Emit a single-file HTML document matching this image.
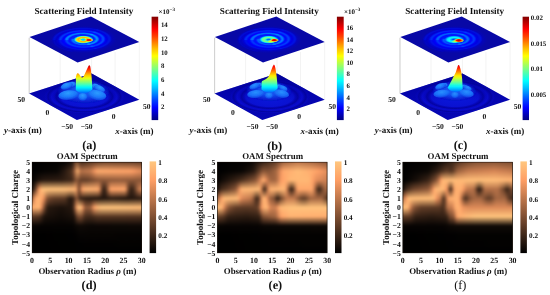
<!DOCTYPE html>
<html lang="en"><head><meta charset="utf-8"><title>Scattering field intensity and OAM spectrum</title>
<style>html,body{margin:0;padding:0;background:#fff}svg{display:block}text{font-family:"Liberation Serif","DejaVu Serif",serif;fill:#111;text-rendering:geometricPrecision}</style></head>
<body><svg width="550" height="295" viewBox="0 0 550 295">
<rect width="550" height="295" fill="#fff"/>
<defs>
<linearGradient id="jetcb" x1="0" y1="1" x2="0" y2="0"><stop offset="0" stop-color="#000080"/><stop offset="0.06" stop-color="#0000bf"/><stop offset="0.12" stop-color="#0000ff"/><stop offset="0.19" stop-color="#0040ff"/><stop offset="0.25" stop-color="#0080ff"/><stop offset="0.31" stop-color="#00bfff"/><stop offset="0.38" stop-color="#00ffff"/><stop offset="0.44" stop-color="#40ffbf"/><stop offset="0.5" stop-color="#80ff80"/><stop offset="0.56" stop-color="#bfff40"/><stop offset="0.62" stop-color="#ffff00"/><stop offset="0.69" stop-color="#ffbf00"/><stop offset="0.75" stop-color="#ff8000"/><stop offset="0.81" stop-color="#ff4000"/><stop offset="0.88" stop-color="#ff0000"/><stop offset="0.94" stop-color="#bf0000"/><stop offset="1" stop-color="#800000"/></linearGradient>
<linearGradient id="copcb" x1="0" y1="1" x2="0" y2="0"><stop offset="0" stop-color="#000000"/><stop offset="0.8" stop-color="#ff9f65"/><stop offset="1" stop-color="#ffc77f"/></linearGradient>
<filter id="b1" x="-20%" y="-20%" width="140%" height="140%"><feGaussianBlur stdDeviation="0.6"/></filter>
<filter id="b2" x="-20%" y="-20%" width="140%" height="140%"><feGaussianBlur stdDeviation="1.1"/></filter>
<filter id="b3" x="-20%" y="-20%" width="140%" height="140%"><feGaussianBlur stdDeviation="1.8"/></filter>
<filter id="hb" x="-5%" y="-5%" width="110%" height="110%" color-interpolation-filters="sRGB"><feGaussianBlur stdDeviation="1.4 1.0"/></filter>
<linearGradient id="pk_a" gradientUnits="userSpaceOnUse" x1="0" y1="63.8" x2="0" y2="92.5"><stop offset="0" stop-color="#9e0000"/><stop offset="0.08" stop-color="#dc0000"/><stop offset="0.17" stop-color="#ff1b00"/><stop offset="0.25" stop-color="#ff5900"/><stop offset="0.33" stop-color="#ff9700"/><stop offset="0.42" stop-color="#ffd500"/><stop offset="0.5" stop-color="#ebff14"/><stop offset="0.58" stop-color="#adff52"/><stop offset="0.67" stop-color="#6eff90"/><stop offset="0.75" stop-color="#30ffcf"/><stop offset="0.83" stop-color="#00f1ff"/><stop offset="0.92" stop-color="#00b3ff"/><stop offset="1" stop-color="#0075ff"/></linearGradient>
<linearGradient id="pk_b" gradientUnits="userSpaceOnUse" x1="0" y1="64" x2="0" y2="92"><stop offset="0" stop-color="#c70000"/><stop offset="0.08" stop-color="#ff0300"/><stop offset="0.17" stop-color="#ff3d00"/><stop offset="0.25" stop-color="#ff7800"/><stop offset="0.33" stop-color="#ffb200"/><stop offset="0.42" stop-color="#ffed00"/><stop offset="0.5" stop-color="#d6ff29"/><stop offset="0.58" stop-color="#9cff63"/><stop offset="0.67" stop-color="#61ff9e"/><stop offset="0.75" stop-color="#26ffd9"/><stop offset="0.83" stop-color="#00ebff"/><stop offset="0.92" stop-color="#00b0ff"/><stop offset="1" stop-color="#0075ff"/></linearGradient>
<linearGradient id="pk_c" gradientUnits="userSpaceOnUse" x1="0" y1="64.5" x2="0" y2="91.5"><stop offset="0" stop-color="#c70000"/><stop offset="0.08" stop-color="#ff0300"/><stop offset="0.17" stop-color="#ff3d00"/><stop offset="0.25" stop-color="#ff7800"/><stop offset="0.33" stop-color="#ffb200"/><stop offset="0.42" stop-color="#ffed00"/><stop offset="0.5" stop-color="#d6ff29"/><stop offset="0.58" stop-color="#9cff63"/><stop offset="0.67" stop-color="#61ff9e"/><stop offset="0.75" stop-color="#26ffd9"/><stop offset="0.83" stop-color="#00ebff"/><stop offset="0.92" stop-color="#00b0ff"/><stop offset="1" stop-color="#0075ff"/></linearGradient>
<radialGradient id="petal" cx="0.5" cy="0.3" r="0.8"><stop offset="0" stop-color="#2c9cff"/><stop offset="0.5" stop-color="#1c78fa"/><stop offset="0.85" stop-color="#0e40e4"/><stop offset="1" stop-color="#0820cc"/></radialGradient>
<radialGradient id="petal2" cx="0.5" cy="0.3" r="0.8"><stop offset="0" stop-color="#2890ff"/><stop offset="0.5" stop-color="#1a6ef8"/><stop offset="0.85" stop-color="#0e3ce2"/><stop offset="1" stop-color="#0820cc"/></radialGradient>
<radialGradient id="halo"><stop offset="0" stop-color="#1a64f6"/><stop offset="0.4" stop-color="#1450ee"/><stop offset="0.7" stop-color="#0a2cda"/><stop offset="0.9" stop-color="#0818c8" stop-opacity="0.7"/><stop offset="1" stop-color="#0606be" stop-opacity="0"/></radialGradient>
<radialGradient id="ring_a" gradientUnits="userSpaceOnUse" cx="0" cy="0" r="48"><stop offset="0" stop-color="#00dbff" stop-opacity="1"/><stop offset="0.05" stop-color="#00dbff" stop-opacity="1"/><stop offset="0.09" stop-color="#d1ff2e" stop-opacity="1"/><stop offset="0.13" stop-color="#ffb300" stop-opacity="1"/><stop offset="0.18" stop-color="#ffdb00" stop-opacity="1"/><stop offset="0.21" stop-color="#57ffa8" stop-opacity="1"/><stop offset="0.24" stop-color="#0094ff" stop-opacity="1"/><stop offset="0.27" stop-color="#0024ff" stop-opacity="1"/><stop offset="0.42" stop-color="#0014ff" stop-opacity="1"/><stop offset="0.54" stop-color="#0000ff" stop-opacity="1"/><stop offset="0.65" stop-color="#0000eb" stop-opacity="0.8"/><stop offset="0.75" stop-color="#0000db" stop-opacity="0.4"/><stop offset="0.88" stop-color="#0000d1" stop-opacity="0"/><stop offset="1" stop-color="#0000d1" stop-opacity="0"/></radialGradient>
<radialGradient id="hot_a"><stop offset="0" stop-color="#e50000"/><stop offset="0.4" stop-color="#ff1a00"/><stop offset="0.62" stop-color="#ffc700" stop-opacity="0.9"/><stop offset="0.82" stop-color="#a8ff57" stop-opacity="0.55"/><stop offset="1" stop-color="#2effd1" stop-opacity="0"/></radialGradient>
<radialGradient id="rip_a" gradientUnits="userSpaceOnUse" cx="0" cy="0" r="52"><stop offset="0" stop-color="#0a18dc" stop-opacity="1"/><stop offset="0.58" stop-color="#0a12d2" stop-opacity="1"/><stop offset="0.64" stop-color="#0606b6" stop-opacity="1"/><stop offset="0.69" stop-color="#0404a2" stop-opacity="1"/><stop offset="0.74" stop-color="#0808c2" stop-opacity="1"/><stop offset="0.8" stop-color="#0a0cce" stop-opacity="1"/><stop offset="0.85" stop-color="#0606b2" stop-opacity="1"/><stop offset="0.89" stop-color="#04049e" stop-opacity="1"/><stop offset="0.94" stop-color="#0808be" stop-opacity="0.7"/><stop offset="1" stop-color="#0606b0" stop-opacity="0"/></radialGradient>
<radialGradient id="ring_b" gradientUnits="userSpaceOnUse" cx="0" cy="0" r="48"><stop offset="0" stop-color="#0061ff" stop-opacity="1"/><stop offset="0.04" stop-color="#0075ff" stop-opacity="1"/><stop offset="0.09" stop-color="#2effd1" stop-opacity="1"/><stop offset="0.13" stop-color="#80ff80" stop-opacity="1"/><stop offset="0.18" stop-color="#57ffa8" stop-opacity="1"/><stop offset="0.21" stop-color="#00dbff" stop-opacity="1"/><stop offset="0.24" stop-color="#0061ff" stop-opacity="1"/><stop offset="0.27" stop-color="#0019ff" stop-opacity="1"/><stop offset="0.42" stop-color="#000fff" stop-opacity="1"/><stop offset="0.54" stop-color="#0000fa" stop-opacity="1"/><stop offset="0.65" stop-color="#0000eb" stop-opacity="0.8"/><stop offset="0.75" stop-color="#0000db" stop-opacity="0.4"/><stop offset="0.88" stop-color="#0000d1" stop-opacity="0"/><stop offset="1" stop-color="#0000d1" stop-opacity="0"/></radialGradient>
<radialGradient id="hot_b"><stop offset="0" stop-color="#c70000"/><stop offset="0.4" stop-color="#fa0000"/><stop offset="0.62" stop-color="#ffa800" stop-opacity="0.9"/><stop offset="0.82" stop-color="#c7ff38" stop-opacity="0.55"/><stop offset="1" stop-color="#4dffb2" stop-opacity="0"/></radialGradient>
<radialGradient id="hot2_b"><stop offset="0" stop-color="#faff05"/><stop offset="0.45" stop-color="#bdff42" stop-opacity="0.9"/><stop offset="0.75" stop-color="#57ffa8" stop-opacity="0.5"/><stop offset="1" stop-color="#05fffa" stop-opacity="0"/></radialGradient>
<radialGradient id="rip_b" gradientUnits="userSpaceOnUse" cx="0" cy="0" r="52"><stop offset="0" stop-color="#0a18dc" stop-opacity="1"/><stop offset="0.58" stop-color="#0a12d2" stop-opacity="1"/><stop offset="0.64" stop-color="#0606b6" stop-opacity="1"/><stop offset="0.69" stop-color="#0404a2" stop-opacity="1"/><stop offset="0.74" stop-color="#0808c2" stop-opacity="1"/><stop offset="0.8" stop-color="#0a0cce" stop-opacity="1"/><stop offset="0.85" stop-color="#0606b2" stop-opacity="1"/><stop offset="0.89" stop-color="#04049e" stop-opacity="1"/><stop offset="0.94" stop-color="#0808be" stop-opacity="0.7"/><stop offset="1" stop-color="#0606b0" stop-opacity="0"/></radialGradient>
<radialGradient id="ring_c" gradientUnits="userSpaceOnUse" cx="0" cy="0" r="48"><stop offset="0" stop-color="#0038ff" stop-opacity="1"/><stop offset="0.04" stop-color="#004dff" stop-opacity="1"/><stop offset="0.09" stop-color="#00c7ff" stop-opacity="1"/><stop offset="0.13" stop-color="#05fffa" stop-opacity="1"/><stop offset="0.18" stop-color="#00e5ff" stop-opacity="1"/><stop offset="0.21" stop-color="#009eff" stop-opacity="1"/><stop offset="0.24" stop-color="#004dff" stop-opacity="1"/><stop offset="0.27" stop-color="#0019ff" stop-opacity="1"/><stop offset="0.42" stop-color="#000aff" stop-opacity="1"/><stop offset="0.54" stop-color="#0000f8" stop-opacity="1"/><stop offset="0.65" stop-color="#0000e8" stop-opacity="0.8"/><stop offset="0.75" stop-color="#0000db" stop-opacity="0.4"/><stop offset="0.88" stop-color="#0000d1" stop-opacity="0"/><stop offset="1" stop-color="#0000d1" stop-opacity="0"/></radialGradient>
<radialGradient id="hot_c"><stop offset="0" stop-color="#c70000"/><stop offset="0.4" stop-color="#fa0000"/><stop offset="0.62" stop-color="#ffa800" stop-opacity="0.9"/><stop offset="0.82" stop-color="#c7ff38" stop-opacity="0.55"/><stop offset="1" stop-color="#4dffb2" stop-opacity="0"/></radialGradient>
<radialGradient id="hot2_c"><stop offset="0" stop-color="#bdff42"/><stop offset="0.45" stop-color="#80ff80" stop-opacity="0.9"/><stop offset="0.75" stop-color="#1affe5" stop-opacity="0.5"/><stop offset="1" stop-color="#00c7ff" stop-opacity="0"/></radialGradient>
<radialGradient id="rip_c" gradientUnits="userSpaceOnUse" cx="0" cy="0" r="52"><stop offset="0" stop-color="#0a18dc" stop-opacity="1"/><stop offset="0.58" stop-color="#0a12d2" stop-opacity="1"/><stop offset="0.64" stop-color="#0606b6" stop-opacity="1"/><stop offset="0.69" stop-color="#0404a2" stop-opacity="1"/><stop offset="0.74" stop-color="#0808c2" stop-opacity="1"/><stop offset="0.8" stop-color="#0a0cce" stop-opacity="1"/><stop offset="0.85" stop-color="#0606b2" stop-opacity="1"/><stop offset="0.89" stop-color="#04049e" stop-opacity="1"/><stop offset="0.94" stop-color="#0808be" stop-opacity="0.7"/><stop offset="1" stop-color="#0606b0" stop-opacity="0"/></radialGradient>
<filter id="b0" x="-20%" y="-20%" width="140%" height="140%"><feGaussianBlur stdDeviation="0.35"/></filter>
<linearGradient id="botshade" gradientUnits="userSpaceOnUse" x1="0" y1="73" x2="0" y2="120"><stop offset="0" stop-color="#000088" stop-opacity="0.75"/><stop offset="0.3" stop-color="#000098" stop-opacity="0.45"/><stop offset="0.6" stop-color="#0000b0" stop-opacity="0"/><stop offset="1" stop-color="#1010d8" stop-opacity="0.12"/></linearGradient>
<clipPath id="cliptop"><polygon points="29.5,37 90.9,16.6 139.3,42 77.6,62.4"/></clipPath>
<clipPath id="clipbot"><polygon points="29.2,93.6 91.6,73.5 139.3,99.8 76.9,119.9"/></clipPath>
<clipPath id="cliph"><rect x="32" y="162" width="109.8" height="91"/></clipPath>
<linearGradient id="hd0" gradientUnits="userSpaceOnUse" x1="0" y1="162" x2="0" y2="253"><stop offset="0" stop-color="#000000"/><stop offset="0.1" stop-color="#000000"/><stop offset="0.2" stop-color="#000000"/><stop offset="0.3" stop-color="#100a06"/><stop offset="0.4" stop-color="#72472d"/><stop offset="0.5" stop-color="#ffad6e"/><stop offset="0.6" stop-color="#5b3924"/><stop offset="0.7" stop-color="#080503"/><stop offset="0.8" stop-color="#000000"/><stop offset="0.9" stop-color="#000000"/><stop offset="1" stop-color="#000000"/></linearGradient>
<linearGradient id="hd1" gradientUnits="userSpaceOnUse" x1="0" y1="162" x2="0" y2="253"><stop offset="0" stop-color="#000000"/><stop offset="0.1" stop-color="#000000"/><stop offset="0.2" stop-color="#000000"/><stop offset="0.3" stop-color="#100a06"/><stop offset="0.4" stop-color="#72472d"/><stop offset="0.5" stop-color="#ffad6e"/><stop offset="0.6" stop-color="#5b3924"/><stop offset="0.7" stop-color="#080503"/><stop offset="0.8" stop-color="#000000"/><stop offset="0.9" stop-color="#000000"/><stop offset="1" stop-color="#000000"/></linearGradient>
<linearGradient id="hd2" gradientUnits="userSpaceOnUse" x1="0" y1="162" x2="0" y2="253"><stop offset="0" stop-color="#000000"/><stop offset="0.1" stop-color="#000000"/><stop offset="0.2" stop-color="#000000"/><stop offset="0.3" stop-color="#100a06"/><stop offset="0.4" stop-color="#72472d"/><stop offset="0.5" stop-color="#ffad6e"/><stop offset="0.6" stop-color="#5b3924"/><stop offset="0.7" stop-color="#080503"/><stop offset="0.8" stop-color="#000000"/><stop offset="0.9" stop-color="#000000"/><stop offset="1" stop-color="#000000"/></linearGradient>
<linearGradient id="hd3" gradientUnits="userSpaceOnUse" x1="0" y1="162" x2="0" y2="253"><stop offset="0" stop-color="#000000"/><stop offset="0.1" stop-color="#010000"/><stop offset="0.2" stop-color="#080503"/><stop offset="0.3" stop-color="#392417"/><stop offset="0.4" stop-color="#cd8052"/><stop offset="0.5" stop-color="#ffaf6f"/><stop offset="0.6" stop-color="#593723"/><stop offset="0.7" stop-color="#080503"/><stop offset="0.8" stop-color="#000000"/><stop offset="0.9" stop-color="#000000"/><stop offset="1" stop-color="#000000"/></linearGradient>
<linearGradient id="hd4" gradientUnits="userSpaceOnUse" x1="0" y1="162" x2="0" y2="253"><stop offset="0" stop-color="#010000"/><stop offset="0.1" stop-color="#010101"/><stop offset="0.2" stop-color="#100a06"/><stop offset="0.3" stop-color="#623d27"/><stop offset="0.4" stop-color="#ffa66a"/><stop offset="0.5" stop-color="#ffb171"/><stop offset="0.6" stop-color="#563622"/><stop offset="0.7" stop-color="#070403"/><stop offset="0.8" stop-color="#000000"/><stop offset="0.9" stop-color="#000000"/><stop offset="1" stop-color="#000000"/></linearGradient>
<linearGradient id="hd5" gradientUnits="userSpaceOnUse" x1="0" y1="162" x2="0" y2="253"><stop offset="0" stop-color="#010100"/><stop offset="0.1" stop-color="#020101"/><stop offset="0.2" stop-color="#160e09"/><stop offset="0.3" stop-color="#ac6c44"/><stop offset="0.4" stop-color="#ffae6f"/><stop offset="0.5" stop-color="#ffb472"/><stop offset="0.6" stop-color="#543421"/><stop offset="0.7" stop-color="#070403"/><stop offset="0.8" stop-color="#000000"/><stop offset="0.9" stop-color="#000000"/><stop offset="1" stop-color="#000000"/></linearGradient>
<linearGradient id="hd6" gradientUnits="userSpaceOnUse" x1="0" y1="162" x2="0" y2="253"><stop offset="0" stop-color="#010101"/><stop offset="0.1" stop-color="#030201"/><stop offset="0.2" stop-color="#1c110b"/><stop offset="0.3" stop-color="#f79a62"/><stop offset="0.4" stop-color="#ffb774"/><stop offset="0.5" stop-color="#ffb674"/><stop offset="0.6" stop-color="#513320"/><stop offset="0.7" stop-color="#060402"/><stop offset="0.8" stop-color="#000000"/><stop offset="0.9" stop-color="#000000"/><stop offset="1" stop-color="#000000"/></linearGradient>
<linearGradient id="hd7" gradientUnits="userSpaceOnUse" x1="0" y1="162" x2="0" y2="253"><stop offset="0" stop-color="#020101"/><stop offset="0.1" stop-color="#030201"/><stop offset="0.2" stop-color="#21150d"/><stop offset="0.3" stop-color="#ffb473"/><stop offset="0.4" stop-color="#ffaa6c"/><stop offset="0.5" stop-color="#f99b63"/><stop offset="0.6" stop-color="#3f2719"/><stop offset="0.7" stop-color="#050302"/><stop offset="0.8" stop-color="#000000"/><stop offset="0.9" stop-color="#000000"/><stop offset="1" stop-color="#000000"/></linearGradient>
<linearGradient id="hd8" gradientUnits="userSpaceOnUse" x1="0" y1="162" x2="0" y2="253"><stop offset="0" stop-color="#020101"/><stop offset="0.1" stop-color="#040302"/><stop offset="0.2" stop-color="#271810"/><stop offset="0.3" stop-color="#ffc17b"/><stop offset="0.4" stop-color="#fc9d64"/><stop offset="0.5" stop-color="#b06e46"/><stop offset="0.6" stop-color="#2c1c12"/><stop offset="0.7" stop-color="#050302"/><stop offset="0.8" stop-color="#000000"/><stop offset="0.9" stop-color="#000000"/><stop offset="1" stop-color="#000000"/></linearGradient>
<linearGradient id="hd9" gradientUnits="userSpaceOnUse" x1="0" y1="162" x2="0" y2="253"><stop offset="0" stop-color="#030201"/><stop offset="0.1" stop-color="#050302"/><stop offset="0.2" stop-color="#281910"/><stop offset="0.3" stop-color="#ffc17b"/><stop offset="0.4" stop-color="#d08253"/><stop offset="0.5" stop-color="#72472d"/><stop offset="0.6" stop-color="#1a100a"/><stop offset="0.7" stop-color="#050302"/><stop offset="0.8" stop-color="#000000"/><stop offset="0.9" stop-color="#000000"/><stop offset="1" stop-color="#000000"/></linearGradient>
<linearGradient id="hd10" gradientUnits="userSpaceOnUse" x1="0" y1="162" x2="0" y2="253"><stop offset="0" stop-color="#030201"/><stop offset="0.1" stop-color="#060302"/><stop offset="0.2" stop-color="#281910"/><stop offset="0.3" stop-color="#ffc17b"/><stop offset="0.4" stop-color="#945c3b"/><stop offset="0.5" stop-color="#3c2618"/><stop offset="0.6" stop-color="#19100a"/><stop offset="0.7" stop-color="#050302"/><stop offset="0.8" stop-color="#010000"/><stop offset="0.9" stop-color="#000000"/><stop offset="1" stop-color="#000000"/></linearGradient>
<linearGradient id="hd11" gradientUnits="userSpaceOnUse" x1="0" y1="162" x2="0" y2="253"><stop offset="0" stop-color="#030201"/><stop offset="0.1" stop-color="#060402"/><stop offset="0.2" stop-color="#291a10"/><stop offset="0.3" stop-color="#ffc17b"/><stop offset="0.4" stop-color="#774b2f"/><stop offset="0.5" stop-color="#26180f"/><stop offset="0.6" stop-color="#180f09"/><stop offset="0.7" stop-color="#050302"/><stop offset="0.8" stop-color="#010000"/><stop offset="0.9" stop-color="#000000"/><stop offset="1" stop-color="#000000"/></linearGradient>
<linearGradient id="hd12" gradientUnits="userSpaceOnUse" x1="0" y1="162" x2="0" y2="253"><stop offset="0" stop-color="#040201"/><stop offset="0.1" stop-color="#070403"/><stop offset="0.2" stop-color="#2a1a11"/><stop offset="0.3" stop-color="#ffc17b"/><stop offset="0.4" stop-color="#70462d"/><stop offset="0.5" stop-color="#24170e"/><stop offset="0.6" stop-color="#170e09"/><stop offset="0.7" stop-color="#050302"/><stop offset="0.8" stop-color="#010000"/><stop offset="0.9" stop-color="#010000"/><stop offset="1" stop-color="#000000"/></linearGradient>
<linearGradient id="hd13" gradientUnits="userSpaceOnUse" x1="0" y1="162" x2="0" y2="253"><stop offset="0" stop-color="#040202"/><stop offset="0.1" stop-color="#080503"/><stop offset="0.2" stop-color="#2a1a11"/><stop offset="0.3" stop-color="#ffc17b"/><stop offset="0.4" stop-color="#69412a"/><stop offset="0.5" stop-color="#23160e"/><stop offset="0.6" stop-color="#160e09"/><stop offset="0.7" stop-color="#050302"/><stop offset="0.8" stop-color="#010000"/><stop offset="0.9" stop-color="#010000"/><stop offset="1" stop-color="#000000"/></linearGradient>
<linearGradient id="hd14" gradientUnits="userSpaceOnUse" x1="0" y1="162" x2="0" y2="253"><stop offset="0" stop-color="#040302"/><stop offset="0.1" stop-color="#080503"/><stop offset="0.2" stop-color="#2b1b11"/><stop offset="0.3" stop-color="#ffc17b"/><stop offset="0.4" stop-color="#623d27"/><stop offset="0.5" stop-color="#21150d"/><stop offset="0.6" stop-color="#150d08"/><stop offset="0.7" stop-color="#050302"/><stop offset="0.8" stop-color="#010100"/><stop offset="0.9" stop-color="#010000"/><stop offset="1" stop-color="#000000"/></linearGradient>
<linearGradient id="hd15" gradientUnits="userSpaceOnUse" x1="0" y1="162" x2="0" y2="253"><stop offset="0" stop-color="#050302"/><stop offset="0.1" stop-color="#090604"/><stop offset="0.2" stop-color="#2c1b11"/><stop offset="0.3" stop-color="#ffc17b"/><stop offset="0.4" stop-color="#603c26"/><stop offset="0.5" stop-color="#1f130c"/><stop offset="0.6" stop-color="#140c08"/><stop offset="0.7" stop-color="#050302"/><stop offset="0.8" stop-color="#010100"/><stop offset="0.9" stop-color="#010000"/><stop offset="1" stop-color="#000000"/></linearGradient>
<linearGradient id="hd16" gradientUnits="userSpaceOnUse" x1="0" y1="162" x2="0" y2="253"><stop offset="0" stop-color="#050302"/><stop offset="0.1" stop-color="#0a0604"/><stop offset="0.2" stop-color="#2c1c12"/><stop offset="0.3" stop-color="#ffc17b"/><stop offset="0.4" stop-color="#5f3c26"/><stop offset="0.5" stop-color="#1d120c"/><stop offset="0.6" stop-color="#120c07"/><stop offset="0.7" stop-color="#050302"/><stop offset="0.8" stop-color="#010100"/><stop offset="0.9" stop-color="#010000"/><stop offset="1" stop-color="#000000"/></linearGradient>
<linearGradient id="hd17" gradientUnits="userSpaceOnUse" x1="0" y1="162" x2="0" y2="253"><stop offset="0" stop-color="#050302"/><stop offset="0.1" stop-color="#110b07"/><stop offset="0.2" stop-color="#2d1c12"/><stop offset="0.3" stop-color="#ffc17b"/><stop offset="0.4" stop-color="#5e3b26"/><stop offset="0.5" stop-color="#1c110b"/><stop offset="0.6" stop-color="#110b07"/><stop offset="0.7" stop-color="#050302"/><stop offset="0.8" stop-color="#010100"/><stop offset="0.9" stop-color="#010100"/><stop offset="1" stop-color="#000000"/></linearGradient>
<linearGradient id="hd18" gradientUnits="userSpaceOnUse" x1="0" y1="162" x2="0" y2="253"><stop offset="0" stop-color="#060402"/><stop offset="0.1" stop-color="#180f0a"/><stop offset="0.2" stop-color="#2e1c12"/><stop offset="0.3" stop-color="#ffc17b"/><stop offset="0.4" stop-color="#5d3a25"/><stop offset="0.5" stop-color="#1a100a"/><stop offset="0.6" stop-color="#100a06"/><stop offset="0.7" stop-color="#050302"/><stop offset="0.8" stop-color="#010100"/><stop offset="0.9" stop-color="#010100"/><stop offset="1" stop-color="#000000"/></linearGradient>
<linearGradient id="hd19" gradientUnits="userSpaceOnUse" x1="0" y1="162" x2="0" y2="253"><stop offset="0" stop-color="#060402"/><stop offset="0.1" stop-color="#20140d"/><stop offset="0.2" stop-color="#311e13"/><stop offset="0.3" stop-color="#ffc07a"/><stop offset="0.4" stop-color="#5c3a25"/><stop offset="0.5" stop-color="#1c110b"/><stop offset="0.6" stop-color="#120b07"/><stop offset="0.7" stop-color="#050302"/><stop offset="0.8" stop-color="#010100"/><stop offset="0.9" stop-color="#010100"/><stop offset="1" stop-color="#000000"/></linearGradient>
<linearGradient id="hd20" gradientUnits="userSpaceOnUse" x1="0" y1="162" x2="0" y2="253"><stop offset="0" stop-color="#070403"/><stop offset="0.1" stop-color="#271810"/><stop offset="0.2" stop-color="#342115"/><stop offset="0.3" stop-color="#ffbe79"/><stop offset="0.4" stop-color="#5b3924"/><stop offset="0.5" stop-color="#1e130c"/><stop offset="0.6" stop-color="#130c08"/><stop offset="0.7" stop-color="#050302"/><stop offset="0.8" stop-color="#010100"/><stop offset="0.9" stop-color="#010100"/><stop offset="1" stop-color="#000000"/></linearGradient>
<linearGradient id="hd21" gradientUnits="userSpaceOnUse" x1="0" y1="162" x2="0" y2="253"><stop offset="0" stop-color="#0b0705"/><stop offset="0.1" stop-color="#321f14"/><stop offset="0.2" stop-color="#372316"/><stop offset="0.3" stop-color="#ffbd78"/><stop offset="0.4" stop-color="#482d1c"/><stop offset="0.5" stop-color="#20140d"/><stop offset="0.6" stop-color="#140d08"/><stop offset="0.7" stop-color="#050302"/><stop offset="0.8" stop-color="#010101"/><stop offset="0.9" stop-color="#010100"/><stop offset="1" stop-color="#000000"/></linearGradient>
<linearGradient id="hd22" gradientUnits="userSpaceOnUse" x1="0" y1="162" x2="0" y2="253"><stop offset="0" stop-color="#100a06"/><stop offset="0.1" stop-color="#3c2618"/><stop offset="0.2" stop-color="#3b2517"/><stop offset="0.3" stop-color="#ffbb77"/><stop offset="0.4" stop-color="#342115"/><stop offset="0.5" stop-color="#22150d"/><stop offset="0.6" stop-color="#160e09"/><stop offset="0.7" stop-color="#050302"/><stop offset="0.8" stop-color="#010101"/><stop offset="0.9" stop-color="#010100"/><stop offset="1" stop-color="#000000"/></linearGradient>
<linearGradient id="hd23" gradientUnits="userSpaceOnUse" x1="0" y1="162" x2="0" y2="253"><stop offset="0" stop-color="#150d08"/><stop offset="0.1" stop-color="#472c1c"/><stop offset="0.2" stop-color="#3e2719"/><stop offset="0.3" stop-color="#ffba76"/><stop offset="0.4" stop-color="#21140d"/><stop offset="0.5" stop-color="#24160e"/><stop offset="0.6" stop-color="#170f09"/><stop offset="0.7" stop-color="#050302"/><stop offset="0.8" stop-color="#010101"/><stop offset="0.9" stop-color="#010100"/><stop offset="1" stop-color="#000000"/></linearGradient>
<linearGradient id="hd24" gradientUnits="userSpaceOnUse" x1="0" y1="162" x2="0" y2="253"><stop offset="0" stop-color="#1a100a"/><stop offset="0.1" stop-color="#513320"/><stop offset="0.2" stop-color="#41291a"/><stop offset="0.3" stop-color="#ffb875"/><stop offset="0.4" stop-color="#2e1c12"/><stop offset="0.5" stop-color="#26180f"/><stop offset="0.6" stop-color="#190f0a"/><stop offset="0.7" stop-color="#050302"/><stop offset="0.8" stop-color="#010101"/><stop offset="0.9" stop-color="#010100"/><stop offset="1" stop-color="#000000"/></linearGradient>
<linearGradient id="hd25" gradientUnits="userSpaceOnUse" x1="0" y1="162" x2="0" y2="253"><stop offset="0" stop-color="#452b1b"/><stop offset="0.1" stop-color="#8a5637"/><stop offset="0.2" stop-color="#603c26"/><stop offset="0.3" stop-color="#ffb774"/><stop offset="0.4" stop-color="#3b2517"/><stop offset="0.5" stop-color="#553522"/><stop offset="0.6" stop-color="#1a100a"/><stop offset="0.7" stop-color="#080503"/><stop offset="0.8" stop-color="#020101"/><stop offset="0.9" stop-color="#010100"/><stop offset="1" stop-color="#000000"/></linearGradient>
<linearGradient id="hd26" gradientUnits="userSpaceOnUse" x1="0" y1="162" x2="0" y2="253"><stop offset="0" stop-color="#6f452c"/><stop offset="0.1" stop-color="#c37a4e"/><stop offset="0.2" stop-color="#805033"/><stop offset="0.3" stop-color="#ffb070"/><stop offset="0.4" stop-color="#7c4d31"/><stop offset="0.5" stop-color="#c67c4f"/><stop offset="0.6" stop-color="#462c1c"/><stop offset="0.7" stop-color="#0b0704"/><stop offset="0.8" stop-color="#020101"/><stop offset="0.9" stop-color="#010101"/><stop offset="1" stop-color="#000000"/></linearGradient>
<linearGradient id="hd27" gradientUnits="userSpaceOnUse" x1="0" y1="162" x2="0" y2="253"><stop offset="0" stop-color="#794b30"/><stop offset="0.1" stop-color="#ffbd78"/><stop offset="0.2" stop-color="#875536"/><stop offset="0.3" stop-color="#ba744a"/><stop offset="0.4" stop-color="#875436"/><stop offset="0.5" stop-color="#ffae6f"/><stop offset="0.6" stop-color="#72472d"/><stop offset="0.7" stop-color="#0d0805"/><stop offset="0.8" stop-color="#040302"/><stop offset="0.9" stop-color="#010101"/><stop offset="1" stop-color="#000000"/></linearGradient>
<linearGradient id="hd28" gradientUnits="userSpaceOnUse" x1="0" y1="162" x2="0" y2="253"><stop offset="0" stop-color="#513320"/><stop offset="0.1" stop-color="#ce8152"/><stop offset="0.2" stop-color="#6c442b"/><stop offset="0.3" stop-color="#5d3a25"/><stop offset="0.4" stop-color="#41291a"/><stop offset="0.5" stop-color="#ffc77f"/><stop offset="0.6" stop-color="#774a2f"/><stop offset="0.7" stop-color="#100a06"/><stop offset="0.8" stop-color="#070403"/><stop offset="0.9" stop-color="#010101"/><stop offset="1" stop-color="#000000"/></linearGradient>
<linearGradient id="hd29" gradientUnits="userSpaceOnUse" x1="0" y1="162" x2="0" y2="253"><stop offset="0" stop-color="#442a1b"/><stop offset="0.1" stop-color="#b37047"/><stop offset="0.2" stop-color="#623d27"/><stop offset="0.3" stop-color="#e8915c"/><stop offset="0.4" stop-color="#392417"/><stop offset="0.5" stop-color="#ffb473"/><stop offset="0.6" stop-color="#7c4d31"/><stop offset="0.7" stop-color="#0f0a06"/><stop offset="0.8" stop-color="#060403"/><stop offset="0.9" stop-color="#010101"/><stop offset="1" stop-color="#000000"/></linearGradient>
<linearGradient id="hd30" gradientUnits="userSpaceOnUse" x1="0" y1="162" x2="0" y2="253"><stop offset="0" stop-color="#482d1d"/><stop offset="0.1" stop-color="#b67248"/><stop offset="0.2" stop-color="#623d27"/><stop offset="0.3" stop-color="#ffa76a"/><stop offset="0.4" stop-color="#311e13"/><stop offset="0.5" stop-color="#e48e5b"/><stop offset="0.6" stop-color="#623d27"/><stop offset="0.7" stop-color="#0f0906"/><stop offset="0.8" stop-color="#060403"/><stop offset="0.9" stop-color="#020101"/><stop offset="1" stop-color="#000000"/></linearGradient>
<linearGradient id="hd31" gradientUnits="userSpaceOnUse" x1="0" y1="162" x2="0" y2="253"><stop offset="0" stop-color="#4d301f"/><stop offset="0.1" stop-color="#b9744a"/><stop offset="0.2" stop-color="#623d27"/><stop offset="0.3" stop-color="#ffad6e"/><stop offset="0.4" stop-color="#2e1d12"/><stop offset="0.5" stop-color="#925b3a"/><stop offset="0.6" stop-color="#482d1c"/><stop offset="0.7" stop-color="#0e0905"/><stop offset="0.8" stop-color="#060403"/><stop offset="0.9" stop-color="#020101"/><stop offset="1" stop-color="#000000"/></linearGradient>
<linearGradient id="hd32" gradientUnits="userSpaceOnUse" x1="0" y1="162" x2="0" y2="253"><stop offset="0" stop-color="#523321"/><stop offset="0.1" stop-color="#bd764b"/><stop offset="0.2" stop-color="#623d27"/><stop offset="0.3" stop-color="#ffb372"/><stop offset="0.4" stop-color="#2c1b11"/><stop offset="0.5" stop-color="#925b3a"/><stop offset="0.6" stop-color="#452b1c"/><stop offset="0.7" stop-color="#0d0805"/><stop offset="0.8" stop-color="#060403"/><stop offset="0.9" stop-color="#020101"/><stop offset="1" stop-color="#000000"/></linearGradient>
<linearGradient id="hd33" gradientUnits="userSpaceOnUse" x1="0" y1="162" x2="0" y2="253"><stop offset="0" stop-color="#563622"/><stop offset="0.1" stop-color="#c0784c"/><stop offset="0.2" stop-color="#684129"/><stop offset="0.3" stop-color="#ffb271"/><stop offset="0.4" stop-color="#291a10"/><stop offset="0.5" stop-color="#925b3a"/><stop offset="0.6" stop-color="#432a1b"/><stop offset="0.7" stop-color="#0c0805"/><stop offset="0.8" stop-color="#060402"/><stop offset="0.9" stop-color="#020101"/><stop offset="1" stop-color="#000000"/></linearGradient>
<linearGradient id="hd34" gradientUnits="userSpaceOnUse" x1="0" y1="162" x2="0" y2="253"><stop offset="0" stop-color="#5b3924"/><stop offset="0.1" stop-color="#c37a4e"/><stop offset="0.2" stop-color="#6f452c"/><stop offset="0.3" stop-color="#ffb171"/><stop offset="0.4" stop-color="#271810"/><stop offset="0.5" stop-color="#925b3a"/><stop offset="0.6" stop-color="#41291a"/><stop offset="0.7" stop-color="#0b0705"/><stop offset="0.8" stop-color="#060402"/><stop offset="0.9" stop-color="#020101"/><stop offset="1" stop-color="#000000"/></linearGradient>
<linearGradient id="hd35" gradientUnits="userSpaceOnUse" x1="0" y1="162" x2="0" y2="253"><stop offset="0" stop-color="#5d3a25"/><stop offset="0.1" stop-color="#d78655"/><stop offset="0.2" stop-color="#75492f"/><stop offset="0.3" stop-color="#ffb070"/><stop offset="0.4" stop-color="#26180f"/><stop offset="0.5" stop-color="#c47b4e"/><stop offset="0.6" stop-color="#462c1c"/><stop offset="0.7" stop-color="#0b0705"/><stop offset="0.8" stop-color="#060402"/><stop offset="0.9" stop-color="#020101"/><stop offset="1" stop-color="#000000"/></linearGradient>
<linearGradient id="hd36" gradientUnits="userSpaceOnUse" x1="0" y1="162" x2="0" y2="253"><stop offset="0" stop-color="#603c26"/><stop offset="0.1" stop-color="#ea925d"/><stop offset="0.2" stop-color="#7c4d31"/><stop offset="0.3" stop-color="#ffaf70"/><stop offset="0.4" stop-color="#25170f"/><stop offset="0.5" stop-color="#f69a62"/><stop offset="0.6" stop-color="#4b2f1e"/><stop offset="0.7" stop-color="#0b0705"/><stop offset="0.8" stop-color="#060402"/><stop offset="0.9" stop-color="#020101"/><stop offset="1" stop-color="#000000"/></linearGradient>
<linearGradient id="hd37" gradientUnits="userSpaceOnUse" x1="0" y1="162" x2="0" y2="253"><stop offset="0" stop-color="#623d27"/><stop offset="0.1" stop-color="#fe9e65"/><stop offset="0.2" stop-color="#825134"/><stop offset="0.3" stop-color="#ffae6f"/><stop offset="0.4" stop-color="#24160e"/><stop offset="0.5" stop-color="#ffaf70"/><stop offset="0.6" stop-color="#503220"/><stop offset="0.7" stop-color="#0c0705"/><stop offset="0.8" stop-color="#060402"/><stop offset="0.9" stop-color="#020101"/><stop offset="1" stop-color="#000000"/></linearGradient>
<linearGradient id="hd38" gradientUnits="userSpaceOnUse" x1="0" y1="162" x2="0" y2="253"><stop offset="0" stop-color="#653f28"/><stop offset="0.1" stop-color="#ffab6d"/><stop offset="0.2" stop-color="#895536"/><stop offset="0.3" stop-color="#ffad6e"/><stop offset="0.4" stop-color="#23160e"/><stop offset="0.5" stop-color="#ffb674"/><stop offset="0.6" stop-color="#553522"/><stop offset="0.7" stop-color="#0c0705"/><stop offset="0.8" stop-color="#060402"/><stop offset="0.9" stop-color="#020101"/><stop offset="1" stop-color="#000000"/></linearGradient>
<linearGradient id="hd39" gradientUnits="userSpaceOnUse" x1="0" y1="162" x2="0" y2="253"><stop offset="0" stop-color="#674129"/><stop offset="0.1" stop-color="#ffaa6c"/><stop offset="0.2" stop-color="#895637"/><stop offset="0.3" stop-color="#e8915c"/><stop offset="0.4" stop-color="#22150d"/><stop offset="0.5" stop-color="#ffbc78"/><stop offset="0.6" stop-color="#543522"/><stop offset="0.7" stop-color="#0c0705"/><stop offset="0.8" stop-color="#060402"/><stop offset="0.9" stop-color="#020101"/><stop offset="1" stop-color="#000000"/></linearGradient>
<linearGradient id="hd40" gradientUnits="userSpaceOnUse" x1="0" y1="162" x2="0" y2="253"><stop offset="0" stop-color="#6a422a"/><stop offset="0.1" stop-color="#ffaa6c"/><stop offset="0.2" stop-color="#8a5637"/><stop offset="0.3" stop-color="#784b30"/><stop offset="0.4" stop-color="#21140d"/><stop offset="0.5" stop-color="#ffc37c"/><stop offset="0.6" stop-color="#543522"/><stop offset="0.7" stop-color="#0c0705"/><stop offset="0.8" stop-color="#060402"/><stop offset="0.9" stop-color="#020101"/><stop offset="1" stop-color="#000000"/></linearGradient>
<linearGradient id="hd41" gradientUnits="userSpaceOnUse" x1="0" y1="162" x2="0" y2="253"><stop offset="0" stop-color="#6c442b"/><stop offset="0.1" stop-color="#ffa96c"/><stop offset="0.2" stop-color="#8b5737"/><stop offset="0.3" stop-color="#392317"/><stop offset="0.4" stop-color="#23160e"/><stop offset="0.5" stop-color="#ffc37c"/><stop offset="0.6" stop-color="#543521"/><stop offset="0.7" stop-color="#0c0705"/><stop offset="0.8" stop-color="#060402"/><stop offset="0.9" stop-color="#020101"/><stop offset="1" stop-color="#000000"/></linearGradient>
<linearGradient id="hd42" gradientUnits="userSpaceOnUse" x1="0" y1="162" x2="0" y2="253"><stop offset="0" stop-color="#6f452c"/><stop offset="0.1" stop-color="#ffa96b"/><stop offset="0.2" stop-color="#8c5738"/><stop offset="0.3" stop-color="#332014"/><stop offset="0.4" stop-color="#25170f"/><stop offset="0.5" stop-color="#ffc37c"/><stop offset="0.6" stop-color="#543421"/><stop offset="0.7" stop-color="#0c0705"/><stop offset="0.8" stop-color="#060402"/><stop offset="0.9" stop-color="#020101"/><stop offset="1" stop-color="#000000"/></linearGradient>
<linearGradient id="hd43" gradientUnits="userSpaceOnUse" x1="0" y1="162" x2="0" y2="253"><stop offset="0" stop-color="#6e452c"/><stop offset="0.1" stop-color="#ffa86b"/><stop offset="0.2" stop-color="#8d5838"/><stop offset="0.3" stop-color="#72472d"/><stop offset="0.4" stop-color="#271810"/><stop offset="0.5" stop-color="#ffc37c"/><stop offset="0.6" stop-color="#543421"/><stop offset="0.7" stop-color="#0c0705"/><stop offset="0.8" stop-color="#060402"/><stop offset="0.9" stop-color="#020101"/><stop offset="1" stop-color="#000000"/></linearGradient>
<linearGradient id="hd44" gradientUnits="userSpaceOnUse" x1="0" y1="162" x2="0" y2="253"><stop offset="0" stop-color="#6d442b"/><stop offset="0.1" stop-color="#ffa86b"/><stop offset="0.2" stop-color="#8d5838"/><stop offset="0.3" stop-color="#bb754a"/><stop offset="0.4" stop-color="#291a10"/><stop offset="0.5" stop-color="#ffc27c"/><stop offset="0.6" stop-color="#543421"/><stop offset="0.7" stop-color="#0c0705"/><stop offset="0.8" stop-color="#060402"/><stop offset="0.9" stop-color="#020101"/><stop offset="1" stop-color="#000000"/></linearGradient>
<linearGradient id="hd45" gradientUnits="userSpaceOnUse" x1="0" y1="162" x2="0" y2="253"><stop offset="0" stop-color="#6d442b"/><stop offset="0.1" stop-color="#ffa76a"/><stop offset="0.2" stop-color="#8e5939"/><stop offset="0.3" stop-color="#ffa368"/><stop offset="0.4" stop-color="#2b1b11"/><stop offset="0.5" stop-color="#ffc27c"/><stop offset="0.6" stop-color="#543421"/><stop offset="0.7" stop-color="#0c0805"/><stop offset="0.8" stop-color="#060402"/><stop offset="0.9" stop-color="#020101"/><stop offset="1" stop-color="#000000"/></linearGradient>
<linearGradient id="hd46" gradientUnits="userSpaceOnUse" x1="0" y1="162" x2="0" y2="253"><stop offset="0" stop-color="#6c432b"/><stop offset="0.1" stop-color="#ffa76a"/><stop offset="0.2" stop-color="#8f5939"/><stop offset="0.3" stop-color="#ffa368"/><stop offset="0.4" stop-color="#2e1c12"/><stop offset="0.5" stop-color="#ffc27c"/><stop offset="0.6" stop-color="#533421"/><stop offset="0.7" stop-color="#0c0805"/><stop offset="0.8" stop-color="#060402"/><stop offset="0.9" stop-color="#020101"/><stop offset="1" stop-color="#000000"/></linearGradient>
<linearGradient id="hd47" gradientUnits="userSpaceOnUse" x1="0" y1="162" x2="0" y2="253"><stop offset="0" stop-color="#6b432b"/><stop offset="0.1" stop-color="#ffa66a"/><stop offset="0.2" stop-color="#905a39"/><stop offset="0.3" stop-color="#ffa468"/><stop offset="0.4" stop-color="#2c1b11"/><stop offset="0.5" stop-color="#ffc27b"/><stop offset="0.6" stop-color="#533421"/><stop offset="0.7" stop-color="#0c0805"/><stop offset="0.8" stop-color="#060302"/><stop offset="0.9" stop-color="#020201"/><stop offset="1" stop-color="#000000"/></linearGradient>
<linearGradient id="hd48" gradientUnits="userSpaceOnUse" x1="0" y1="162" x2="0" y2="253"><stop offset="0" stop-color="#6b432a"/><stop offset="0.1" stop-color="#ffa66a"/><stop offset="0.2" stop-color="#915a3a"/><stop offset="0.3" stop-color="#ffa468"/><stop offset="0.4" stop-color="#2a1a11"/><stop offset="0.5" stop-color="#ffc27b"/><stop offset="0.6" stop-color="#533421"/><stop offset="0.7" stop-color="#0c0805"/><stop offset="0.8" stop-color="#060302"/><stop offset="0.9" stop-color="#020201"/><stop offset="1" stop-color="#000000"/></linearGradient>
<linearGradient id="hd49" gradientUnits="userSpaceOnUse" x1="0" y1="162" x2="0" y2="253"><stop offset="0" stop-color="#6a422a"/><stop offset="0.1" stop-color="#ffa569"/><stop offset="0.2" stop-color="#915b3a"/><stop offset="0.3" stop-color="#ffa569"/><stop offset="0.4" stop-color="#291910"/><stop offset="0.5" stop-color="#ffc27b"/><stop offset="0.6" stop-color="#533421"/><stop offset="0.7" stop-color="#0c0805"/><stop offset="0.8" stop-color="#050302"/><stop offset="0.9" stop-color="#030201"/><stop offset="1" stop-color="#000000"/></linearGradient>
<linearGradient id="hd50" gradientUnits="userSpaceOnUse" x1="0" y1="162" x2="0" y2="253"><stop offset="0" stop-color="#69422a"/><stop offset="0.1" stop-color="#ffa569"/><stop offset="0.2" stop-color="#925b3a"/><stop offset="0.3" stop-color="#ffa569"/><stop offset="0.4" stop-color="#271810"/><stop offset="0.5" stop-color="#ffc17b"/><stop offset="0.6" stop-color="#533421"/><stop offset="0.7" stop-color="#0c0805"/><stop offset="0.8" stop-color="#050302"/><stop offset="0.9" stop-color="#030201"/><stop offset="1" stop-color="#000000"/></linearGradient>
<linearGradient id="hd51" gradientUnits="userSpaceOnUse" x1="0" y1="162" x2="0" y2="253"><stop offset="0" stop-color="#69412a"/><stop offset="0.1" stop-color="#ffa569"/><stop offset="0.2" stop-color="#915b3a"/><stop offset="0.3" stop-color="#ffa669"/><stop offset="0.4" stop-color="#25170f"/><stop offset="0.5" stop-color="#ffc17b"/><stop offset="0.6" stop-color="#533421"/><stop offset="0.7" stop-color="#0c0805"/><stop offset="0.8" stop-color="#050302"/><stop offset="0.9" stop-color="#030201"/><stop offset="1" stop-color="#000000"/></linearGradient>
<linearGradient id="hd52" gradientUnits="userSpaceOnUse" x1="0" y1="162" x2="0" y2="253"><stop offset="0" stop-color="#684129"/><stop offset="0.1" stop-color="#ffa469"/><stop offset="0.2" stop-color="#915a3a"/><stop offset="0.3" stop-color="#ffa66a"/><stop offset="0.4" stop-color="#24160e"/><stop offset="0.5" stop-color="#ffc17b"/><stop offset="0.6" stop-color="#533421"/><stop offset="0.7" stop-color="#0c0805"/><stop offset="0.8" stop-color="#050302"/><stop offset="0.9" stop-color="#030201"/><stop offset="1" stop-color="#000000"/></linearGradient>
<linearGradient id="hd53" gradientUnits="userSpaceOnUse" x1="0" y1="162" x2="0" y2="253"><stop offset="0" stop-color="#674129"/><stop offset="0.1" stop-color="#ffa468"/><stop offset="0.2" stop-color="#905a39"/><stop offset="0.3" stop-color="#ffa76a"/><stop offset="0.4" stop-color="#22150e"/><stop offset="0.5" stop-color="#ffc07b"/><stop offset="0.6" stop-color="#533421"/><stop offset="0.7" stop-color="#0c0805"/><stop offset="0.8" stop-color="#050302"/><stop offset="0.9" stop-color="#030201"/><stop offset="1" stop-color="#000000"/></linearGradient>
<linearGradient id="hd54" gradientUnits="userSpaceOnUse" x1="0" y1="162" x2="0" y2="253"><stop offset="0" stop-color="#674029"/><stop offset="0.1" stop-color="#ffa368"/><stop offset="0.2" stop-color="#8f5939"/><stop offset="0.3" stop-color="#ad6c45"/><stop offset="0.4" stop-color="#21140d"/><stop offset="0.5" stop-color="#ffc07a"/><stop offset="0.6" stop-color="#523321"/><stop offset="0.7" stop-color="#0d0805"/><stop offset="0.8" stop-color="#050302"/><stop offset="0.9" stop-color="#030201"/><stop offset="1" stop-color="#000000"/></linearGradient>
<linearGradient id="hd55" gradientUnits="userSpaceOnUse" x1="0" y1="162" x2="0" y2="253"><stop offset="0" stop-color="#664029"/><stop offset="0.1" stop-color="#ffa368"/><stop offset="0.2" stop-color="#8e5939"/><stop offset="0.3" stop-color="#5b3924"/><stop offset="0.4" stop-color="#22150e"/><stop offset="0.5" stop-color="#ffbf7a"/><stop offset="0.6" stop-color="#523321"/><stop offset="0.7" stop-color="#0d0805"/><stop offset="0.8" stop-color="#050302"/><stop offset="0.9" stop-color="#030201"/><stop offset="1" stop-color="#000000"/></linearGradient>
<linearGradient id="hd56" gradientUnits="userSpaceOnUse" x1="0" y1="162" x2="0" y2="253"><stop offset="0" stop-color="#653f28"/><stop offset="0.1" stop-color="#ffa368"/><stop offset="0.2" stop-color="#8d5838"/><stop offset="0.3" stop-color="#3b2517"/><stop offset="0.4" stop-color="#24160e"/><stop offset="0.5" stop-color="#ffbf79"/><stop offset="0.6" stop-color="#523321"/><stop offset="0.7" stop-color="#0d0805"/><stop offset="0.8" stop-color="#050302"/><stop offset="0.9" stop-color="#030201"/><stop offset="1" stop-color="#000000"/></linearGradient>
<linearGradient id="hd57" gradientUnits="userSpaceOnUse" x1="0" y1="162" x2="0" y2="253"><stop offset="0" stop-color="#653f28"/><stop offset="0.1" stop-color="#fe9e65"/><stop offset="0.2" stop-color="#8d5838"/><stop offset="0.3" stop-color="#342115"/><stop offset="0.4" stop-color="#25170f"/><stop offset="0.5" stop-color="#ffbe79"/><stop offset="0.6" stop-color="#523321"/><stop offset="0.7" stop-color="#0d0805"/><stop offset="0.8" stop-color="#050302"/><stop offset="0.9" stop-color="#030201"/><stop offset="1" stop-color="#000000"/></linearGradient>
<linearGradient id="hd58" gradientUnits="userSpaceOnUse" x1="0" y1="162" x2="0" y2="253"><stop offset="0" stop-color="#643f28"/><stop offset="0.1" stop-color="#f79a62"/><stop offset="0.2" stop-color="#8c5738"/><stop offset="0.3" stop-color="#553522"/><stop offset="0.4" stop-color="#271810"/><stop offset="0.5" stop-color="#ffbd79"/><stop offset="0.6" stop-color="#523321"/><stop offset="0.7" stop-color="#0d0805"/><stop offset="0.8" stop-color="#050302"/><stop offset="0.9" stop-color="#030201"/><stop offset="1" stop-color="#000000"/></linearGradient>
<linearGradient id="hd59" gradientUnits="userSpaceOnUse" x1="0" y1="162" x2="0" y2="253"><stop offset="0" stop-color="#633e28"/><stop offset="0.1" stop-color="#f19660"/><stop offset="0.2" stop-color="#8b5737"/><stop offset="0.3" stop-color="#7f4f32"/><stop offset="0.4" stop-color="#291910"/><stop offset="0.5" stop-color="#ffbd78"/><stop offset="0.6" stop-color="#523321"/><stop offset="0.7" stop-color="#0d0805"/><stop offset="0.8" stop-color="#050302"/><stop offset="0.9" stop-color="#030201"/><stop offset="1" stop-color="#000000"/></linearGradient>
<linearGradient id="hd60" gradientUnits="userSpaceOnUse" x1="0" y1="162" x2="0" y2="253"><stop offset="0" stop-color="#633e27"/><stop offset="0.1" stop-color="#ea925d"/><stop offset="0.2" stop-color="#8a5637"/><stop offset="0.3" stop-color="#b06e46"/><stop offset="0.4" stop-color="#2a1a11"/><stop offset="0.5" stop-color="#ffbc78"/><stop offset="0.6" stop-color="#523320"/><stop offset="0.7" stop-color="#0d0805"/><stop offset="0.8" stop-color="#050302"/><stop offset="0.9" stop-color="#030201"/><stop offset="1" stop-color="#000000"/></linearGradient>
<linearGradient id="hd61" gradientUnits="userSpaceOnUse" x1="0" y1="162" x2="0" y2="253"><stop offset="0" stop-color="#623d27"/><stop offset="0.1" stop-color="#e48e5b"/><stop offset="0.2" stop-color="#895637"/><stop offset="0.3" stop-color="#c97e50"/><stop offset="0.4" stop-color="#2c1b11"/><stop offset="0.5" stop-color="#ffbc77"/><stop offset="0.6" stop-color="#513320"/><stop offset="0.7" stop-color="#0d0805"/><stop offset="0.8" stop-color="#050302"/><stop offset="0.9" stop-color="#030201"/><stop offset="1" stop-color="#000000"/></linearGradient>
<linearGradient id="hd62" gradientUnits="userSpaceOnUse" x1="0" y1="162" x2="0" y2="253"><stop offset="0" stop-color="#623d27"/><stop offset="0.1" stop-color="#dd8a58"/><stop offset="0.2" stop-color="#895536"/><stop offset="0.3" stop-color="#d38454"/><stop offset="0.4" stop-color="#2e1c12"/><stop offset="0.5" stop-color="#ffbb77"/><stop offset="0.6" stop-color="#513320"/><stop offset="0.7" stop-color="#0d0805"/><stop offset="0.8" stop-color="#050302"/><stop offset="0.9" stop-color="#030201"/><stop offset="1" stop-color="#000000"/></linearGradient>
<linearGradient id="hd63" gradientUnits="userSpaceOnUse" x1="0" y1="162" x2="0" y2="253"><stop offset="0" stop-color="#623d27"/><stop offset="0.1" stop-color="#dd8a58"/><stop offset="0.2" stop-color="#895536"/><stop offset="0.3" stop-color="#d38454"/><stop offset="0.4" stop-color="#2e1c12"/><stop offset="0.5" stop-color="#ffbb77"/><stop offset="0.6" stop-color="#513320"/><stop offset="0.7" stop-color="#0d0805"/><stop offset="0.8" stop-color="#050302"/><stop offset="0.9" stop-color="#030201"/><stop offset="1" stop-color="#000000"/></linearGradient>
<linearGradient id="hd64" gradientUnits="userSpaceOnUse" x1="0" y1="162" x2="0" y2="253"><stop offset="0" stop-color="#623d27"/><stop offset="0.1" stop-color="#dd8a58"/><stop offset="0.2" stop-color="#895536"/><stop offset="0.3" stop-color="#d38454"/><stop offset="0.4" stop-color="#2e1c12"/><stop offset="0.5" stop-color="#ffbb77"/><stop offset="0.6" stop-color="#513320"/><stop offset="0.7" stop-color="#0d0805"/><stop offset="0.8" stop-color="#050302"/><stop offset="0.9" stop-color="#030201"/><stop offset="1" stop-color="#000000"/></linearGradient>
<linearGradient id="he0" gradientUnits="userSpaceOnUse" x1="0" y1="162" x2="0" y2="253"><stop offset="0" stop-color="#000000"/><stop offset="0.1" stop-color="#000000"/><stop offset="0.2" stop-color="#000000"/><stop offset="0.3" stop-color="#100a06"/><stop offset="0.4" stop-color="#925b3a"/><stop offset="0.5" stop-color="#ffbb77"/><stop offset="0.6" stop-color="#684129"/><stop offset="0.7" stop-color="#080503"/><stop offset="0.8" stop-color="#000000"/><stop offset="0.9" stop-color="#000000"/><stop offset="1" stop-color="#000000"/></linearGradient>
<linearGradient id="he1" gradientUnits="userSpaceOnUse" x1="0" y1="162" x2="0" y2="253"><stop offset="0" stop-color="#000000"/><stop offset="0.1" stop-color="#000000"/><stop offset="0.2" stop-color="#000000"/><stop offset="0.3" stop-color="#100a06"/><stop offset="0.4" stop-color="#925b3a"/><stop offset="0.5" stop-color="#ffbb77"/><stop offset="0.6" stop-color="#684129"/><stop offset="0.7" stop-color="#080503"/><stop offset="0.8" stop-color="#000000"/><stop offset="0.9" stop-color="#000000"/><stop offset="1" stop-color="#000000"/></linearGradient>
<linearGradient id="he2" gradientUnits="userSpaceOnUse" x1="0" y1="162" x2="0" y2="253"><stop offset="0" stop-color="#000000"/><stop offset="0.1" stop-color="#000000"/><stop offset="0.2" stop-color="#000000"/><stop offset="0.3" stop-color="#100a06"/><stop offset="0.4" stop-color="#925b3a"/><stop offset="0.5" stop-color="#ffbb77"/><stop offset="0.6" stop-color="#684129"/><stop offset="0.7" stop-color="#080503"/><stop offset="0.8" stop-color="#000000"/><stop offset="0.9" stop-color="#000000"/><stop offset="1" stop-color="#000000"/></linearGradient>
<linearGradient id="he3" gradientUnits="userSpaceOnUse" x1="0" y1="162" x2="0" y2="253"><stop offset="0" stop-color="#000000"/><stop offset="0.1" stop-color="#010000"/><stop offset="0.2" stop-color="#070403"/><stop offset="0.3" stop-color="#291910"/><stop offset="0.4" stop-color="#bf784c"/><stop offset="0.5" stop-color="#ffbb77"/><stop offset="0.6" stop-color="#643e28"/><stop offset="0.7" stop-color="#080503"/><stop offset="0.8" stop-color="#000000"/><stop offset="0.9" stop-color="#000000"/><stop offset="1" stop-color="#000000"/></linearGradient>
<linearGradient id="he4" gradientUnits="userSpaceOnUse" x1="0" y1="162" x2="0" y2="253"><stop offset="0" stop-color="#010000"/><stop offset="0.1" stop-color="#010101"/><stop offset="0.2" stop-color="#0d0805"/><stop offset="0.3" stop-color="#41291a"/><stop offset="0.4" stop-color="#ed945e"/><stop offset="0.5" stop-color="#ffbb77"/><stop offset="0.6" stop-color="#5f3c26"/><stop offset="0.7" stop-color="#080503"/><stop offset="0.8" stop-color="#000000"/><stop offset="0.9" stop-color="#000000"/><stop offset="1" stop-color="#000000"/></linearGradient>
<linearGradient id="he5" gradientUnits="userSpaceOnUse" x1="0" y1="162" x2="0" y2="253"><stop offset="0" stop-color="#010100"/><stop offset="0.1" stop-color="#020101"/><stop offset="0.2" stop-color="#120b07"/><stop offset="0.3" stop-color="#492e1d"/><stop offset="0.4" stop-color="#ffb070"/><stop offset="0.5" stop-color="#ffab6d"/><stop offset="0.6" stop-color="#5b3924"/><stop offset="0.7" stop-color="#070503"/><stop offset="0.8" stop-color="#000000"/><stop offset="0.9" stop-color="#000000"/><stop offset="1" stop-color="#000000"/></linearGradient>
<linearGradient id="he6" gradientUnits="userSpaceOnUse" x1="0" y1="162" x2="0" y2="253"><stop offset="0" stop-color="#010101"/><stop offset="0.1" stop-color="#030201"/><stop offset="0.2" stop-color="#170e09"/><stop offset="0.3" stop-color="#513320"/><stop offset="0.4" stop-color="#ffbb77"/><stop offset="0.5" stop-color="#d08253"/><stop offset="0.6" stop-color="#4e311f"/><stop offset="0.7" stop-color="#070403"/><stop offset="0.8" stop-color="#000000"/><stop offset="0.9" stop-color="#000000"/><stop offset="1" stop-color="#000000"/></linearGradient>
<linearGradient id="he7" gradientUnits="userSpaceOnUse" x1="0" y1="162" x2="0" y2="253"><stop offset="0" stop-color="#020101"/><stop offset="0.1" stop-color="#030201"/><stop offset="0.2" stop-color="#1c110b"/><stop offset="0.3" stop-color="#593824"/><stop offset="0.4" stop-color="#ffbb77"/><stop offset="0.5" stop-color="#ab6b44"/><stop offset="0.6" stop-color="#41291a"/><stop offset="0.7" stop-color="#070403"/><stop offset="0.8" stop-color="#000000"/><stop offset="0.9" stop-color="#000000"/><stop offset="1" stop-color="#000000"/></linearGradient>
<linearGradient id="he8" gradientUnits="userSpaceOnUse" x1="0" y1="162" x2="0" y2="253"><stop offset="0" stop-color="#020101"/><stop offset="0.1" stop-color="#040302"/><stop offset="0.2" stop-color="#21140d"/><stop offset="0.3" stop-color="#623d27"/><stop offset="0.4" stop-color="#ffbb77"/><stop offset="0.5" stop-color="#8e5938"/><stop offset="0.6" stop-color="#342115"/><stop offset="0.7" stop-color="#070403"/><stop offset="0.8" stop-color="#000000"/><stop offset="0.9" stop-color="#000000"/><stop offset="1" stop-color="#000000"/></linearGradient>
<linearGradient id="he9" gradientUnits="userSpaceOnUse" x1="0" y1="162" x2="0" y2="253"><stop offset="0" stop-color="#030201"/><stop offset="0.1" stop-color="#050302"/><stop offset="0.2" stop-color="#26180f"/><stop offset="0.3" stop-color="#6b432b"/><stop offset="0.4" stop-color="#ffbb77"/><stop offset="0.5" stop-color="#7d4e32"/><stop offset="0.6" stop-color="#332014"/><stop offset="0.7" stop-color="#070403"/><stop offset="0.8" stop-color="#000000"/><stop offset="0.9" stop-color="#000000"/><stop offset="1" stop-color="#000000"/></linearGradient>
<linearGradient id="he10" gradientUnits="userSpaceOnUse" x1="0" y1="162" x2="0" y2="253"><stop offset="0" stop-color="#030201"/><stop offset="0.1" stop-color="#060302"/><stop offset="0.2" stop-color="#2b1b11"/><stop offset="0.3" stop-color="#75492f"/><stop offset="0.4" stop-color="#ffbb77"/><stop offset="0.5" stop-color="#74482e"/><stop offset="0.6" stop-color="#321f14"/><stop offset="0.7" stop-color="#070403"/><stop offset="0.8" stop-color="#010000"/><stop offset="0.9" stop-color="#000000"/><stop offset="1" stop-color="#000000"/></linearGradient>
<linearGradient id="he11" gradientUnits="userSpaceOnUse" x1="0" y1="162" x2="0" y2="253"><stop offset="0" stop-color="#030201"/><stop offset="0.1" stop-color="#060402"/><stop offset="0.2" stop-color="#311e13"/><stop offset="0.3" stop-color="#7f4f32"/><stop offset="0.4" stop-color="#ffbb77"/><stop offset="0.5" stop-color="#6b432a"/><stop offset="0.6" stop-color="#311f14"/><stop offset="0.7" stop-color="#070403"/><stop offset="0.8" stop-color="#010000"/><stop offset="0.9" stop-color="#000000"/><stop offset="1" stop-color="#000000"/></linearGradient>
<linearGradient id="he12" gradientUnits="userSpaceOnUse" x1="0" y1="162" x2="0" y2="253"><stop offset="0" stop-color="#040201"/><stop offset="0.1" stop-color="#070403"/><stop offset="0.2" stop-color="#362216"/><stop offset="0.3" stop-color="#895536"/><stop offset="0.4" stop-color="#ffbb77"/><stop offset="0.5" stop-color="#623d27"/><stop offset="0.6" stop-color="#301e13"/><stop offset="0.7" stop-color="#070403"/><stop offset="0.8" stop-color="#010000"/><stop offset="0.9" stop-color="#010000"/><stop offset="1" stop-color="#000000"/></linearGradient>
<linearGradient id="he13" gradientUnits="userSpaceOnUse" x1="0" y1="162" x2="0" y2="253"><stop offset="0" stop-color="#040202"/><stop offset="0.1" stop-color="#080503"/><stop offset="0.2" stop-color="#3c2518"/><stop offset="0.3" stop-color="#b16f47"/><stop offset="0.4" stop-color="#ffbb77"/><stop offset="0.5" stop-color="#603c26"/><stop offset="0.6" stop-color="#2f1d13"/><stop offset="0.7" stop-color="#070403"/><stop offset="0.8" stop-color="#010000"/><stop offset="0.9" stop-color="#010000"/><stop offset="1" stop-color="#000000"/></linearGradient>
<linearGradient id="he14" gradientUnits="userSpaceOnUse" x1="0" y1="162" x2="0" y2="253"><stop offset="0" stop-color="#040302"/><stop offset="0.1" stop-color="#080503"/><stop offset="0.2" stop-color="#41291a"/><stop offset="0.3" stop-color="#e08c59"/><stop offset="0.4" stop-color="#ffa76b"/><stop offset="0.5" stop-color="#5f3c26"/><stop offset="0.6" stop-color="#2e1d12"/><stop offset="0.7" stop-color="#070403"/><stop offset="0.8" stop-color="#010100"/><stop offset="0.9" stop-color="#010000"/><stop offset="1" stop-color="#000000"/></linearGradient>
<linearGradient id="he15" gradientUnits="userSpaceOnUse" x1="0" y1="162" x2="0" y2="253"><stop offset="0" stop-color="#050302"/><stop offset="0.1" stop-color="#090604"/><stop offset="0.2" stop-color="#492e1d"/><stop offset="0.3" stop-color="#ffb070"/><stop offset="0.4" stop-color="#e58f5b"/><stop offset="0.5" stop-color="#5e3b26"/><stop offset="0.6" stop-color="#2d1c12"/><stop offset="0.7" stop-color="#070403"/><stop offset="0.8" stop-color="#010100"/><stop offset="0.9" stop-color="#010000"/><stop offset="1" stop-color="#000000"/></linearGradient>
<linearGradient id="he16" gradientUnits="userSpaceOnUse" x1="0" y1="162" x2="0" y2="253"><stop offset="0" stop-color="#050302"/><stop offset="0.1" stop-color="#0a0604"/><stop offset="0.2" stop-color="#513320"/><stop offset="0.3" stop-color="#ffb775"/><stop offset="0.4" stop-color="#d88756"/><stop offset="0.5" stop-color="#5d3a25"/><stop offset="0.6" stop-color="#2c1c12"/><stop offset="0.7" stop-color="#070403"/><stop offset="0.8" stop-color="#010100"/><stop offset="0.9" stop-color="#010000"/><stop offset="1" stop-color="#000000"/></linearGradient>
<linearGradient id="he17" gradientUnits="userSpaceOnUse" x1="0" y1="162" x2="0" y2="253"><stop offset="0" stop-color="#050302"/><stop offset="0.1" stop-color="#0f0906"/><stop offset="0.2" stop-color="#593824"/><stop offset="0.3" stop-color="#ffb875"/><stop offset="0.4" stop-color="#d28354"/><stop offset="0.5" stop-color="#5c3a25"/><stop offset="0.6" stop-color="#2b1b11"/><stop offset="0.7" stop-color="#070403"/><stop offset="0.8" stop-color="#010100"/><stop offset="0.9" stop-color="#010100"/><stop offset="1" stop-color="#000000"/></linearGradient>
<linearGradient id="he18" gradientUnits="userSpaceOnUse" x1="0" y1="162" x2="0" y2="253"><stop offset="0" stop-color="#060402"/><stop offset="0.1" stop-color="#140c08"/><stop offset="0.2" stop-color="#623d27"/><stop offset="0.3" stop-color="#ffb875"/><stop offset="0.4" stop-color="#cc8051"/><stop offset="0.5" stop-color="#5b3924"/><stop offset="0.6" stop-color="#2a1a11"/><stop offset="0.7" stop-color="#070403"/><stop offset="0.8" stop-color="#010100"/><stop offset="0.9" stop-color="#010100"/><stop offset="1" stop-color="#000000"/></linearGradient>
<linearGradient id="he19" gradientUnits="userSpaceOnUse" x1="0" y1="162" x2="0" y2="253"><stop offset="0" stop-color="#060402"/><stop offset="0.1" stop-color="#180f0a"/><stop offset="0.2" stop-color="#69422a"/><stop offset="0.3" stop-color="#ffb875"/><stop offset="0.4" stop-color="#c67c4f"/><stop offset="0.5" stop-color="#5c3a25"/><stop offset="0.6" stop-color="#2c1b11"/><stop offset="0.7" stop-color="#070403"/><stop offset="0.8" stop-color="#010100"/><stop offset="0.9" stop-color="#010100"/><stop offset="1" stop-color="#000000"/></linearGradient>
<linearGradient id="he20" gradientUnits="userSpaceOnUse" x1="0" y1="162" x2="0" y2="253"><stop offset="0" stop-color="#070403"/><stop offset="0.1" stop-color="#1d120c"/><stop offset="0.2" stop-color="#71472d"/><stop offset="0.3" stop-color="#ffb976"/><stop offset="0.4" stop-color="#c0784c"/><stop offset="0.5" stop-color="#5d3a25"/><stop offset="0.6" stop-color="#2d1c12"/><stop offset="0.7" stop-color="#070403"/><stop offset="0.8" stop-color="#010100"/><stop offset="0.9" stop-color="#010100"/><stop offset="1" stop-color="#000000"/></linearGradient>
<linearGradient id="he21" gradientUnits="userSpaceOnUse" x1="0" y1="162" x2="0" y2="253"><stop offset="0" stop-color="#0d0805"/><stop offset="0.1" stop-color="#22150e"/><stop offset="0.2" stop-color="#794c30"/><stop offset="0.3" stop-color="#ffb976"/><stop offset="0.4" stop-color="#ae6d45"/><stop offset="0.5" stop-color="#5e3b25"/><stop offset="0.6" stop-color="#2e1d12"/><stop offset="0.7" stop-color="#070403"/><stop offset="0.8" stop-color="#010101"/><stop offset="0.9" stop-color="#010100"/><stop offset="1" stop-color="#000000"/></linearGradient>
<linearGradient id="he22" gradientUnits="userSpaceOnUse" x1="0" y1="162" x2="0" y2="253"><stop offset="0" stop-color="#140c08"/><stop offset="0.1" stop-color="#271810"/><stop offset="0.2" stop-color="#815033"/><stop offset="0.3" stop-color="#ffba76"/><stop offset="0.4" stop-color="#895536"/><stop offset="0.5" stop-color="#5f3b26"/><stop offset="0.6" stop-color="#301e13"/><stop offset="0.7" stop-color="#070403"/><stop offset="0.8" stop-color="#010101"/><stop offset="0.9" stop-color="#010100"/><stop offset="1" stop-color="#000000"/></linearGradient>
<linearGradient id="he23" gradientUnits="userSpaceOnUse" x1="0" y1="162" x2="0" y2="253"><stop offset="0" stop-color="#1a100a"/><stop offset="0.1" stop-color="#3b2517"/><stop offset="0.2" stop-color="#895536"/><stop offset="0.3" stop-color="#ffba77"/><stop offset="0.4" stop-color="#4c2f1e"/><stop offset="0.5" stop-color="#603c26"/><stop offset="0.6" stop-color="#311f14"/><stop offset="0.7" stop-color="#070403"/><stop offset="0.8" stop-color="#010101"/><stop offset="0.9" stop-color="#010100"/><stop offset="1" stop-color="#000000"/></linearGradient>
<linearGradient id="he24" gradientUnits="userSpaceOnUse" x1="0" y1="162" x2="0" y2="253"><stop offset="0" stop-color="#21140d"/><stop offset="0.1" stop-color="#4e311f"/><stop offset="0.2" stop-color="#a76842"/><stop offset="0.3" stop-color="#ffbb77"/><stop offset="0.4" stop-color="#3a2417"/><stop offset="0.5" stop-color="#613d27"/><stop offset="0.6" stop-color="#332014"/><stop offset="0.7" stop-color="#070403"/><stop offset="0.8" stop-color="#010101"/><stop offset="0.9" stop-color="#010100"/><stop offset="1" stop-color="#000000"/></linearGradient>
<linearGradient id="he25" gradientUnits="userSpaceOnUse" x1="0" y1="162" x2="0" y2="253"><stop offset="0" stop-color="#271810"/><stop offset="0.1" stop-color="#623d27"/><stop offset="0.2" stop-color="#c57b4f"/><stop offset="0.3" stop-color="#ffbb77"/><stop offset="0.4" stop-color="#68412a"/><stop offset="0.5" stop-color="#925b3a"/><stop offset="0.6" stop-color="#342115"/><stop offset="0.7" stop-color="#080503"/><stop offset="0.8" stop-color="#020101"/><stop offset="0.9" stop-color="#010100"/><stop offset="1" stop-color="#000000"/></linearGradient>
<linearGradient id="he26" gradientUnits="userSpaceOnUse" x1="0" y1="162" x2="0" y2="253"><stop offset="0" stop-color="#2e1c12"/><stop offset="0.1" stop-color="#75492f"/><stop offset="0.2" stop-color="#e48e5b"/><stop offset="0.3" stop-color="#d68655"/><stop offset="0.4" stop-color="#c87d50"/><stop offset="0.5" stop-color="#e48e5b"/><stop offset="0.6" stop-color="#5b3924"/><stop offset="0.7" stop-color="#090604"/><stop offset="0.8" stop-color="#020101"/><stop offset="0.9" stop-color="#010101"/><stop offset="1" stop-color="#000000"/></linearGradient>
<linearGradient id="he27" gradientUnits="userSpaceOnUse" x1="0" y1="162" x2="0" y2="253"><stop offset="0" stop-color="#342115"/><stop offset="0.1" stop-color="#895536"/><stop offset="0.2" stop-color="#ffb372"/><stop offset="0.3" stop-color="#73482e"/><stop offset="0.4" stop-color="#ffb372"/><stop offset="0.5" stop-color="#ffa86b"/><stop offset="0.6" stop-color="#825134"/><stop offset="0.7" stop-color="#0a0604"/><stop offset="0.8" stop-color="#020101"/><stop offset="0.9" stop-color="#010101"/><stop offset="1" stop-color="#000000"/></linearGradient>
<linearGradient id="he28" gradientUnits="userSpaceOnUse" x1="0" y1="162" x2="0" y2="253"><stop offset="0" stop-color="#3b2517"/><stop offset="0.1" stop-color="#865435"/><stop offset="0.2" stop-color="#ffa167"/><stop offset="0.3" stop-color="#281910"/><stop offset="0.4" stop-color="#ffb372"/><stop offset="0.5" stop-color="#ffb271"/><stop offset="0.6" stop-color="#875536"/><stop offset="0.7" stop-color="#0b0705"/><stop offset="0.8" stop-color="#020101"/><stop offset="0.9" stop-color="#010101"/><stop offset="1" stop-color="#000000"/></linearGradient>
<linearGradient id="he29" gradientUnits="userSpaceOnUse" x1="0" y1="162" x2="0" y2="253"><stop offset="0" stop-color="#41291a"/><stop offset="0.1" stop-color="#845335"/><stop offset="0.2" stop-color="#d98756"/><stop offset="0.3" stop-color="#8e5939"/><stop offset="0.4" stop-color="#ffa267"/><stop offset="0.5" stop-color="#ffbb77"/><stop offset="0.6" stop-color="#8d5838"/><stop offset="0.7" stop-color="#0b0705"/><stop offset="0.8" stop-color="#020101"/><stop offset="0.9" stop-color="#010101"/><stop offset="1" stop-color="#000000"/></linearGradient>
<linearGradient id="he30" gradientUnits="userSpaceOnUse" x1="0" y1="162" x2="0" y2="253"><stop offset="0" stop-color="#482d1c"/><stop offset="0.1" stop-color="#825134"/><stop offset="0.2" stop-color="#be774b"/><stop offset="0.3" stop-color="#d98857"/><stop offset="0.4" stop-color="#be774c"/><stop offset="0.5" stop-color="#ffa066"/><stop offset="0.6" stop-color="#925b3a"/><stop offset="0.7" stop-color="#0b0705"/><stop offset="0.8" stop-color="#020101"/><stop offset="0.9" stop-color="#020101"/><stop offset="1" stop-color="#000000"/></linearGradient>
<linearGradient id="he31" gradientUnits="userSpaceOnUse" x1="0" y1="162" x2="0" y2="253"><stop offset="0" stop-color="#4e311f"/><stop offset="0.1" stop-color="#8a5637"/><stop offset="0.2" stop-color="#a36641"/><stop offset="0.3" stop-color="#ffb372"/><stop offset="0.4" stop-color="#9b613e"/><stop offset="0.5" stop-color="#d38454"/><stop offset="0.6" stop-color="#965e3c"/><stop offset="0.7" stop-color="#0b0705"/><stop offset="0.8" stop-color="#020201"/><stop offset="0.9" stop-color="#020101"/><stop offset="1" stop-color="#000000"/></linearGradient>
<linearGradient id="he32" gradientUnits="userSpaceOnUse" x1="0" y1="162" x2="0" y2="253"><stop offset="0" stop-color="#553522"/><stop offset="0.1" stop-color="#925b3a"/><stop offset="0.2" stop-color="#a36641"/><stop offset="0.3" stop-color="#ffb372"/><stop offset="0.4" stop-color="#8f5939"/><stop offset="0.5" stop-color="#d08253"/><stop offset="0.6" stop-color="#9a613d"/><stop offset="0.7" stop-color="#0b0705"/><stop offset="0.8" stop-color="#030201"/><stop offset="0.9" stop-color="#020101"/><stop offset="1" stop-color="#000000"/></linearGradient>
<linearGradient id="he33" gradientUnits="userSpaceOnUse" x1="0" y1="162" x2="0" y2="253"><stop offset="0" stop-color="#5b3924"/><stop offset="0.1" stop-color="#9a613d"/><stop offset="0.2" stop-color="#a36641"/><stop offset="0.3" stop-color="#ffb473"/><stop offset="0.4" stop-color="#825134"/><stop offset="0.5" stop-color="#cd8052"/><stop offset="0.6" stop-color="#9e633f"/><stop offset="0.7" stop-color="#0b0705"/><stop offset="0.8" stop-color="#030201"/><stop offset="0.9" stop-color="#020101"/><stop offset="1" stop-color="#000000"/></linearGradient>
<linearGradient id="he34" gradientUnits="userSpaceOnUse" x1="0" y1="162" x2="0" y2="253"><stop offset="0" stop-color="#623d27"/><stop offset="0.1" stop-color="#a36641"/><stop offset="0.2" stop-color="#a36641"/><stop offset="0.3" stop-color="#ffb473"/><stop offset="0.4" stop-color="#553522"/><stop offset="0.5" stop-color="#ca7e50"/><stop offset="0.6" stop-color="#a36641"/><stop offset="0.7" stop-color="#0b0705"/><stop offset="0.8" stop-color="#030201"/><stop offset="0.9" stop-color="#020101"/><stop offset="1" stop-color="#000000"/></linearGradient>
<linearGradient id="he35" gradientUnits="userSpaceOnUse" x1="0" y1="162" x2="0" y2="253"><stop offset="0" stop-color="#70462d"/><stop offset="0.1" stop-color="#bd764b"/><stop offset="0.2" stop-color="#c1794d"/><stop offset="0.3" stop-color="#ffb573"/><stop offset="0.4" stop-color="#271810"/><stop offset="0.5" stop-color="#f0965f"/><stop offset="0.6" stop-color="#c37a4e"/><stop offset="0.7" stop-color="#0b0705"/><stop offset="0.8" stop-color="#030201"/><stop offset="0.9" stop-color="#020101"/><stop offset="1" stop-color="#000000"/></linearGradient>
<linearGradient id="he36" gradientUnits="userSpaceOnUse" x1="0" y1="162" x2="0" y2="253"><stop offset="0" stop-color="#7f4f32"/><stop offset="0.1" stop-color="#d78655"/><stop offset="0.2" stop-color="#df8c59"/><stop offset="0.3" stop-color="#ffb573"/><stop offset="0.4" stop-color="#4c301e"/><stop offset="0.5" stop-color="#ffad6e"/><stop offset="0.6" stop-color="#e48e5b"/><stop offset="0.7" stop-color="#0b0705"/><stop offset="0.8" stop-color="#030201"/><stop offset="0.9" stop-color="#020101"/><stop offset="1" stop-color="#000000"/></linearGradient>
<linearGradient id="he37" gradientUnits="userSpaceOnUse" x1="0" y1="162" x2="0" y2="253"><stop offset="0" stop-color="#8d5838"/><stop offset="0.1" stop-color="#f19660"/><stop offset="0.2" stop-color="#fe9e65"/><stop offset="0.3" stop-color="#ffb674"/><stop offset="0.4" stop-color="#72472d"/><stop offset="0.5" stop-color="#ffb875"/><stop offset="0.6" stop-color="#ffa368"/><stop offset="0.7" stop-color="#0b0705"/><stop offset="0.8" stop-color="#030201"/><stop offset="0.9" stop-color="#020101"/><stop offset="1" stop-color="#000000"/></linearGradient>
<linearGradient id="he38" gradientUnits="userSpaceOnUse" x1="0" y1="162" x2="0" y2="253"><stop offset="0" stop-color="#9c623e"/><stop offset="0.1" stop-color="#ffa76a"/><stop offset="0.2" stop-color="#ffa368"/><stop offset="0.3" stop-color="#ffb674"/><stop offset="0.4" stop-color="#8d5838"/><stop offset="0.5" stop-color="#ffba76"/><stop offset="0.6" stop-color="#ffa66a"/><stop offset="0.7" stop-color="#0c0705"/><stop offset="0.8" stop-color="#030201"/><stop offset="0.9" stop-color="#020101"/><stop offset="1" stop-color="#000000"/></linearGradient>
<linearGradient id="he39" gradientUnits="userSpaceOnUse" x1="0" y1="162" x2="0" y2="253"><stop offset="0" stop-color="#a06440"/><stop offset="0.1" stop-color="#ffa96c"/><stop offset="0.2" stop-color="#ffa86b"/><stop offset="0.3" stop-color="#ffb774"/><stop offset="0.4" stop-color="#a86943"/><stop offset="0.5" stop-color="#ffbc77"/><stop offset="0.6" stop-color="#ffa96c"/><stop offset="0.7" stop-color="#0c0705"/><stop offset="0.8" stop-color="#030201"/><stop offset="0.9" stop-color="#020101"/><stop offset="1" stop-color="#000000"/></linearGradient>
<linearGradient id="he40" gradientUnits="userSpaceOnUse" x1="0" y1="162" x2="0" y2="253"><stop offset="0" stop-color="#a46741"/><stop offset="0.1" stop-color="#ffac6d"/><stop offset="0.2" stop-color="#ffad6e"/><stop offset="0.3" stop-color="#d38454"/><stop offset="0.4" stop-color="#c37a4e"/><stop offset="0.5" stop-color="#ffbd79"/><stop offset="0.6" stop-color="#ffac6e"/><stop offset="0.7" stop-color="#0c0705"/><stop offset="0.8" stop-color="#030201"/><stop offset="0.9" stop-color="#020101"/><stop offset="1" stop-color="#000000"/></linearGradient>
<linearGradient id="he41" gradientUnits="userSpaceOnUse" x1="0" y1="162" x2="0" y2="253"><stop offset="0" stop-color="#a86943"/><stop offset="0.1" stop-color="#ffae6f"/><stop offset="0.2" stop-color="#ffb271"/><stop offset="0.3" stop-color="#825134"/><stop offset="0.4" stop-color="#c37a4e"/><stop offset="0.5" stop-color="#ffbf7a"/><stop offset="0.6" stop-color="#ffb070"/><stop offset="0.7" stop-color="#0c0705"/><stop offset="0.8" stop-color="#030201"/><stop offset="0.9" stop-color="#020101"/><stop offset="1" stop-color="#000000"/></linearGradient>
<linearGradient id="he42" gradientUnits="userSpaceOnUse" x1="0" y1="162" x2="0" y2="253"><stop offset="0" stop-color="#ac6c45"/><stop offset="0.1" stop-color="#ffb171"/><stop offset="0.2" stop-color="#ffb774"/><stop offset="0.3" stop-color="#3d2618"/><stop offset="0.4" stop-color="#c37a4e"/><stop offset="0.5" stop-color="#ffc17b"/><stop offset="0.6" stop-color="#ffb372"/><stop offset="0.7" stop-color="#0c0705"/><stop offset="0.8" stop-color="#030201"/><stop offset="0.9" stop-color="#020101"/><stop offset="1" stop-color="#000000"/></linearGradient>
<linearGradient id="he43" gradientUnits="userSpaceOnUse" x1="0" y1="162" x2="0" y2="253"><stop offset="0" stop-color="#b06e46"/><stop offset="0.1" stop-color="#ffb372"/><stop offset="0.2" stop-color="#ffb774"/><stop offset="0.3" stop-color="#2f1d13"/><stop offset="0.4" stop-color="#c37a4e"/><stop offset="0.5" stop-color="#ffc17b"/><stop offset="0.6" stop-color="#ffb372"/><stop offset="0.7" stop-color="#0c0705"/><stop offset="0.8" stop-color="#030201"/><stop offset="0.9" stop-color="#020101"/><stop offset="1" stop-color="#000000"/></linearGradient>
<linearGradient id="he44" gradientUnits="userSpaceOnUse" x1="0" y1="162" x2="0" y2="253"><stop offset="0" stop-color="#b47148"/><stop offset="0.1" stop-color="#ffb674"/><stop offset="0.2" stop-color="#ffb774"/><stop offset="0.3" stop-color="#74492e"/><stop offset="0.4" stop-color="#c37a4e"/><stop offset="0.5" stop-color="#ffc17b"/><stop offset="0.6" stop-color="#ffb271"/><stop offset="0.7" stop-color="#0c0705"/><stop offset="0.8" stop-color="#030201"/><stop offset="0.9" stop-color="#020101"/><stop offset="1" stop-color="#000000"/></linearGradient>
<linearGradient id="he45" gradientUnits="userSpaceOnUse" x1="0" y1="162" x2="0" y2="253"><stop offset="0" stop-color="#b97349"/><stop offset="0.1" stop-color="#ffb875"/><stop offset="0.2" stop-color="#ffb774"/><stop offset="0.3" stop-color="#bf774c"/><stop offset="0.4" stop-color="#ac6c45"/><stop offset="0.5" stop-color="#ffc17b"/><stop offset="0.6" stop-color="#ffb271"/><stop offset="0.7" stop-color="#0c0705"/><stop offset="0.8" stop-color="#030201"/><stop offset="0.9" stop-color="#020101"/><stop offset="1" stop-color="#000000"/></linearGradient>
<linearGradient id="he46" gradientUnits="userSpaceOnUse" x1="0" y1="162" x2="0" y2="253"><stop offset="0" stop-color="#bd764b"/><stop offset="0.1" stop-color="#ffbb77"/><stop offset="0.2" stop-color="#ffb774"/><stop offset="0.3" stop-color="#ffa76a"/><stop offset="0.4" stop-color="#965d3c"/><stop offset="0.5" stop-color="#ffc17b"/><stop offset="0.6" stop-color="#ffb271"/><stop offset="0.7" stop-color="#0c0805"/><stop offset="0.8" stop-color="#030201"/><stop offset="0.9" stop-color="#020101"/><stop offset="1" stop-color="#000000"/></linearGradient>
<linearGradient id="he47" gradientUnits="userSpaceOnUse" x1="0" y1="162" x2="0" y2="253"><stop offset="0" stop-color="#ba744a"/><stop offset="0.1" stop-color="#ffb976"/><stop offset="0.2" stop-color="#ffb774"/><stop offset="0.3" stop-color="#ffa76a"/><stop offset="0.4" stop-color="#7f4f32"/><stop offset="0.5" stop-color="#ffc17b"/><stop offset="0.6" stop-color="#ffb171"/><stop offset="0.7" stop-color="#0c0805"/><stop offset="0.8" stop-color="#030201"/><stop offset="0.9" stop-color="#020201"/><stop offset="1" stop-color="#000000"/></linearGradient>
<linearGradient id="he48" gradientUnits="userSpaceOnUse" x1="0" y1="162" x2="0" y2="253"><stop offset="0" stop-color="#b87349"/><stop offset="0.1" stop-color="#ffb774"/><stop offset="0.2" stop-color="#ffb774"/><stop offset="0.3" stop-color="#ffa76a"/><stop offset="0.4" stop-color="#684129"/><stop offset="0.5" stop-color="#ffc17b"/><stop offset="0.6" stop-color="#ffb171"/><stop offset="0.7" stop-color="#0c0805"/><stop offset="0.8" stop-color="#030201"/><stop offset="0.9" stop-color="#020201"/><stop offset="1" stop-color="#000000"/></linearGradient>
<linearGradient id="he49" gradientUnits="userSpaceOnUse" x1="0" y1="162" x2="0" y2="253"><stop offset="0" stop-color="#b57148"/><stop offset="0.1" stop-color="#ffb573"/><stop offset="0.2" stop-color="#ffb774"/><stop offset="0.3" stop-color="#ffa76a"/><stop offset="0.4" stop-color="#653f28"/><stop offset="0.5" stop-color="#ffc17b"/><stop offset="0.6" stop-color="#ffb171"/><stop offset="0.7" stop-color="#0c0805"/><stop offset="0.8" stop-color="#030201"/><stop offset="0.9" stop-color="#030201"/><stop offset="1" stop-color="#000000"/></linearGradient>
<linearGradient id="he50" gradientUnits="userSpaceOnUse" x1="0" y1="162" x2="0" y2="253"><stop offset="0" stop-color="#b37047"/><stop offset="0.1" stop-color="#ffb372"/><stop offset="0.2" stop-color="#ffb774"/><stop offset="0.3" stop-color="#ffa76a"/><stop offset="0.4" stop-color="#623d27"/><stop offset="0.5" stop-color="#ffc17b"/><stop offset="0.6" stop-color="#ffb070"/><stop offset="0.7" stop-color="#0c0805"/><stop offset="0.8" stop-color="#030201"/><stop offset="0.9" stop-color="#030201"/><stop offset="1" stop-color="#000000"/></linearGradient>
<linearGradient id="he51" gradientUnits="userSpaceOnUse" x1="0" y1="162" x2="0" y2="253"><stop offset="0" stop-color="#b06e46"/><stop offset="0.1" stop-color="#ffb171"/><stop offset="0.2" stop-color="#ffb774"/><stop offset="0.3" stop-color="#ffa76a"/><stop offset="0.4" stop-color="#774b2f"/><stop offset="0.5" stop-color="#ffc17b"/><stop offset="0.6" stop-color="#ffb070"/><stop offset="0.7" stop-color="#0c0805"/><stop offset="0.8" stop-color="#030201"/><stop offset="0.9" stop-color="#030201"/><stop offset="1" stop-color="#000000"/></linearGradient>
<linearGradient id="he52" gradientUnits="userSpaceOnUse" x1="0" y1="162" x2="0" y2="253"><stop offset="0" stop-color="#ae6d45"/><stop offset="0.1" stop-color="#ffaf6f"/><stop offset="0.2" stop-color="#ffb774"/><stop offset="0.3" stop-color="#ffa76a"/><stop offset="0.4" stop-color="#8d5838"/><stop offset="0.5" stop-color="#ffc17b"/><stop offset="0.6" stop-color="#ffb070"/><stop offset="0.7" stop-color="#0c0805"/><stop offset="0.8" stop-color="#030201"/><stop offset="0.9" stop-color="#030201"/><stop offset="1" stop-color="#000000"/></linearGradient>
<linearGradient id="he53" gradientUnits="userSpaceOnUse" x1="0" y1="162" x2="0" y2="253"><stop offset="0" stop-color="#ac6b44"/><stop offset="0.1" stop-color="#ffad6e"/><stop offset="0.2" stop-color="#ffad6e"/><stop offset="0.3" stop-color="#ffa76a"/><stop offset="0.4" stop-color="#a36641"/><stop offset="0.5" stop-color="#ffc17b"/><stop offset="0.6" stop-color="#ffaf70"/><stop offset="0.7" stop-color="#0c0805"/><stop offset="0.8" stop-color="#030201"/><stop offset="0.9" stop-color="#030201"/><stop offset="1" stop-color="#000000"/></linearGradient>
<linearGradient id="he54" gradientUnits="userSpaceOnUse" x1="0" y1="162" x2="0" y2="253"><stop offset="0" stop-color="#a96a43"/><stop offset="0.1" stop-color="#ffab6d"/><stop offset="0.2" stop-color="#ffa368"/><stop offset="0.3" stop-color="#ffa76a"/><stop offset="0.4" stop-color="#a36641"/><stop offset="0.5" stop-color="#ffc17b"/><stop offset="0.6" stop-color="#ffaf70"/><stop offset="0.7" stop-color="#0d0805"/><stop offset="0.8" stop-color="#030201"/><stop offset="0.9" stop-color="#030201"/><stop offset="1" stop-color="#000000"/></linearGradient>
<linearGradient id="he55" gradientUnits="userSpaceOnUse" x1="0" y1="162" x2="0" y2="253"><stop offset="0" stop-color="#a56742"/><stop offset="0.1" stop-color="#ffa76a"/><stop offset="0.2" stop-color="#f49861"/><stop offset="0.3" stop-color="#c67c4f"/><stop offset="0.4" stop-color="#a36641"/><stop offset="0.5" stop-color="#ffc17b"/><stop offset="0.6" stop-color="#ffaf6f"/><stop offset="0.7" stop-color="#0d0805"/><stop offset="0.8" stop-color="#030201"/><stop offset="0.9" stop-color="#030201"/><stop offset="1" stop-color="#000000"/></linearGradient>
<linearGradient id="he56" gradientUnits="userSpaceOnUse" x1="0" y1="162" x2="0" y2="253"><stop offset="0" stop-color="#a16540"/><stop offset="0.1" stop-color="#ffa468"/><stop offset="0.2" stop-color="#e48e5b"/><stop offset="0.3" stop-color="#825134"/><stop offset="0.4" stop-color="#a36641"/><stop offset="0.5" stop-color="#ffc17b"/><stop offset="0.6" stop-color="#ffaf6f"/><stop offset="0.7" stop-color="#0d0805"/><stop offset="0.8" stop-color="#030201"/><stop offset="0.9" stop-color="#030201"/><stop offset="1" stop-color="#000000"/></linearGradient>
<linearGradient id="he57" gradientUnits="userSpaceOnUse" x1="0" y1="162" x2="0" y2="253"><stop offset="0" stop-color="#9d623e"/><stop offset="0.1" stop-color="#ffa066"/><stop offset="0.2" stop-color="#df8c59"/><stop offset="0.3" stop-color="#452b1b"/><stop offset="0.4" stop-color="#a36641"/><stop offset="0.5" stop-color="#ffc17b"/><stop offset="0.6" stop-color="#ffae6f"/><stop offset="0.7" stop-color="#0d0805"/><stop offset="0.8" stop-color="#030201"/><stop offset="0.9" stop-color="#030201"/><stop offset="1" stop-color="#000000"/></linearGradient>
<linearGradient id="he58" gradientUnits="userSpaceOnUse" x1="0" y1="162" x2="0" y2="253"><stop offset="0" stop-color="#995f3d"/><stop offset="0.1" stop-color="#fa9c64"/><stop offset="0.2" stop-color="#db8957"/><stop offset="0.3" stop-color="#332014"/><stop offset="0.4" stop-color="#a36641"/><stop offset="0.5" stop-color="#ffc17b"/><stop offset="0.6" stop-color="#ffae6f"/><stop offset="0.7" stop-color="#0d0805"/><stop offset="0.8" stop-color="#030201"/><stop offset="0.9" stop-color="#030201"/><stop offset="1" stop-color="#000000"/></linearGradient>
<linearGradient id="he59" gradientUnits="userSpaceOnUse" x1="0" y1="162" x2="0" y2="253"><stop offset="0" stop-color="#955d3b"/><stop offset="0.1" stop-color="#f59961"/><stop offset="0.2" stop-color="#d78655"/><stop offset="0.3" stop-color="#603c26"/><stop offset="0.4" stop-color="#a36641"/><stop offset="0.5" stop-color="#ffc17b"/><stop offset="0.6" stop-color="#ffae6f"/><stop offset="0.7" stop-color="#0d0805"/><stop offset="0.8" stop-color="#030201"/><stop offset="0.9" stop-color="#030201"/><stop offset="1" stop-color="#000000"/></linearGradient>
<linearGradient id="he60" gradientUnits="userSpaceOnUse" x1="0" y1="162" x2="0" y2="253"><stop offset="0" stop-color="#915a3a"/><stop offset="0.1" stop-color="#ef955f"/><stop offset="0.2" stop-color="#d28354"/><stop offset="0.3" stop-color="#845335"/><stop offset="0.4" stop-color="#875536"/><stop offset="0.5" stop-color="#ffc17b"/><stop offset="0.6" stop-color="#ffad6e"/><stop offset="0.7" stop-color="#0d0805"/><stop offset="0.8" stop-color="#030201"/><stop offset="0.9" stop-color="#030201"/><stop offset="1" stop-color="#000000"/></linearGradient>
<linearGradient id="he61" gradientUnits="userSpaceOnUse" x1="0" y1="162" x2="0" y2="253"><stop offset="0" stop-color="#8d5838"/><stop offset="0.1" stop-color="#e9925d"/><stop offset="0.2" stop-color="#ce8152"/><stop offset="0.3" stop-color="#a36641"/><stop offset="0.4" stop-color="#6c442b"/><stop offset="0.5" stop-color="#ffc17b"/><stop offset="0.6" stop-color="#ffad6e"/><stop offset="0.7" stop-color="#0d0805"/><stop offset="0.8" stop-color="#030201"/><stop offset="0.9" stop-color="#030201"/><stop offset="1" stop-color="#000000"/></linearGradient>
<linearGradient id="he62" gradientUnits="userSpaceOnUse" x1="0" y1="162" x2="0" y2="253"><stop offset="0" stop-color="#895536"/><stop offset="0.1" stop-color="#e48e5b"/><stop offset="0.2" stop-color="#ca7e50"/><stop offset="0.3" stop-color="#a36641"/><stop offset="0.4" stop-color="#513320"/><stop offset="0.5" stop-color="#ffc17b"/><stop offset="0.6" stop-color="#ffad6e"/><stop offset="0.7" stop-color="#0d0805"/><stop offset="0.8" stop-color="#030201"/><stop offset="0.9" stop-color="#030201"/><stop offset="1" stop-color="#000000"/></linearGradient>
<linearGradient id="he63" gradientUnits="userSpaceOnUse" x1="0" y1="162" x2="0" y2="253"><stop offset="0" stop-color="#895536"/><stop offset="0.1" stop-color="#e48e5b"/><stop offset="0.2" stop-color="#ca7e50"/><stop offset="0.3" stop-color="#a36641"/><stop offset="0.4" stop-color="#513320"/><stop offset="0.5" stop-color="#ffc17b"/><stop offset="0.6" stop-color="#ffad6e"/><stop offset="0.7" stop-color="#0d0805"/><stop offset="0.8" stop-color="#030201"/><stop offset="0.9" stop-color="#030201"/><stop offset="1" stop-color="#000000"/></linearGradient>
<linearGradient id="he64" gradientUnits="userSpaceOnUse" x1="0" y1="162" x2="0" y2="253"><stop offset="0" stop-color="#895536"/><stop offset="0.1" stop-color="#e48e5b"/><stop offset="0.2" stop-color="#ca7e50"/><stop offset="0.3" stop-color="#a36641"/><stop offset="0.4" stop-color="#513320"/><stop offset="0.5" stop-color="#ffc17b"/><stop offset="0.6" stop-color="#ffad6e"/><stop offset="0.7" stop-color="#0d0805"/><stop offset="0.8" stop-color="#030201"/><stop offset="0.9" stop-color="#030201"/><stop offset="1" stop-color="#000000"/></linearGradient>
<linearGradient id="hf0" gradientUnits="userSpaceOnUse" x1="0" y1="162" x2="0" y2="253"><stop offset="0" stop-color="#000000"/><stop offset="0.1" stop-color="#000000"/><stop offset="0.2" stop-color="#000000"/><stop offset="0.3" stop-color="#100a06"/><stop offset="0.4" stop-color="#a36641"/><stop offset="0.5" stop-color="#ffbd78"/><stop offset="0.6" stop-color="#623d27"/><stop offset="0.7" stop-color="#080503"/><stop offset="0.8" stop-color="#000000"/><stop offset="0.9" stop-color="#000000"/><stop offset="1" stop-color="#000000"/></linearGradient>
<linearGradient id="hf1" gradientUnits="userSpaceOnUse" x1="0" y1="162" x2="0" y2="253"><stop offset="0" stop-color="#000000"/><stop offset="0.1" stop-color="#000000"/><stop offset="0.2" stop-color="#000000"/><stop offset="0.3" stop-color="#100a06"/><stop offset="0.4" stop-color="#a36641"/><stop offset="0.5" stop-color="#ffbd78"/><stop offset="0.6" stop-color="#623d27"/><stop offset="0.7" stop-color="#080503"/><stop offset="0.8" stop-color="#000000"/><stop offset="0.9" stop-color="#000000"/><stop offset="1" stop-color="#000000"/></linearGradient>
<linearGradient id="hf2" gradientUnits="userSpaceOnUse" x1="0" y1="162" x2="0" y2="253"><stop offset="0" stop-color="#000000"/><stop offset="0.1" stop-color="#000000"/><stop offset="0.2" stop-color="#000000"/><stop offset="0.3" stop-color="#100a06"/><stop offset="0.4" stop-color="#a36641"/><stop offset="0.5" stop-color="#ffbd78"/><stop offset="0.6" stop-color="#623d27"/><stop offset="0.7" stop-color="#080503"/><stop offset="0.8" stop-color="#000000"/><stop offset="0.9" stop-color="#000000"/><stop offset="1" stop-color="#000000"/></linearGradient>
<linearGradient id="hf3" gradientUnits="userSpaceOnUse" x1="0" y1="162" x2="0" y2="253"><stop offset="0" stop-color="#000000"/><stop offset="0.1" stop-color="#010100"/><stop offset="0.2" stop-color="#020201"/><stop offset="0.3" stop-color="#291910"/><stop offset="0.4" stop-color="#cb7f51"/><stop offset="0.5" stop-color="#ffbd78"/><stop offset="0.6" stop-color="#603c26"/><stop offset="0.7" stop-color="#080503"/><stop offset="0.8" stop-color="#000000"/><stop offset="0.9" stop-color="#000000"/><stop offset="1" stop-color="#000000"/></linearGradient>
<linearGradient id="hf4" gradientUnits="userSpaceOnUse" x1="0" y1="162" x2="0" y2="253"><stop offset="0" stop-color="#010000"/><stop offset="0.1" stop-color="#020101"/><stop offset="0.2" stop-color="#050302"/><stop offset="0.3" stop-color="#41291a"/><stop offset="0.4" stop-color="#f69a62"/><stop offset="0.5" stop-color="#ffbd78"/><stop offset="0.6" stop-color="#5e3b26"/><stop offset="0.7" stop-color="#080503"/><stop offset="0.8" stop-color="#000000"/><stop offset="0.9" stop-color="#000000"/><stop offset="1" stop-color="#000000"/></linearGradient>
<linearGradient id="hf5" gradientUnits="userSpaceOnUse" x1="0" y1="162" x2="0" y2="253"><stop offset="0" stop-color="#010100"/><stop offset="0.1" stop-color="#030201"/><stop offset="0.2" stop-color="#070503"/><stop offset="0.3" stop-color="#4c301e"/><stop offset="0.4" stop-color="#ffb775"/><stop offset="0.5" stop-color="#ffb573"/><stop offset="0.6" stop-color="#5d3a25"/><stop offset="0.7" stop-color="#070503"/><stop offset="0.8" stop-color="#000000"/><stop offset="0.9" stop-color="#000000"/><stop offset="1" stop-color="#000000"/></linearGradient>
<linearGradient id="hf6" gradientUnits="userSpaceOnUse" x1="0" y1="162" x2="0" y2="253"><stop offset="0" stop-color="#010101"/><stop offset="0.1" stop-color="#040201"/><stop offset="0.2" stop-color="#0a0604"/><stop offset="0.3" stop-color="#583723"/><stop offset="0.4" stop-color="#ffbd78"/><stop offset="0.5" stop-color="#de8b58"/><stop offset="0.6" stop-color="#5b3924"/><stop offset="0.7" stop-color="#070403"/><stop offset="0.8" stop-color="#000000"/><stop offset="0.9" stop-color="#000000"/><stop offset="1" stop-color="#000000"/></linearGradient>
<linearGradient id="hf7" gradientUnits="userSpaceOnUse" x1="0" y1="162" x2="0" y2="253"><stop offset="0" stop-color="#020101"/><stop offset="0.1" stop-color="#050302"/><stop offset="0.2" stop-color="#0e0905"/><stop offset="0.3" stop-color="#633e27"/><stop offset="0.4" stop-color="#ffbd78"/><stop offset="0.5" stop-color="#b06e46"/><stop offset="0.6" stop-color="#4e311f"/><stop offset="0.7" stop-color="#070403"/><stop offset="0.8" stop-color="#000000"/><stop offset="0.9" stop-color="#000000"/><stop offset="1" stop-color="#000000"/></linearGradient>
<linearGradient id="hf8" gradientUnits="userSpaceOnUse" x1="0" y1="162" x2="0" y2="253"><stop offset="0" stop-color="#020101"/><stop offset="0.1" stop-color="#060302"/><stop offset="0.2" stop-color="#120b07"/><stop offset="0.3" stop-color="#6f452c"/><stop offset="0.4" stop-color="#ffbd78"/><stop offset="0.5" stop-color="#8f5939"/><stop offset="0.6" stop-color="#41291a"/><stop offset="0.7" stop-color="#070403"/><stop offset="0.8" stop-color="#000000"/><stop offset="0.9" stop-color="#000000"/><stop offset="1" stop-color="#000000"/></linearGradient>
<linearGradient id="hf9" gradientUnits="userSpaceOnUse" x1="0" y1="162" x2="0" y2="253"><stop offset="0" stop-color="#030201"/><stop offset="0.1" stop-color="#070403"/><stop offset="0.2" stop-color="#160e09"/><stop offset="0.3" stop-color="#73482e"/><stop offset="0.4" stop-color="#ffbd78"/><stop offset="0.5" stop-color="#7d4e32"/><stop offset="0.6" stop-color="#342115"/><stop offset="0.7" stop-color="#070403"/><stop offset="0.8" stop-color="#000000"/><stop offset="0.9" stop-color="#000000"/><stop offset="1" stop-color="#000000"/></linearGradient>
<linearGradient id="hf10" gradientUnits="userSpaceOnUse" x1="0" y1="162" x2="0" y2="253"><stop offset="0" stop-color="#030201"/><stop offset="0.1" stop-color="#070503"/><stop offset="0.2" stop-color="#1a100a"/><stop offset="0.3" stop-color="#774a2f"/><stop offset="0.4" stop-color="#ffbd78"/><stop offset="0.5" stop-color="#74482e"/><stop offset="0.6" stop-color="#332014"/><stop offset="0.7" stop-color="#070403"/><stop offset="0.8" stop-color="#010000"/><stop offset="0.9" stop-color="#000000"/><stop offset="1" stop-color="#000000"/></linearGradient>
<linearGradient id="hf11" gradientUnits="userSpaceOnUse" x1="0" y1="162" x2="0" y2="253"><stop offset="0" stop-color="#030201"/><stop offset="0.1" stop-color="#080503"/><stop offset="0.2" stop-color="#1f140d"/><stop offset="0.3" stop-color="#7b4d31"/><stop offset="0.4" stop-color="#ffbd78"/><stop offset="0.5" stop-color="#6b432a"/><stop offset="0.6" stop-color="#321f14"/><stop offset="0.7" stop-color="#070403"/><stop offset="0.8" stop-color="#010000"/><stop offset="0.9" stop-color="#000000"/><stop offset="1" stop-color="#000000"/></linearGradient>
<linearGradient id="hf12" gradientUnits="userSpaceOnUse" x1="0" y1="162" x2="0" y2="253"><stop offset="0" stop-color="#040201"/><stop offset="0.1" stop-color="#090604"/><stop offset="0.2" stop-color="#25170f"/><stop offset="0.3" stop-color="#7f4f32"/><stop offset="0.4" stop-color="#ffbd78"/><stop offset="0.5" stop-color="#623d27"/><stop offset="0.6" stop-color="#311e13"/><stop offset="0.7" stop-color="#070403"/><stop offset="0.8" stop-color="#010000"/><stop offset="0.9" stop-color="#010000"/><stop offset="1" stop-color="#000000"/></linearGradient>
<linearGradient id="hf13" gradientUnits="userSpaceOnUse" x1="0" y1="162" x2="0" y2="253"><stop offset="0" stop-color="#040202"/><stop offset="0.1" stop-color="#0a0604"/><stop offset="0.2" stop-color="#2a1a11"/><stop offset="0.3" stop-color="#835234"/><stop offset="0.4" stop-color="#ffbd78"/><stop offset="0.5" stop-color="#613d27"/><stop offset="0.6" stop-color="#301e13"/><stop offset="0.7" stop-color="#070403"/><stop offset="0.8" stop-color="#010000"/><stop offset="0.9" stop-color="#010000"/><stop offset="1" stop-color="#000000"/></linearGradient>
<linearGradient id="hf14" gradientUnits="userSpaceOnUse" x1="0" y1="162" x2="0" y2="253"><stop offset="0" stop-color="#040302"/><stop offset="0.1" stop-color="#0b0704"/><stop offset="0.2" stop-color="#301e13"/><stop offset="0.3" stop-color="#875436"/><stop offset="0.4" stop-color="#ffbd78"/><stop offset="0.5" stop-color="#603c26"/><stop offset="0.6" stop-color="#2f1d13"/><stop offset="0.7" stop-color="#070403"/><stop offset="0.8" stop-color="#010100"/><stop offset="0.9" stop-color="#010000"/><stop offset="1" stop-color="#000000"/></linearGradient>
<linearGradient id="hf15" gradientUnits="userSpaceOnUse" x1="0" y1="162" x2="0" y2="253"><stop offset="0" stop-color="#050302"/><stop offset="0.1" stop-color="#0c0805"/><stop offset="0.2" stop-color="#352115"/><stop offset="0.3" stop-color="#8b5737"/><stop offset="0.4" stop-color="#ffbd78"/><stop offset="0.5" stop-color="#603c26"/><stop offset="0.6" stop-color="#2e1c12"/><stop offset="0.7" stop-color="#070403"/><stop offset="0.8" stop-color="#010100"/><stop offset="0.9" stop-color="#010000"/><stop offset="1" stop-color="#000000"/></linearGradient>
<linearGradient id="hf16" gradientUnits="userSpaceOnUse" x1="0" y1="162" x2="0" y2="253"><stop offset="0" stop-color="#050302"/><stop offset="0.1" stop-color="#0d0805"/><stop offset="0.2" stop-color="#3b2517"/><stop offset="0.3" stop-color="#8f5939"/><stop offset="0.4" stop-color="#ffbd78"/><stop offset="0.5" stop-color="#5f3b26"/><stop offset="0.6" stop-color="#2c1c12"/><stop offset="0.7" stop-color="#070403"/><stop offset="0.8" stop-color="#010100"/><stop offset="0.9" stop-color="#010000"/><stop offset="1" stop-color="#000000"/></linearGradient>
<linearGradient id="hf17" gradientUnits="userSpaceOnUse" x1="0" y1="162" x2="0" y2="253"><stop offset="0" stop-color="#050302"/><stop offset="0.1" stop-color="#140d08"/><stop offset="0.2" stop-color="#4b2f1e"/><stop offset="0.3" stop-color="#a96a43"/><stop offset="0.4" stop-color="#ffbd78"/><stop offset="0.5" stop-color="#5e3b26"/><stop offset="0.6" stop-color="#2b1b11"/><stop offset="0.7" stop-color="#070403"/><stop offset="0.8" stop-color="#010100"/><stop offset="0.9" stop-color="#010100"/><stop offset="1" stop-color="#000000"/></linearGradient>
<linearGradient id="hf18" gradientUnits="userSpaceOnUse" x1="0" y1="162" x2="0" y2="253"><stop offset="0" stop-color="#060402"/><stop offset="0.1" stop-color="#1b110b"/><stop offset="0.2" stop-color="#5b3924"/><stop offset="0.3" stop-color="#c37a4e"/><stop offset="0.4" stop-color="#ffbd78"/><stop offset="0.5" stop-color="#5e3b25"/><stop offset="0.6" stop-color="#2a1a11"/><stop offset="0.7" stop-color="#070403"/><stop offset="0.8" stop-color="#010100"/><stop offset="0.9" stop-color="#010100"/><stop offset="1" stop-color="#000000"/></linearGradient>
<linearGradient id="hf19" gradientUnits="userSpaceOnUse" x1="0" y1="162" x2="0" y2="253"><stop offset="0" stop-color="#060402"/><stop offset="0.1" stop-color="#22160e"/><stop offset="0.2" stop-color="#6b432b"/><stop offset="0.3" stop-color="#ffa066"/><stop offset="0.4" stop-color="#ffbd78"/><stop offset="0.5" stop-color="#5d3a25"/><stop offset="0.6" stop-color="#2b1b11"/><stop offset="0.7" stop-color="#070403"/><stop offset="0.8" stop-color="#010100"/><stop offset="0.9" stop-color="#010100"/><stop offset="1" stop-color="#000000"/></linearGradient>
<linearGradient id="hf20" gradientUnits="userSpaceOnUse" x1="0" y1="162" x2="0" y2="253"><stop offset="0" stop-color="#070403"/><stop offset="0.1" stop-color="#2a1a11"/><stop offset="0.2" stop-color="#7c4d31"/><stop offset="0.3" stop-color="#ffb775"/><stop offset="0.4" stop-color="#ffa669"/><stop offset="0.5" stop-color="#5c3a25"/><stop offset="0.6" stop-color="#2d1c12"/><stop offset="0.7" stop-color="#070403"/><stop offset="0.8" stop-color="#010100"/><stop offset="0.9" stop-color="#010100"/><stop offset="1" stop-color="#000000"/></linearGradient>
<linearGradient id="hf21" gradientUnits="userSpaceOnUse" x1="0" y1="162" x2="0" y2="253"><stop offset="0" stop-color="#0c0705"/><stop offset="0.1" stop-color="#311e13"/><stop offset="0.2" stop-color="#9f643f"/><stop offset="0.3" stop-color="#ffb875"/><stop offset="0.4" stop-color="#e48e5b"/><stop offset="0.5" stop-color="#5c3924"/><stop offset="0.6" stop-color="#2e1d12"/><stop offset="0.7" stop-color="#070403"/><stop offset="0.8" stop-color="#010101"/><stop offset="0.9" stop-color="#010100"/><stop offset="1" stop-color="#000000"/></linearGradient>
<linearGradient id="hf22" gradientUnits="userSpaceOnUse" x1="0" y1="162" x2="0" y2="253"><stop offset="0" stop-color="#110b07"/><stop offset="0.1" stop-color="#3b2517"/><stop offset="0.2" stop-color="#c37a4e"/><stop offset="0.3" stop-color="#ffb976"/><stop offset="0.4" stop-color="#cb7f51"/><stop offset="0.5" stop-color="#5b3924"/><stop offset="0.6" stop-color="#2f1d13"/><stop offset="0.7" stop-color="#070403"/><stop offset="0.8" stop-color="#010101"/><stop offset="0.9" stop-color="#010100"/><stop offset="1" stop-color="#000000"/></linearGradient>
<linearGradient id="hf23" gradientUnits="userSpaceOnUse" x1="0" y1="162" x2="0" y2="253"><stop offset="0" stop-color="#170e09"/><stop offset="0.1" stop-color="#442b1b"/><stop offset="0.2" stop-color="#ffa066"/><stop offset="0.3" stop-color="#ffba76"/><stop offset="0.4" stop-color="#b37047"/><stop offset="0.5" stop-color="#513320"/><stop offset="0.6" stop-color="#301e13"/><stop offset="0.7" stop-color="#070403"/><stop offset="0.8" stop-color="#010101"/><stop offset="0.9" stop-color="#010100"/><stop offset="1" stop-color="#000000"/></linearGradient>
<linearGradient id="hf24" gradientUnits="userSpaceOnUse" x1="0" y1="162" x2="0" y2="253"><stop offset="0" stop-color="#1c120b"/><stop offset="0.1" stop-color="#4e311f"/><stop offset="0.2" stop-color="#ffb775"/><stop offset="0.3" stop-color="#ffbb77"/><stop offset="0.4" stop-color="#513320"/><stop offset="0.5" stop-color="#472c1c"/><stop offset="0.6" stop-color="#321f14"/><stop offset="0.7" stop-color="#070403"/><stop offset="0.8" stop-color="#010101"/><stop offset="0.9" stop-color="#010100"/><stop offset="1" stop-color="#000000"/></linearGradient>
<linearGradient id="hf25" gradientUnits="userSpaceOnUse" x1="0" y1="162" x2="0" y2="253"><stop offset="0" stop-color="#22150d"/><stop offset="0.1" stop-color="#583723"/><stop offset="0.2" stop-color="#ffb875"/><stop offset="0.3" stop-color="#ffaa6c"/><stop offset="0.4" stop-color="#5e3b25"/><stop offset="0.5" stop-color="#5b3924"/><stop offset="0.6" stop-color="#332014"/><stop offset="0.7" stop-color="#080503"/><stop offset="0.8" stop-color="#020101"/><stop offset="0.9" stop-color="#010100"/><stop offset="1" stop-color="#000000"/></linearGradient>
<linearGradient id="hf26" gradientUnits="userSpaceOnUse" x1="0" y1="162" x2="0" y2="253"><stop offset="0" stop-color="#271810"/><stop offset="0.1" stop-color="#623d27"/><stop offset="0.2" stop-color="#ffb976"/><stop offset="0.3" stop-color="#f49961"/><stop offset="0.4" stop-color="#b37047"/><stop offset="0.5" stop-color="#9c623e"/><stop offset="0.6" stop-color="#342115"/><stop offset="0.7" stop-color="#0a0604"/><stop offset="0.8" stop-color="#020101"/><stop offset="0.9" stop-color="#010101"/><stop offset="1" stop-color="#000000"/></linearGradient>
<linearGradient id="hf27" gradientUnits="userSpaceOnUse" x1="0" y1="162" x2="0" y2="253"><stop offset="0" stop-color="#2e1d12"/><stop offset="0.1" stop-color="#5c3a25"/><stop offset="0.2" stop-color="#ffba77"/><stop offset="0.3" stop-color="#b37047"/><stop offset="0.4" stop-color="#ffa469"/><stop offset="0.5" stop-color="#c37a4e"/><stop offset="0.6" stop-color="#583723"/><stop offset="0.7" stop-color="#0b0705"/><stop offset="0.8" stop-color="#020101"/><stop offset="0.9" stop-color="#010101"/><stop offset="1" stop-color="#000000"/></linearGradient>
<linearGradient id="hf28" gradientUnits="userSpaceOnUse" x1="0" y1="162" x2="0" y2="253"><stop offset="0" stop-color="#362215"/><stop offset="0.1" stop-color="#573623"/><stop offset="0.2" stop-color="#ffbb77"/><stop offset="0.3" stop-color="#2f1d13"/><stop offset="0.4" stop-color="#ffaf70"/><stop offset="0.5" stop-color="#c37a4e"/><stop offset="0.6" stop-color="#7c4d31"/><stop offset="0.7" stop-color="#0d0805"/><stop offset="0.8" stop-color="#020101"/><stop offset="0.9" stop-color="#010101"/><stop offset="1" stop-color="#000000"/></linearGradient>
<linearGradient id="hf29" gradientUnits="userSpaceOnUse" x1="0" y1="162" x2="0" y2="253"><stop offset="0" stop-color="#3d2618"/><stop offset="0.1" stop-color="#513320"/><stop offset="0.2" stop-color="#ffbc78"/><stop offset="0.3" stop-color="#6c432b"/><stop offset="0.4" stop-color="#ffb070"/><stop offset="0.5" stop-color="#c37a4e"/><stop offset="0.6" stop-color="#825134"/><stop offset="0.7" stop-color="#0e0805"/><stop offset="0.8" stop-color="#020101"/><stop offset="0.9" stop-color="#010101"/><stop offset="1" stop-color="#000000"/></linearGradient>
<linearGradient id="hf30" gradientUnits="userSpaceOnUse" x1="0" y1="162" x2="0" y2="253"><stop offset="0" stop-color="#442b1b"/><stop offset="0.1" stop-color="#6a422a"/><stop offset="0.2" stop-color="#ffbd78"/><stop offset="0.3" stop-color="#e6905b"/><stop offset="0.4" stop-color="#ffb171"/><stop offset="0.5" stop-color="#e9915d"/><stop offset="0.6" stop-color="#895536"/><stop offset="0.7" stop-color="#0e0906"/><stop offset="0.8" stop-color="#020101"/><stop offset="0.9" stop-color="#020101"/><stop offset="1" stop-color="#000000"/></linearGradient>
<linearGradient id="hf31" gradientUnits="userSpaceOnUse" x1="0" y1="162" x2="0" y2="253"><stop offset="0" stop-color="#4c2f1e"/><stop offset="0.1" stop-color="#835234"/><stop offset="0.2" stop-color="#ffba76"/><stop offset="0.3" stop-color="#ffaf6f"/><stop offset="0.4" stop-color="#ffb271"/><stop offset="0.5" stop-color="#ffaf6f"/><stop offset="0.6" stop-color="#d68655"/><stop offset="0.7" stop-color="#0f0906"/><stop offset="0.8" stop-color="#020201"/><stop offset="0.9" stop-color="#020101"/><stop offset="1" stop-color="#000000"/></linearGradient>
<linearGradient id="hf32" gradientUnits="userSpaceOnUse" x1="0" y1="162" x2="0" y2="253"><stop offset="0" stop-color="#533421"/><stop offset="0.1" stop-color="#9c623e"/><stop offset="0.2" stop-color="#ffb774"/><stop offset="0.3" stop-color="#ffaf6f"/><stop offset="0.4" stop-color="#ffb272"/><stop offset="0.5" stop-color="#ffaf6f"/><stop offset="0.6" stop-color="#ffa66a"/><stop offset="0.7" stop-color="#0f0906"/><stop offset="0.8" stop-color="#030201"/><stop offset="0.9" stop-color="#020101"/><stop offset="1" stop-color="#000000"/></linearGradient>
<linearGradient id="hf33" gradientUnits="userSpaceOnUse" x1="0" y1="162" x2="0" y2="253"><stop offset="0" stop-color="#5a3824"/><stop offset="0.1" stop-color="#a36641"/><stop offset="0.2" stop-color="#ffb875"/><stop offset="0.3" stop-color="#ffaf6f"/><stop offset="0.4" stop-color="#ffa267"/><stop offset="0.5" stop-color="#ffaf6f"/><stop offset="0.6" stop-color="#ffaf6f"/><stop offset="0.7" stop-color="#100a06"/><stop offset="0.8" stop-color="#030201"/><stop offset="0.9" stop-color="#020101"/><stop offset="1" stop-color="#000000"/></linearGradient>
<linearGradient id="hf34" gradientUnits="userSpaceOnUse" x1="0" y1="162" x2="0" y2="253"><stop offset="0" stop-color="#623d27"/><stop offset="0.1" stop-color="#a96a43"/><stop offset="0.2" stop-color="#ffb976"/><stop offset="0.3" stop-color="#ffaf6f"/><stop offset="0.4" stop-color="#be774c"/><stop offset="0.5" stop-color="#ffa166"/><stop offset="0.6" stop-color="#ffb171"/><stop offset="0.7" stop-color="#100a06"/><stop offset="0.8" stop-color="#030201"/><stop offset="0.9" stop-color="#020101"/><stop offset="1" stop-color="#000000"/></linearGradient>
<linearGradient id="hf35" gradientUnits="userSpaceOnUse" x1="0" y1="162" x2="0" y2="253"><stop offset="0" stop-color="#663f28"/><stop offset="0.1" stop-color="#b06e46"/><stop offset="0.2" stop-color="#ffba76"/><stop offset="0.3" stop-color="#fb9d64"/><stop offset="0.4" stop-color="#835234"/><stop offset="0.5" stop-color="#ea925d"/><stop offset="0.6" stop-color="#ffb473"/><stop offset="0.7" stop-color="#100a06"/><stop offset="0.8" stop-color="#030201"/><stop offset="0.9" stop-color="#020101"/><stop offset="1" stop-color="#000000"/></linearGradient>
<linearGradient id="hf36" gradientUnits="userSpaceOnUse" x1="0" y1="162" x2="0" y2="253"><stop offset="0" stop-color="#6a422a"/><stop offset="0.1" stop-color="#b67248"/><stop offset="0.2" stop-color="#ffbb77"/><stop offset="0.3" stop-color="#df8c59"/><stop offset="0.4" stop-color="#4f3220"/><stop offset="0.5" stop-color="#e6905b"/><stop offset="0.6" stop-color="#ffb774"/><stop offset="0.7" stop-color="#100a06"/><stop offset="0.8" stop-color="#030201"/><stop offset="0.9" stop-color="#020101"/><stop offset="1" stop-color="#000000"/></linearGradient>
<linearGradient id="hf37" gradientUnits="userSpaceOnUse" x1="0" y1="162" x2="0" y2="253"><stop offset="0" stop-color="#6e452c"/><stop offset="0.1" stop-color="#bd764b"/><stop offset="0.2" stop-color="#ffbc78"/><stop offset="0.3" stop-color="#c37a4e"/><stop offset="0.4" stop-color="#503220"/><stop offset="0.5" stop-color="#e18d5a"/><stop offset="0.6" stop-color="#ffb976"/><stop offset="0.7" stop-color="#100a06"/><stop offset="0.8" stop-color="#030201"/><stop offset="0.9" stop-color="#020101"/><stop offset="1" stop-color="#000000"/></linearGradient>
<linearGradient id="hf38" gradientUnits="userSpaceOnUse" x1="0" y1="162" x2="0" y2="253"><stop offset="0" stop-color="#72472d"/><stop offset="0.1" stop-color="#c37a4e"/><stop offset="0.2" stop-color="#ffbd78"/><stop offset="0.3" stop-color="#bf774c"/><stop offset="0.4" stop-color="#74482e"/><stop offset="0.5" stop-color="#dd8a58"/><stop offset="0.6" stop-color="#ffbb77"/><stop offset="0.7" stop-color="#100a06"/><stop offset="0.8" stop-color="#030201"/><stop offset="0.9" stop-color="#020101"/><stop offset="1" stop-color="#000000"/></linearGradient>
<linearGradient id="hf39" gradientUnits="userSpaceOnUse" x1="0" y1="162" x2="0" y2="253"><stop offset="0" stop-color="#764a2f"/><stop offset="0.1" stop-color="#c47b4e"/><stop offset="0.2" stop-color="#ffbd78"/><stop offset="0.3" stop-color="#bb754a"/><stop offset="0.4" stop-color="#8a5637"/><stop offset="0.5" stop-color="#dd8a58"/><stop offset="0.6" stop-color="#ffbd78"/><stop offset="0.7" stop-color="#100a06"/><stop offset="0.8" stop-color="#030201"/><stop offset="0.9" stop-color="#020101"/><stop offset="1" stop-color="#000000"/></linearGradient>
<linearGradient id="hf40" gradientUnits="userSpaceOnUse" x1="0" y1="162" x2="0" y2="253"><stop offset="0" stop-color="#7a4c31"/><stop offset="0.1" stop-color="#c67c4f"/><stop offset="0.2" stop-color="#ffbd78"/><stop offset="0.3" stop-color="#b77249"/><stop offset="0.4" stop-color="#965e3c"/><stop offset="0.5" stop-color="#dd8a58"/><stop offset="0.6" stop-color="#ffbf7a"/><stop offset="0.7" stop-color="#100a06"/><stop offset="0.8" stop-color="#030201"/><stop offset="0.9" stop-color="#020101"/><stop offset="1" stop-color="#000000"/></linearGradient>
<linearGradient id="hf41" gradientUnits="userSpaceOnUse" x1="0" y1="162" x2="0" y2="253"><stop offset="0" stop-color="#7e4f32"/><stop offset="0.1" stop-color="#c77d4f"/><stop offset="0.2" stop-color="#ffbd78"/><stop offset="0.3" stop-color="#b37047"/><stop offset="0.4" stop-color="#a36641"/><stop offset="0.5" stop-color="#dd8a58"/><stop offset="0.6" stop-color="#ffc17b"/><stop offset="0.7" stop-color="#100a06"/><stop offset="0.8" stop-color="#030201"/><stop offset="0.9" stop-color="#020101"/><stop offset="1" stop-color="#000000"/></linearGradient>
<linearGradient id="hf42" gradientUnits="userSpaceOnUse" x1="0" y1="162" x2="0" y2="253"><stop offset="0" stop-color="#825134"/><stop offset="0.1" stop-color="#c97d50"/><stop offset="0.2" stop-color="#ffbd78"/><stop offset="0.3" stop-color="#794b30"/><stop offset="0.4" stop-color="#a36641"/><stop offset="0.5" stop-color="#dd8a58"/><stop offset="0.6" stop-color="#ffc37c"/><stop offset="0.7" stop-color="#100a06"/><stop offset="0.8" stop-color="#030201"/><stop offset="0.9" stop-color="#020101"/><stop offset="1" stop-color="#000000"/></linearGradient>
<linearGradient id="hf43" gradientUnits="userSpaceOnUse" x1="0" y1="162" x2="0" y2="253"><stop offset="0" stop-color="#835234"/><stop offset="0.1" stop-color="#ca7e50"/><stop offset="0.2" stop-color="#ffbd78"/><stop offset="0.3" stop-color="#40281a"/><stop offset="0.4" stop-color="#a36641"/><stop offset="0.5" stop-color="#dd8a58"/><stop offset="0.6" stop-color="#ffc37c"/><stop offset="0.7" stop-color="#100a06"/><stop offset="0.8" stop-color="#030201"/><stop offset="0.9" stop-color="#020101"/><stop offset="1" stop-color="#000000"/></linearGradient>
<linearGradient id="hf44" gradientUnits="userSpaceOnUse" x1="0" y1="162" x2="0" y2="253"><stop offset="0" stop-color="#835234"/><stop offset="0.1" stop-color="#cb7f51"/><stop offset="0.2" stop-color="#ffbd78"/><stop offset="0.3" stop-color="#1d120c"/><stop offset="0.4" stop-color="#a36641"/><stop offset="0.5" stop-color="#dd8a58"/><stop offset="0.6" stop-color="#ffc37c"/><stop offset="0.7" stop-color="#100a06"/><stop offset="0.8" stop-color="#030201"/><stop offset="0.9" stop-color="#020101"/><stop offset="1" stop-color="#000000"/></linearGradient>
<linearGradient id="hf45" gradientUnits="userSpaceOnUse" x1="0" y1="162" x2="0" y2="253"><stop offset="0" stop-color="#845235"/><stop offset="0.1" stop-color="#cd8052"/><stop offset="0.2" stop-color="#ffbd78"/><stop offset="0.3" stop-color="#4e311f"/><stop offset="0.4" stop-color="#a36641"/><stop offset="0.5" stop-color="#dd8a58"/><stop offset="0.6" stop-color="#ffc37c"/><stop offset="0.7" stop-color="#100a06"/><stop offset="0.8" stop-color="#030201"/><stop offset="0.9" stop-color="#020101"/><stop offset="1" stop-color="#000000"/></linearGradient>
<linearGradient id="hf46" gradientUnits="userSpaceOnUse" x1="0" y1="162" x2="0" y2="253"><stop offset="0" stop-color="#855335"/><stop offset="0.1" stop-color="#ce8152"/><stop offset="0.2" stop-color="#ffbd78"/><stop offset="0.3" stop-color="#805033"/><stop offset="0.4" stop-color="#8f5939"/><stop offset="0.5" stop-color="#dd8a58"/><stop offset="0.6" stop-color="#ffc37c"/><stop offset="0.7" stop-color="#100a06"/><stop offset="0.8" stop-color="#030201"/><stop offset="0.9" stop-color="#020101"/><stop offset="1" stop-color="#000000"/></linearGradient>
<linearGradient id="hf47" gradientUnits="userSpaceOnUse" x1="0" y1="162" x2="0" y2="253"><stop offset="0" stop-color="#855335"/><stop offset="0.1" stop-color="#d08253"/><stop offset="0.2" stop-color="#ffbd78"/><stop offset="0.3" stop-color="#b37047"/><stop offset="0.4" stop-color="#7c4d31"/><stop offset="0.5" stop-color="#dd8a58"/><stop offset="0.6" stop-color="#ffc37c"/><stop offset="0.7" stop-color="#100a06"/><stop offset="0.8" stop-color="#030201"/><stop offset="0.9" stop-color="#020201"/><stop offset="1" stop-color="#000000"/></linearGradient>
<linearGradient id="hf48" gradientUnits="userSpaceOnUse" x1="0" y1="162" x2="0" y2="253"><stop offset="0" stop-color="#865435"/><stop offset="0.1" stop-color="#d18353"/><stop offset="0.2" stop-color="#ffbd78"/><stop offset="0.3" stop-color="#b37047"/><stop offset="0.4" stop-color="#684129"/><stop offset="0.5" stop-color="#dd8a58"/><stop offset="0.6" stop-color="#ffc37c"/><stop offset="0.7" stop-color="#100a06"/><stop offset="0.8" stop-color="#030201"/><stop offset="0.9" stop-color="#020201"/><stop offset="1" stop-color="#000000"/></linearGradient>
<linearGradient id="hf49" gradientUnits="userSpaceOnUse" x1="0" y1="162" x2="0" y2="253"><stop offset="0" stop-color="#875436"/><stop offset="0.1" stop-color="#d28354"/><stop offset="0.2" stop-color="#ffbd78"/><stop offset="0.3" stop-color="#b37047"/><stop offset="0.4" stop-color="#653f28"/><stop offset="0.5" stop-color="#dd8a58"/><stop offset="0.6" stop-color="#ffc37c"/><stop offset="0.7" stop-color="#100a06"/><stop offset="0.8" stop-color="#030201"/><stop offset="0.9" stop-color="#030201"/><stop offset="1" stop-color="#000000"/></linearGradient>
<linearGradient id="hf50" gradientUnits="userSpaceOnUse" x1="0" y1="162" x2="0" y2="253"><stop offset="0" stop-color="#875536"/><stop offset="0.1" stop-color="#d48454"/><stop offset="0.2" stop-color="#ffbd78"/><stop offset="0.3" stop-color="#b37047"/><stop offset="0.4" stop-color="#623d27"/><stop offset="0.5" stop-color="#dd8a58"/><stop offset="0.6" stop-color="#ffc37c"/><stop offset="0.7" stop-color="#100a06"/><stop offset="0.8" stop-color="#030201"/><stop offset="0.9" stop-color="#030201"/><stop offset="1" stop-color="#000000"/></linearGradient>
<linearGradient id="hf51" gradientUnits="userSpaceOnUse" x1="0" y1="162" x2="0" y2="253"><stop offset="0" stop-color="#885536"/><stop offset="0.1" stop-color="#d58555"/><stop offset="0.2" stop-color="#ffbd78"/><stop offset="0.3" stop-color="#b37047"/><stop offset="0.4" stop-color="#774b2f"/><stop offset="0.5" stop-color="#dd8a58"/><stop offset="0.6" stop-color="#ffc37c"/><stop offset="0.7" stop-color="#100a06"/><stop offset="0.8" stop-color="#030201"/><stop offset="0.9" stop-color="#030201"/><stop offset="1" stop-color="#000000"/></linearGradient>
<linearGradient id="hf52" gradientUnits="userSpaceOnUse" x1="0" y1="162" x2="0" y2="253"><stop offset="0" stop-color="#895536"/><stop offset="0.1" stop-color="#d78655"/><stop offset="0.2" stop-color="#ffbd78"/><stop offset="0.3" stop-color="#b37047"/><stop offset="0.4" stop-color="#8d5838"/><stop offset="0.5" stop-color="#dd8a58"/><stop offset="0.6" stop-color="#ffc37c"/><stop offset="0.7" stop-color="#100a06"/><stop offset="0.8" stop-color="#030201"/><stop offset="0.9" stop-color="#030201"/><stop offset="1" stop-color="#000000"/></linearGradient>
<linearGradient id="hf53" gradientUnits="userSpaceOnUse" x1="0" y1="162" x2="0" y2="253"><stop offset="0" stop-color="#875536"/><stop offset="0.1" stop-color="#d58555"/><stop offset="0.2" stop-color="#ffbc78"/><stop offset="0.3" stop-color="#b37047"/><stop offset="0.4" stop-color="#a36641"/><stop offset="0.5" stop-color="#dd8a58"/><stop offset="0.6" stop-color="#ffc37c"/><stop offset="0.7" stop-color="#100a06"/><stop offset="0.8" stop-color="#030201"/><stop offset="0.9" stop-color="#030201"/><stop offset="1" stop-color="#000000"/></linearGradient>
<linearGradient id="hf54" gradientUnits="userSpaceOnUse" x1="0" y1="162" x2="0" y2="253"><stop offset="0" stop-color="#865435"/><stop offset="0.1" stop-color="#d38454"/><stop offset="0.2" stop-color="#ffbb77"/><stop offset="0.3" stop-color="#b37047"/><stop offset="0.4" stop-color="#a36641"/><stop offset="0.5" stop-color="#dd8a58"/><stop offset="0.6" stop-color="#ffc37c"/><stop offset="0.7" stop-color="#100a06"/><stop offset="0.8" stop-color="#030201"/><stop offset="0.9" stop-color="#030201"/><stop offset="1" stop-color="#000000"/></linearGradient>
<linearGradient id="hf55" gradientUnits="userSpaceOnUse" x1="0" y1="162" x2="0" y2="253"><stop offset="0" stop-color="#855335"/><stop offset="0.1" stop-color="#d18253"/><stop offset="0.2" stop-color="#ffba76"/><stop offset="0.3" stop-color="#9d623f"/><stop offset="0.4" stop-color="#a36641"/><stop offset="0.5" stop-color="#dd8a58"/><stop offset="0.6" stop-color="#ffc37c"/><stop offset="0.7" stop-color="#100a06"/><stop offset="0.8" stop-color="#030201"/><stop offset="0.9" stop-color="#030201"/><stop offset="1" stop-color="#000000"/></linearGradient>
<linearGradient id="hf56" gradientUnits="userSpaceOnUse" x1="0" y1="162" x2="0" y2="253"><stop offset="0" stop-color="#835234"/><stop offset="0.1" stop-color="#cf8152"/><stop offset="0.2" stop-color="#ffb976"/><stop offset="0.3" stop-color="#875536"/><stop offset="0.4" stop-color="#a36641"/><stop offset="0.5" stop-color="#dd8a58"/><stop offset="0.6" stop-color="#ffc37c"/><stop offset="0.7" stop-color="#100a06"/><stop offset="0.8" stop-color="#030201"/><stop offset="0.9" stop-color="#030201"/><stop offset="1" stop-color="#000000"/></linearGradient>
<linearGradient id="hf57" gradientUnits="userSpaceOnUse" x1="0" y1="162" x2="0" y2="253"><stop offset="0" stop-color="#825134"/><stop offset="0.1" stop-color="#cd8052"/><stop offset="0.2" stop-color="#ffb875"/><stop offset="0.3" stop-color="#72472d"/><stop offset="0.4" stop-color="#a36641"/><stop offset="0.5" stop-color="#dd8a58"/><stop offset="0.6" stop-color="#ffc37c"/><stop offset="0.7" stop-color="#100a06"/><stop offset="0.8" stop-color="#030201"/><stop offset="0.9" stop-color="#030201"/><stop offset="1" stop-color="#000000"/></linearGradient>
<linearGradient id="hf58" gradientUnits="userSpaceOnUse" x1="0" y1="162" x2="0" y2="253"><stop offset="0" stop-color="#815033"/><stop offset="0.1" stop-color="#cb7f51"/><stop offset="0.2" stop-color="#ffb774"/><stop offset="0.3" stop-color="#533421"/><stop offset="0.4" stop-color="#a36641"/><stop offset="0.5" stop-color="#dd8a58"/><stop offset="0.6" stop-color="#ffc37c"/><stop offset="0.7" stop-color="#100a06"/><stop offset="0.8" stop-color="#030201"/><stop offset="0.9" stop-color="#030201"/><stop offset="1" stop-color="#000000"/></linearGradient>
<linearGradient id="hf59" gradientUnits="userSpaceOnUse" x1="0" y1="162" x2="0" y2="253"><stop offset="0" stop-color="#7f5033"/><stop offset="0.1" stop-color="#c97e50"/><stop offset="0.2" stop-color="#ffb674"/><stop offset="0.3" stop-color="#342115"/><stop offset="0.4" stop-color="#815033"/><stop offset="0.5" stop-color="#dd8a58"/><stop offset="0.6" stop-color="#ffc37c"/><stop offset="0.7" stop-color="#100a06"/><stop offset="0.8" stop-color="#030201"/><stop offset="0.9" stop-color="#030201"/><stop offset="1" stop-color="#000000"/></linearGradient>
<linearGradient id="hf60" gradientUnits="userSpaceOnUse" x1="0" y1="162" x2="0" y2="253"><stop offset="0" stop-color="#7e4f32"/><stop offset="0.1" stop-color="#c77c4f"/><stop offset="0.2" stop-color="#ffb573"/><stop offset="0.3" stop-color="#4d301f"/><stop offset="0.4" stop-color="#5f3b26"/><stop offset="0.5" stop-color="#dd8a58"/><stop offset="0.6" stop-color="#ffc37c"/><stop offset="0.7" stop-color="#100a06"/><stop offset="0.8" stop-color="#030201"/><stop offset="0.9" stop-color="#030201"/><stop offset="1" stop-color="#000000"/></linearGradient>
<linearGradient id="hf61" gradientUnits="userSpaceOnUse" x1="0" y1="162" x2="0" y2="253"><stop offset="0" stop-color="#7d4e32"/><stop offset="0.1" stop-color="#c57b4e"/><stop offset="0.2" stop-color="#ffb473"/><stop offset="0.3" stop-color="#674029"/><stop offset="0.4" stop-color="#4b2f1e"/><stop offset="0.5" stop-color="#dd8a58"/><stop offset="0.6" stop-color="#ffc37c"/><stop offset="0.7" stop-color="#100a06"/><stop offset="0.8" stop-color="#030201"/><stop offset="0.9" stop-color="#030201"/><stop offset="1" stop-color="#000000"/></linearGradient>
<linearGradient id="hf62" gradientUnits="userSpaceOnUse" x1="0" y1="162" x2="0" y2="253"><stop offset="0" stop-color="#7c4d31"/><stop offset="0.1" stop-color="#c37a4e"/><stop offset="0.2" stop-color="#ffb372"/><stop offset="0.3" stop-color="#825134"/><stop offset="0.4" stop-color="#41291a"/><stop offset="0.5" stop-color="#dd8a58"/><stop offset="0.6" stop-color="#ffc37c"/><stop offset="0.7" stop-color="#100a06"/><stop offset="0.8" stop-color="#030201"/><stop offset="0.9" stop-color="#030201"/><stop offset="1" stop-color="#000000"/></linearGradient>
<linearGradient id="hf63" gradientUnits="userSpaceOnUse" x1="0" y1="162" x2="0" y2="253"><stop offset="0" stop-color="#7c4d31"/><stop offset="0.1" stop-color="#c37a4e"/><stop offset="0.2" stop-color="#ffb372"/><stop offset="0.3" stop-color="#825134"/><stop offset="0.4" stop-color="#41291a"/><stop offset="0.5" stop-color="#dd8a58"/><stop offset="0.6" stop-color="#ffc37c"/><stop offset="0.7" stop-color="#100a06"/><stop offset="0.8" stop-color="#030201"/><stop offset="0.9" stop-color="#030201"/><stop offset="1" stop-color="#000000"/></linearGradient>
<linearGradient id="hf64" gradientUnits="userSpaceOnUse" x1="0" y1="162" x2="0" y2="253"><stop offset="0" stop-color="#7c4d31"/><stop offset="0.1" stop-color="#c37a4e"/><stop offset="0.2" stop-color="#ffb372"/><stop offset="0.3" stop-color="#825134"/><stop offset="0.4" stop-color="#41291a"/><stop offset="0.5" stop-color="#dd8a58"/><stop offset="0.6" stop-color="#ffc37c"/><stop offset="0.7" stop-color="#100a06"/><stop offset="0.8" stop-color="#030201"/><stop offset="0.9" stop-color="#030201"/><stop offset="1" stop-color="#000000"/></linearGradient>
</defs>
<g transform="translate(0 0)">
<g stroke="#e6e6e6" stroke-width="0.5" fill="none">
<line x1="29.2" y1="37" x2="29.2" y2="93.6"/>
<line x1="91.6" y1="16.6" x2="91.6" y2="73.5"/>
<line x1="139.3" y1="42" x2="139.3" y2="99.8"/>
<line x1="60.2" y1="52" x2="60.2" y2="84"/>
<line x1="115.1" y1="52" x2="115.1" y2="87"/>
</g>
<g stroke="#cccccc" stroke-width="0.9" fill="none">
<line x1="29.2" y1="38" x2="29.2" y2="93.6"/>
</g>
<polygon points="29.2,93.6 91.6,73.5 139.3,99.8 76.9,119.9" fill="#0505b0"/>
<g clip-path="url(#clipbot)">
<g transform="matrix(0.62 -0.2 -0.48 -0.26 84.25 96.7)">
<circle r="52" fill="url(#rip_a)"/>
</g>
</g>
<polygon points="29.2,93.6 91.6,73.5 139.3,99.8 76.9,119.9" fill="url(#botshade)"/>
<g filter="url(#b1)">
<ellipse cx="83.5" cy="91.5" rx="26.88" ry="12.32" transform="rotate(2 83.5 91.5)" fill="url(#halo)" opacity="1"/>
<ellipse cx="72.07" cy="84.47" rx="3.74" ry="2.74" transform="rotate(-10 72.07 84.47)" fill="url(#petal)" opacity="1"/>
<ellipse cx="95.47" cy="86.41" rx="3.74" ry="2.74" transform="rotate(15 95.47 86.41)" fill="url(#petal)" opacity="1"/>
<ellipse cx="66.8" cy="85.96" rx="6.32" ry="3.31" transform="rotate(-20 66.8 85.96)" fill="url(#petal)" opacity="1"/>
<ellipse cx="99.44" cy="88.58" rx="5.85" ry="3.19" transform="rotate(24 99.44 88.58)" fill="url(#petal)" opacity="1"/>
<ellipse cx="68.32" cy="95.08" rx="10.06" ry="4.79" transform="rotate(-6 68.32 95.08)" fill="url(#petal)" opacity="1"/>
<ellipse cx="96.99" cy="95.08" rx="9.36" ry="5.02" transform="rotate(10 96.99 95.08)" fill="url(#petal)" opacity="1"/>
<ellipse cx="82.71" cy="96.9" rx="4.45" ry="3.88" transform="rotate(0 82.71 96.9)" fill="url(#petal)" opacity="1"/>
</g>
<path d="M75.8 90 L75.9 76.5 Q76.6 73 77.9 72.9 Q79.6 74 80.6 76.6 Q82.2 78.6 83.6 76.6 Q86.2 71 88.2 66.6 Q89.4 64.3 90.2 66.2 Q91.6 72 92.4 89.5 Q89 93.2 83.5 93.2 Q78 93 75.8 90 Z" fill="url(#pk_a)" filter="url(#b0)"/>
<polygon points="29.5,37 90.9,16.6 139.3,42 77.6,62.4" fill="#0808a6"/>
<g clip-path="url(#cliptop)">
<g transform="matrix(0.62 -0.2 -0.48 -0.25 84.4 39.5)">
<g transform="translate(-1.2 0.6)">
<circle r="48" fill="url(#ring_a)"/>
<g fill="none" stroke-linecap="round" stroke-linejoin="round"><path d="M-9.73 8.92 L-10.96 7.66 L-12.01 6.24 L-12.88 4.66 L-13.55 2.97 L-13.99 1.19 L-14.19 -0.67 L-14.14 -2.55 L-13.85 -4.43 L-13.3 -6.28 L-12.5 -8.06 L-11.47 -9.73 L-10.2 -11.28 L-8.73 -12.65 L-7.08 -13.84 L-5.26 -14.8 L-3.31 -15.53" stroke="#00cfff" stroke-width="5.6" stroke-opacity="0.15"/><path d="M-9.73 8.92 L-10.96 7.66 L-12.01 6.24 L-12.88 4.66 L-13.55 2.97 L-13.99 1.19 L-14.19 -0.67 L-14.14 -2.55 L-13.85 -4.43 L-13.3 -6.28 L-12.5 -8.06 L-11.47 -9.73 L-10.2 -11.28 L-8.73 -12.65 L-7.08 -13.84 L-5.26 -14.8 L-3.31 -15.53" stroke="#00cfff" stroke-width="3.8" stroke-opacity="0.2"/><path d="M-9.73 8.92 L-10.96 7.66 L-12.01 6.24 L-12.88 4.66 L-13.55 2.97 L-13.99 1.19 L-14.19 -0.67 L-14.14 -2.55 L-13.85 -4.43 L-13.3 -6.28 L-12.5 -8.06 L-11.47 -9.73 L-10.2 -11.28 L-8.73 -12.65 L-7.08 -13.84 L-5.26 -14.8 L-3.31 -15.53" stroke="#00cfff" stroke-width="2" stroke-opacity="0.24"/><path d="M-3.31 -15.53 L-1.26 -16 L0.86 -16.19 L3 -16.1 L5.14 -15.73 L7.23 -15.07 L9.23 -14.13 L11.11 -12.93 L12.84 -11.47 L14.37 -9.78 L15.68 -7.89 L16.73 -5.83 L17.52 -3.62 L18.01 -1.3 L18.19 1.08 L18.05 3.48 L17.6 5.87" stroke="#00c3ff" stroke-width="5.6" stroke-opacity="0.26"/><path d="M-3.31 -15.53 L-1.26 -16 L0.86 -16.19 L3 -16.1 L5.14 -15.73 L7.23 -15.07 L9.23 -14.13 L11.11 -12.93 L12.84 -11.47 L14.37 -9.78 L15.68 -7.89 L16.73 -5.83 L17.52 -3.62 L18.01 -1.3 L18.19 1.08 L18.05 3.48 L17.6 5.87" stroke="#00c3ff" stroke-width="3.8" stroke-opacity="0.35"/><path d="M-3.31 -15.53 L-1.26 -16 L0.86 -16.19 L3 -16.1 L5.14 -15.73 L7.23 -15.07 L9.23 -14.13 L11.11 -12.93 L12.84 -11.47 L14.37 -9.78 L15.68 -7.89 L16.73 -5.83 L17.52 -3.62 L18.01 -1.3 L18.19 1.08 L18.05 3.48 L17.6 5.87" stroke="#00c3ff" stroke-width="2" stroke-opacity="0.42"/><path d="M17.6 5.87 L16.83 8.2 L15.75 10.43 L14.37 12.51 L12.72 14.41 L10.82 16.09 L8.69 17.52 L6.37 18.67 L3.9 19.51 L1.32 20.02 L-1.32 20.18 L-3.99 20 L-6.63 19.46 L-9.2 18.58 L-11.64 17.35 L-13.93 15.8 L-16 13.95" stroke="#00afff" stroke-width="5.6" stroke-opacity="0.28"/><path d="M17.6 5.87 L16.83 8.2 L15.75 10.43 L14.37 12.51 L12.72 14.41 L10.82 16.09 L8.69 17.52 L6.37 18.67 L3.9 19.51 L1.32 20.02 L-1.32 20.18 L-3.99 20 L-6.63 19.46 L-9.2 18.58 L-11.64 17.35 L-13.93 15.8 L-16 13.95" stroke="#00afff" stroke-width="3.8" stroke-opacity="0.37"/><path d="M17.6 5.87 L16.83 8.2 L15.75 10.43 L14.37 12.51 L12.72 14.41 L10.82 16.09 L8.69 17.52 L6.37 18.67 L3.9 19.51 L1.32 20.02 L-1.32 20.18 L-3.99 20 L-6.63 19.46 L-9.2 18.58 L-11.64 17.35 L-13.93 15.8 L-16 13.95" stroke="#00afff" stroke-width="2" stroke-opacity="0.45"/><path d="M-16 13.95 L-17.83 11.83 L-19.38 9.46 L-20.61 6.89 L-21.5 4.16 L-22.03 1.32 L-22.18 -1.59 L-21.94 -4.52 L-21.32 -7.41 L-20.32 -10.21 L-18.94 -12.88 L-17.21 -15.36 L-15.16 -17.61 L-12.82 -19.59 L-10.21 -21.25 L-7.39 -22.56 L-4.4 -23.5" stroke="#0094ff" stroke-width="5.6" stroke-opacity="0.12"/><path d="M-16 13.95 L-17.83 11.83 L-19.38 9.46 L-20.61 6.89 L-21.5 4.16 L-22.03 1.32 L-22.18 -1.59 L-21.94 -4.52 L-21.32 -7.41 L-20.32 -10.21 L-18.94 -12.88 L-17.21 -15.36 L-15.16 -17.61 L-12.82 -19.59 L-10.21 -21.25 L-7.39 -22.56 L-4.4 -23.5" stroke="#0094ff" stroke-width="3.8" stroke-opacity="0.15"/><path d="M-16 13.95 L-17.83 11.83 L-19.38 9.46 L-20.61 6.89 L-21.5 4.16 L-22.03 1.32 L-22.18 -1.59 L-21.94 -4.52 L-21.32 -7.41 L-20.32 -10.21 L-18.94 -12.88 L-17.21 -15.36 L-15.16 -17.61 L-12.82 -19.59 L-10.21 -21.25 L-7.39 -22.56 L-4.4 -23.5" stroke="#0094ff" stroke-width="2" stroke-opacity="0.18"/><path d="M-4.4 -23.5 L-1.29 -24.04 L1.88 -24.17 L5.07 -23.88 L8.21 -23.17 L11.25 -22.04 L14.14 -20.51 L16.81 -18.61 L19.23 -16.35 L21.35 -13.78 L23.13 -10.94 L24.52 -7.86 L25.5 -4.61 L26.05 -1.24 L26.16 2.2 L25.81 5.64 L25 9.03" stroke="#0077ff" stroke-width="5.6" stroke-opacity="0.2"/><path d="M-4.4 -23.5 L-1.29 -24.04 L1.88 -24.17 L5.07 -23.88 L8.21 -23.17 L11.25 -22.04 L14.14 -20.51 L16.81 -18.61 L19.23 -16.35 L21.35 -13.78 L23.13 -10.94 L24.52 -7.86 L25.5 -4.61 L26.05 -1.24 L26.16 2.2 L25.81 5.64 L25 9.03" stroke="#0077ff" stroke-width="3.8" stroke-opacity="0.26"/><path d="M-4.4 -23.5 L-1.29 -24.04 L1.88 -24.17 L5.07 -23.88 L8.21 -23.17 L11.25 -22.04 L14.14 -20.51 L16.81 -18.61 L19.23 -16.35 L21.35 -13.78 L23.13 -10.94 L24.52 -7.86 L25.5 -4.61 L26.05 -1.24 L26.16 2.2 L25.81 5.64 L25 9.03" stroke="#0077ff" stroke-width="2" stroke-opacity="0.31"/><path d="M25 9.03 L23.75 12.31 L22.07 15.41 L19.99 18.28 L17.53 20.87 L14.73 23.13 L11.64 25.01 L8.31 26.48 L4.8 27.51 L1.16 28.07 L-2.54 28.14 L-6.24 27.73 L-9.88 26.83 L-13.39 25.45 L-16.71 23.62 L-19.77 21.35 L-22.53 18.68" stroke="#005bff" stroke-width="5.6" stroke-opacity="0.2"/><path d="M25 9.03 L23.75 12.31 L22.07 15.41 L19.99 18.28 L17.53 20.87 L14.73 23.13 L11.64 25.01 L8.31 26.48 L4.8 27.51 L1.16 28.07 L-2.54 28.14 L-6.24 27.73 L-9.88 26.83 L-13.39 25.45 L-16.71 23.62 L-19.77 21.35 L-22.53 18.68" stroke="#005bff" stroke-width="3.8" stroke-opacity="0.26"/><path d="M25 9.03 L23.75 12.31 L22.07 15.41 L19.99 18.28 L17.53 20.87 L14.73 23.13 L11.64 25.01 L8.31 26.48 L4.8 27.51 L1.16 28.07 L-2.54 28.14 L-6.24 27.73 L-9.88 26.83 L-13.39 25.45 L-16.71 23.62 L-19.77 21.35 L-22.53 18.68" stroke="#005bff" stroke-width="2" stroke-opacity="0.32"/><path d="M-22.53 18.68 L-24.92 15.66 L-26.91 12.32 L-28.45 8.74 L-29.52 4.97 L-30.08 1.06 L-30.13 -2.91 L-29.65 -6.87 L-28.65 -10.75 L-27.14 -14.49 L-25.15 -18.02 L-22.69 -21.27 L-19.81 -24.19 L-16.56 -26.72 L-12.98 -28.82 L-9.14 -30.43 L-5.1 -31.53" stroke="#0042ff" stroke-width="5.6" stroke-opacity="0.08"/><path d="M-22.53 18.68 L-24.92 15.66 L-26.91 12.32 L-28.45 8.74 L-29.52 4.97 L-30.08 1.06 L-30.13 -2.91 L-29.65 -6.87 L-28.65 -10.75 L-27.14 -14.49 L-25.15 -18.02 L-22.69 -21.27 L-19.81 -24.19 L-16.56 -26.72 L-12.98 -28.82 L-9.14 -30.43 L-5.1 -31.53" stroke="#0042ff" stroke-width="3.8" stroke-opacity="0.1"/><path d="M-22.53 18.68 L-24.92 15.66 L-26.91 12.32 L-28.45 8.74 L-29.52 4.97 L-30.08 1.06 L-30.13 -2.91 L-29.65 -6.87 L-28.65 -10.75 L-27.14 -14.49 L-25.15 -18.02 L-22.69 -21.27 L-19.81 -24.19 L-16.56 -26.72 L-12.98 -28.82 L-9.14 -30.43 L-5.1 -31.53" stroke="#0042ff" stroke-width="2" stroke-opacity="0.12"/><path d="M-5.1 -31.53 L-0.93 -32.09 L3.3 -32.11 L7.51 -31.56 L11.64 -30.46 L15.61 -28.82 L19.35 -26.66 L22.8 -24.01 L25.88 -20.93 L28.54 -17.44 L30.73 -13.62 L32.41 -9.52 L33.54 -5.22 L34.11 -0.78 L34.08 3.71 L33.46 8.19 L32.26 12.56" stroke="#002eff" stroke-width="5.6" stroke-opacity="0.13"/><path d="M-5.1 -31.53 L-0.93 -32.09 L3.3 -32.11 L7.51 -31.56 L11.64 -30.46 L15.61 -28.82 L19.35 -26.66 L22.8 -24.01 L25.88 -20.93 L28.54 -17.44 L30.73 -13.62 L32.41 -9.52 L33.54 -5.22 L34.11 -0.78 L34.08 3.71 L33.46 8.19 L32.26 12.56" stroke="#002eff" stroke-width="3.8" stroke-opacity="0.17"/><path d="M-5.1 -31.53 L-0.93 -32.09 L3.3 -32.11 L7.51 -31.56 L11.64 -30.46 L15.61 -28.82 L19.35 -26.66 L22.8 -24.01 L25.88 -20.93 L28.54 -17.44 L30.73 -13.62 L32.41 -9.52 L33.54 -5.22 L34.11 -0.78 L34.08 3.71 L33.46 8.19 L32.26 12.56" stroke="#002eff" stroke-width="2" stroke-opacity="0.2"/><path d="M32.26 12.56 L30.48 16.76 L28.16 20.71 L25.32 24.34 L22.02 27.57 L18.3 30.36 L14.23 32.65 L9.88 34.4 L5.31 35.56 L0.61 36.12 L-4.15 36.05 L-8.88 35.36 L-13.5 34.05 L-17.93 32.13 L-22.08 29.64 L-25.89 26.61 L-29.29 23.09" stroke="#001fff" stroke-width="5.6" stroke-opacity="0.12"/><path d="M32.26 12.56 L30.48 16.76 L28.16 20.71 L25.32 24.34 L22.02 27.57 L18.3 30.36 L14.23 32.65 L9.88 34.4 L5.31 35.56 L0.61 36.12 L-4.15 36.05 L-8.88 35.36 L-13.5 34.05 L-17.93 32.13 L-22.08 29.64 L-25.89 26.61 L-29.29 23.09" stroke="#001fff" stroke-width="3.8" stroke-opacity="0.16"/><path d="M32.26 12.56 L30.48 16.76 L28.16 20.71 L25.32 24.34 L22.02 27.57 L18.3 30.36 L14.23 32.65 L9.88 34.4 L5.31 35.56 L0.61 36.12 L-4.15 36.05 L-8.88 35.36 L-13.5 34.05 L-17.93 32.13 L-22.08 29.64 L-25.89 26.61 L-29.29 23.09" stroke="#001fff" stroke-width="2" stroke-opacity="0.19"/><path d="M-29.29 23.09 L-32.2 19.14 L-34.59 14.82 L-36.39 10.21 L-37.58 5.37 L-38.13 0.4 L-38.02 -4.62 L-37.25 -9.6 L-35.82 -14.46 L-33.77 -19.11" stroke="#0016ff" stroke-width="5.6" stroke-opacity="0.05"/><path d="M-29.29 23.09 L-32.2 19.14 L-34.59 14.82 L-36.39 10.21 L-37.58 5.37 L-38.13 0.4 L-38.02 -4.62 L-37.25 -9.6 L-35.82 -14.46 L-33.77 -19.11" stroke="#0016ff" stroke-width="3.8" stroke-opacity="0.06"/><path d="M-29.29 23.09 L-32.2 19.14 L-34.59 14.82 L-36.39 10.21 L-37.58 5.37 L-38.13 0.4 L-38.02 -4.62 L-37.25 -9.6 L-35.82 -14.46 L-33.77 -19.11" stroke="#0016ff" stroke-width="2" stroke-opacity="0.08"/></g>
<circle cx="4.6" cy="-5.6" r="6.24" fill="url(#hot_a)"/>
</g></g></g>
<text x="83.9" y="13.6" font-size="9.15" font-weight="bold" text-anchor="middle">Scattering Field Intensity</text>
<text x="21.3" y="102.4" font-size="7.6" font-weight="bold" text-anchor="middle">50</text>
<text x="47.4" y="115.2" font-size="7.6" font-weight="bold" text-anchor="middle">0</text>
<text x="67.1" y="128.8" font-size="7.6" font-weight="bold" text-anchor="middle">−50</text>
<text x="86.6" y="129.3" font-size="7.6" font-weight="bold" text-anchor="middle">−50</text>
<text x="113.7" y="118.9" font-size="7.6" font-weight="bold" text-anchor="middle">0</text>
<text x="146.8" y="109.4" font-size="7.6" font-weight="bold" text-anchor="middle">50</text>
<text x="4" y="133.3" font-size="9" font-weight="bold"><tspan font-style="italic">y</tspan>-axis (m)</text>
<text x="115.2" y="134.3" font-size="9" font-weight="bold"><tspan font-style="italic">x</tspan>-axis (m)</text>
<text x="89.3" y="149.2" font-size="12.3" font-weight="bold" text-anchor="middle">(a)</text>
<rect x="151.6" y="16.7" width="6.6" height="103.4" fill="url(#jetcb)"/>
<text x="160.9" y="27.2" font-size="6.8" font-weight="bold" text-anchor="start">14</text>
<text x="160.9" y="40.9" font-size="6.8" font-weight="bold" text-anchor="start">12</text>
<text x="160.9" y="54.5" font-size="6.8" font-weight="bold" text-anchor="start">10</text>
<text x="160.9" y="68.2" font-size="6.8" font-weight="bold" text-anchor="start">8</text>
<text x="160.9" y="81.9" font-size="6.8" font-weight="bold" text-anchor="start">6</text>
<text x="160.9" y="95.5" font-size="6.8" font-weight="bold" text-anchor="start">4</text>
<text x="160.9" y="109.2" font-size="6.8" font-weight="bold" text-anchor="start">2</text>
<text x="158.6" y="14.4" font-size="7" font-weight="bold">×10<tspan font-size="5" dy="-3.1">−3</tspan></text>
</g>
<g transform="translate(185.4 0)">
<g stroke="#e6e6e6" stroke-width="0.5" fill="none">
<line x1="29.2" y1="37" x2="29.2" y2="93.6"/>
<line x1="91.6" y1="16.6" x2="91.6" y2="73.5"/>
<line x1="139.3" y1="42" x2="139.3" y2="99.8"/>
<line x1="60.2" y1="52" x2="60.2" y2="84"/>
<line x1="115.1" y1="52" x2="115.1" y2="87"/>
</g>
<g stroke="#cccccc" stroke-width="0.9" fill="none">
<line x1="29.2" y1="38" x2="29.2" y2="93.6"/>
</g>
<polygon points="29.2,93.6 91.6,73.5 139.3,99.8 76.9,119.9" fill="#0505b0"/>
<g clip-path="url(#clipbot)">
<g transform="matrix(0.62 -0.2 -0.48 -0.26 84.25 96.7)">
<circle r="52" fill="url(#rip_b)"/>
</g>
</g>
<polygon points="29.2,93.6 91.6,73.5 139.3,99.8 76.9,119.9" fill="url(#botshade)"/>
<g filter="url(#b1)">
<ellipse cx="83.5" cy="91" rx="23.5" ry="10.6" transform="rotate(2 83.5 91)" fill="url(#halo)" opacity="1"/>
<ellipse cx="73.7" cy="85" rx="3.09" ry="2.2" transform="rotate(-10 73.7 85)" fill="url(#petal2)" opacity="1"/>
<ellipse cx="93.89" cy="86.6" rx="3.09" ry="2.2" transform="rotate(15 93.89 86.6)" fill="url(#petal2)" opacity="1"/>
<ellipse cx="69.37" cy="86.2" rx="5.56" ry="2.9" transform="rotate(-20 69.37 86.2)" fill="url(#petal2)" opacity="1"/>
<ellipse cx="97.39" cy="88.2" rx="4.74" ry="2.6" transform="rotate(24 97.39 88.2)" fill="url(#petal2)" opacity="1"/>
<ellipse cx="70.4" cy="94" rx="8.65" ry="4" transform="rotate(-6 70.4 94)" fill="url(#petal2)" opacity="1"/>
<ellipse cx="95.74" cy="93.8" rx="7.83" ry="4" transform="rotate(10 95.74 93.8)" fill="url(#petal2)" opacity="1"/>
<ellipse cx="83.48" cy="95.6" rx="3.91" ry="3.2" transform="rotate(0 83.48 95.6)" fill="url(#petal2)" opacity="1"/>
</g>
<path d="M76.1 89.5 L76.2 82.4 Q76.5 80.7 77.8 80.5 Q80.6 79.7 82.9 77.1 Q84.8 74 86 69.8 Q87.3 65.6 88.5 64.4 Q89.5 65 90.1 68.5 Q91.3 75 92.3 88.2 Q89 92.6 84 92.6 Q78.5 92.4 76.1 89.5 Z" fill="url(#pk_b)" filter="url(#b0)"/>
<polygon points="29.5,37 90.9,16.6 139.3,42 77.6,62.4" fill="#0808a6"/>
<g clip-path="url(#cliptop)">
<g transform="matrix(0.62 -0.2 -0.48 -0.25 84.4 39.5)">
<g transform="translate(-1.2 0.6)">
<circle r="48" fill="url(#ring_b)"/>
<g fill="none" stroke-linecap="round" stroke-linejoin="round"><path d="M-9.73 8.92 L-10.96 7.66 L-12.01 6.24 L-12.88 4.66 L-13.55 2.97 L-13.99 1.19 L-14.19 -0.67 L-14.14 -2.55 L-13.85 -4.43 L-13.3 -6.28 L-12.5 -8.06 L-11.47 -9.73 L-10.2 -11.28 L-8.73 -12.65 L-7.08 -13.84 L-5.26 -14.8 L-3.31 -15.53" stroke="#00b1ff" stroke-width="5.6" stroke-opacity="0.15"/><path d="M-9.73 8.92 L-10.96 7.66 L-12.01 6.24 L-12.88 4.66 L-13.55 2.97 L-13.99 1.19 L-14.19 -0.67 L-14.14 -2.55 L-13.85 -4.43 L-13.3 -6.28 L-12.5 -8.06 L-11.47 -9.73 L-10.2 -11.28 L-8.73 -12.65 L-7.08 -13.84 L-5.26 -14.8 L-3.31 -15.53" stroke="#00b1ff" stroke-width="3.8" stroke-opacity="0.2"/><path d="M-9.73 8.92 L-10.96 7.66 L-12.01 6.24 L-12.88 4.66 L-13.55 2.97 L-13.99 1.19 L-14.19 -0.67 L-14.14 -2.55 L-13.85 -4.43 L-13.3 -6.28 L-12.5 -8.06 L-11.47 -9.73 L-10.2 -11.28 L-8.73 -12.65 L-7.08 -13.84 L-5.26 -14.8 L-3.31 -15.53" stroke="#00b1ff" stroke-width="2" stroke-opacity="0.24"/><path d="M-3.31 -15.53 L-1.26 -16 L0.86 -16.19 L3 -16.1 L5.14 -15.73 L7.23 -15.07 L9.23 -14.13 L11.11 -12.93 L12.84 -11.47 L14.37 -9.78 L15.68 -7.89 L16.73 -5.83 L17.52 -3.62 L18.01 -1.3 L18.19 1.08 L18.05 3.48 L17.6 5.87" stroke="#00a7ff" stroke-width="5.6" stroke-opacity="0.26"/><path d="M-3.31 -15.53 L-1.26 -16 L0.86 -16.19 L3 -16.1 L5.14 -15.73 L7.23 -15.07 L9.23 -14.13 L11.11 -12.93 L12.84 -11.47 L14.37 -9.78 L15.68 -7.89 L16.73 -5.83 L17.52 -3.62 L18.01 -1.3 L18.19 1.08 L18.05 3.48 L17.6 5.87" stroke="#00a7ff" stroke-width="3.8" stroke-opacity="0.35"/><path d="M-3.31 -15.53 L-1.26 -16 L0.86 -16.19 L3 -16.1 L5.14 -15.73 L7.23 -15.07 L9.23 -14.13 L11.11 -12.93 L12.84 -11.47 L14.37 -9.78 L15.68 -7.89 L16.73 -5.83 L17.52 -3.62 L18.01 -1.3 L18.19 1.08 L18.05 3.48 L17.6 5.87" stroke="#00a7ff" stroke-width="2" stroke-opacity="0.42"/><path d="M17.6 5.87 L16.83 8.2 L15.75 10.43 L14.37 12.51 L12.72 14.41 L10.82 16.09 L8.69 17.52 L6.37 18.67 L3.9 19.51 L1.32 20.02 L-1.32 20.18 L-3.99 20 L-6.63 19.46 L-9.2 18.58 L-11.64 17.35 L-13.93 15.8 L-16 13.95" stroke="#0095ff" stroke-width="5.6" stroke-opacity="0.28"/><path d="M17.6 5.87 L16.83 8.2 L15.75 10.43 L14.37 12.51 L12.72 14.41 L10.82 16.09 L8.69 17.52 L6.37 18.67 L3.9 19.51 L1.32 20.02 L-1.32 20.18 L-3.99 20 L-6.63 19.46 L-9.2 18.58 L-11.64 17.35 L-13.93 15.8 L-16 13.95" stroke="#0095ff" stroke-width="3.8" stroke-opacity="0.37"/><path d="M17.6 5.87 L16.83 8.2 L15.75 10.43 L14.37 12.51 L12.72 14.41 L10.82 16.09 L8.69 17.52 L6.37 18.67 L3.9 19.51 L1.32 20.02 L-1.32 20.18 L-3.99 20 L-6.63 19.46 L-9.2 18.58 L-11.64 17.35 L-13.93 15.8 L-16 13.95" stroke="#0095ff" stroke-width="2" stroke-opacity="0.45"/><path d="M-16 13.95 L-17.83 11.83 L-19.38 9.46 L-20.61 6.89 L-21.5 4.16 L-22.03 1.32 L-22.18 -1.59 L-21.94 -4.52 L-21.32 -7.41 L-20.32 -10.21 L-18.94 -12.88 L-17.21 -15.36 L-15.16 -17.61 L-12.82 -19.59 L-10.21 -21.25 L-7.39 -22.56 L-4.4 -23.5" stroke="#007eff" stroke-width="5.6" stroke-opacity="0.12"/><path d="M-16 13.95 L-17.83 11.83 L-19.38 9.46 L-20.61 6.89 L-21.5 4.16 L-22.03 1.32 L-22.18 -1.59 L-21.94 -4.52 L-21.32 -7.41 L-20.32 -10.21 L-18.94 -12.88 L-17.21 -15.36 L-15.16 -17.61 L-12.82 -19.59 L-10.21 -21.25 L-7.39 -22.56 L-4.4 -23.5" stroke="#007eff" stroke-width="3.8" stroke-opacity="0.15"/><path d="M-16 13.95 L-17.83 11.83 L-19.38 9.46 L-20.61 6.89 L-21.5 4.16 L-22.03 1.32 L-22.18 -1.59 L-21.94 -4.52 L-21.32 -7.41 L-20.32 -10.21 L-18.94 -12.88 L-17.21 -15.36 L-15.16 -17.61 L-12.82 -19.59 L-10.21 -21.25 L-7.39 -22.56 L-4.4 -23.5" stroke="#007eff" stroke-width="2" stroke-opacity="0.18"/><path d="M-4.4 -23.5 L-1.29 -24.04 L1.88 -24.17 L5.07 -23.88 L8.21 -23.17 L11.25 -22.04 L14.14 -20.51 L16.81 -18.61 L19.23 -16.35 L21.35 -13.78 L23.13 -10.94 L24.52 -7.86 L25.5 -4.61 L26.05 -1.24 L26.16 2.2 L25.81 5.64 L25 9.03" stroke="#0066ff" stroke-width="5.6" stroke-opacity="0.2"/><path d="M-4.4 -23.5 L-1.29 -24.04 L1.88 -24.17 L5.07 -23.88 L8.21 -23.17 L11.25 -22.04 L14.14 -20.51 L16.81 -18.61 L19.23 -16.35 L21.35 -13.78 L23.13 -10.94 L24.52 -7.86 L25.5 -4.61 L26.05 -1.24 L26.16 2.2 L25.81 5.64 L25 9.03" stroke="#0066ff" stroke-width="3.8" stroke-opacity="0.26"/><path d="M-4.4 -23.5 L-1.29 -24.04 L1.88 -24.17 L5.07 -23.88 L8.21 -23.17 L11.25 -22.04 L14.14 -20.51 L16.81 -18.61 L19.23 -16.35 L21.35 -13.78 L23.13 -10.94 L24.52 -7.86 L25.5 -4.61 L26.05 -1.24 L26.16 2.2 L25.81 5.64 L25 9.03" stroke="#0066ff" stroke-width="2" stroke-opacity="0.31"/><path d="M25 9.03 L23.75 12.31 L22.07 15.41 L19.99 18.28 L17.53 20.87 L14.73 23.13 L11.64 25.01 L8.31 26.48 L4.8 27.51 L1.16 28.07 L-2.54 28.14 L-6.24 27.73 L-9.88 26.83 L-13.39 25.45 L-16.71 23.62 L-19.77 21.35 L-22.53 18.68" stroke="#004eff" stroke-width="5.6" stroke-opacity="0.2"/><path d="M25 9.03 L23.75 12.31 L22.07 15.41 L19.99 18.28 L17.53 20.87 L14.73 23.13 L11.64 25.01 L8.31 26.48 L4.8 27.51 L1.16 28.07 L-2.54 28.14 L-6.24 27.73 L-9.88 26.83 L-13.39 25.45 L-16.71 23.62 L-19.77 21.35 L-22.53 18.68" stroke="#004eff" stroke-width="3.8" stroke-opacity="0.26"/><path d="M25 9.03 L23.75 12.31 L22.07 15.41 L19.99 18.28 L17.53 20.87 L14.73 23.13 L11.64 25.01 L8.31 26.48 L4.8 27.51 L1.16 28.07 L-2.54 28.14 L-6.24 27.73 L-9.88 26.83 L-13.39 25.45 L-16.71 23.62 L-19.77 21.35 L-22.53 18.68" stroke="#004eff" stroke-width="2" stroke-opacity="0.32"/><path d="M-22.53 18.68 L-24.92 15.66 L-26.91 12.32 L-28.45 8.74 L-29.52 4.97 L-30.08 1.06 L-30.13 -2.91 L-29.65 -6.87 L-28.65 -10.75 L-27.14 -14.49 L-25.15 -18.02 L-22.69 -21.27 L-19.81 -24.19 L-16.56 -26.72 L-12.98 -28.82 L-9.14 -30.43 L-5.1 -31.53" stroke="#0039ff" stroke-width="5.6" stroke-opacity="0.08"/><path d="M-22.53 18.68 L-24.92 15.66 L-26.91 12.32 L-28.45 8.74 L-29.52 4.97 L-30.08 1.06 L-30.13 -2.91 L-29.65 -6.87 L-28.65 -10.75 L-27.14 -14.49 L-25.15 -18.02 L-22.69 -21.27 L-19.81 -24.19 L-16.56 -26.72 L-12.98 -28.82 L-9.14 -30.43 L-5.1 -31.53" stroke="#0039ff" stroke-width="3.8" stroke-opacity="0.1"/><path d="M-22.53 18.68 L-24.92 15.66 L-26.91 12.32 L-28.45 8.74 L-29.52 4.97 L-30.08 1.06 L-30.13 -2.91 L-29.65 -6.87 L-28.65 -10.75 L-27.14 -14.49 L-25.15 -18.02 L-22.69 -21.27 L-19.81 -24.19 L-16.56 -26.72 L-12.98 -28.82 L-9.14 -30.43 L-5.1 -31.53" stroke="#0039ff" stroke-width="2" stroke-opacity="0.12"/><path d="M-5.1 -31.53 L-0.93 -32.09 L3.3 -32.11 L7.51 -31.56 L11.64 -30.46 L15.61 -28.82 L19.35 -26.66 L22.8 -24.01 L25.88 -20.93 L28.54 -17.44 L30.73 -13.62 L32.41 -9.52 L33.54 -5.22 L34.11 -0.78 L34.08 3.71 L33.46 8.19 L32.26 12.56" stroke="#0028ff" stroke-width="5.6" stroke-opacity="0.13"/><path d="M-5.1 -31.53 L-0.93 -32.09 L3.3 -32.11 L7.51 -31.56 L11.64 -30.46 L15.61 -28.82 L19.35 -26.66 L22.8 -24.01 L25.88 -20.93 L28.54 -17.44 L30.73 -13.62 L32.41 -9.52 L33.54 -5.22 L34.11 -0.78 L34.08 3.71 L33.46 8.19 L32.26 12.56" stroke="#0028ff" stroke-width="3.8" stroke-opacity="0.17"/><path d="M-5.1 -31.53 L-0.93 -32.09 L3.3 -32.11 L7.51 -31.56 L11.64 -30.46 L15.61 -28.82 L19.35 -26.66 L22.8 -24.01 L25.88 -20.93 L28.54 -17.44 L30.73 -13.62 L32.41 -9.52 L33.54 -5.22 L34.11 -0.78 L34.08 3.71 L33.46 8.19 L32.26 12.56" stroke="#0028ff" stroke-width="2" stroke-opacity="0.2"/><path d="M32.26 12.56 L30.48 16.76 L28.16 20.71 L25.32 24.34 L22.02 27.57 L18.3 30.36 L14.23 32.65 L9.88 34.4 L5.31 35.56 L0.61 36.12 L-4.15 36.05 L-8.88 35.36 L-13.5 34.05 L-17.93 32.13 L-22.08 29.64 L-25.89 26.61 L-29.29 23.09" stroke="#001bff" stroke-width="5.6" stroke-opacity="0.12"/><path d="M32.26 12.56 L30.48 16.76 L28.16 20.71 L25.32 24.34 L22.02 27.57 L18.3 30.36 L14.23 32.65 L9.88 34.4 L5.31 35.56 L0.61 36.12 L-4.15 36.05 L-8.88 35.36 L-13.5 34.05 L-17.93 32.13 L-22.08 29.64 L-25.89 26.61 L-29.29 23.09" stroke="#001bff" stroke-width="3.8" stroke-opacity="0.16"/><path d="M32.26 12.56 L30.48 16.76 L28.16 20.71 L25.32 24.34 L22.02 27.57 L18.3 30.36 L14.23 32.65 L9.88 34.4 L5.31 35.56 L0.61 36.12 L-4.15 36.05 L-8.88 35.36 L-13.5 34.05 L-17.93 32.13 L-22.08 29.64 L-25.89 26.61 L-29.29 23.09" stroke="#001bff" stroke-width="2" stroke-opacity="0.19"/><path d="M-29.29 23.09 L-32.2 19.14 L-34.59 14.82 L-36.39 10.21 L-37.58 5.37 L-38.13 0.4 L-38.02 -4.62 L-37.25 -9.6 L-35.82 -14.46 L-33.77 -19.11" stroke="#0014ff" stroke-width="5.6" stroke-opacity="0.05"/><path d="M-29.29 23.09 L-32.2 19.14 L-34.59 14.82 L-36.39 10.21 L-37.58 5.37 L-38.13 0.4 L-38.02 -4.62 L-37.25 -9.6 L-35.82 -14.46 L-33.77 -19.11" stroke="#0014ff" stroke-width="3.8" stroke-opacity="0.06"/><path d="M-29.29 23.09 L-32.2 19.14 L-34.59 14.82 L-36.39 10.21 L-37.58 5.37 L-38.13 0.4 L-38.02 -4.62 L-37.25 -9.6 L-35.82 -14.46 L-33.77 -19.11" stroke="#0014ff" stroke-width="2" stroke-opacity="0.08"/></g>
<circle cx="-1.5" cy="-6.2" r="5.76" fill="url(#hot2_b)"/>
<circle cx="4.3" cy="-6" r="6.08" fill="url(#hot_b)"/>
</g></g></g>
<text x="83.9" y="13.6" font-size="9.15" font-weight="bold" text-anchor="middle">Scattering Field Intensity</text>
<text x="21.3" y="102.4" font-size="7.6" font-weight="bold" text-anchor="middle">50</text>
<text x="47.4" y="115.2" font-size="7.6" font-weight="bold" text-anchor="middle">0</text>
<text x="67.1" y="128.8" font-size="7.6" font-weight="bold" text-anchor="middle">−50</text>
<text x="86.6" y="129.3" font-size="7.6" font-weight="bold" text-anchor="middle">−50</text>
<text x="113.7" y="118.9" font-size="7.6" font-weight="bold" text-anchor="middle">0</text>
<text x="146.8" y="109.4" font-size="7.6" font-weight="bold" text-anchor="middle">50</text>
<text x="4" y="133.3" font-size="9" font-weight="bold"><tspan font-style="italic">y</tspan>-axis (m)</text>
<text x="115.2" y="134.3" font-size="9" font-weight="bold"><tspan font-style="italic">x</tspan>-axis (m)</text>
<text x="89.3" y="149.8" font-size="12.3" font-weight="bold" text-anchor="middle">(b)</text>
<rect x="151.5" y="16.7" width="6.8" height="103.4" fill="url(#jetcb)"/>
<text x="161" y="30" font-size="6.8" font-weight="bold" text-anchor="start">16</text>
<text x="161" y="41.6" font-size="6.8" font-weight="bold" text-anchor="start">14</text>
<text x="161" y="53.2" font-size="6.8" font-weight="bold" text-anchor="start">12</text>
<text x="161" y="64.8" font-size="6.8" font-weight="bold" text-anchor="start">10</text>
<text x="161" y="76.4" font-size="6.8" font-weight="bold" text-anchor="start">8</text>
<text x="161" y="88" font-size="6.8" font-weight="bold" text-anchor="start">6</text>
<text x="161" y="99.6" font-size="6.8" font-weight="bold" text-anchor="start">4</text>
<text x="161" y="111.2" font-size="6.8" font-weight="bold" text-anchor="start">2</text>
<text x="158.5" y="14.4" font-size="7" font-weight="bold">×10<tspan font-size="5" dy="-3.1">−3</tspan></text>
</g>
<g transform="translate(370.8 0)">
<g stroke="#e6e6e6" stroke-width="0.5" fill="none">
<line x1="29.2" y1="37" x2="29.2" y2="93.6"/>
<line x1="91.6" y1="16.6" x2="91.6" y2="73.5"/>
<line x1="139.3" y1="42" x2="139.3" y2="99.8"/>
<line x1="60.2" y1="52" x2="60.2" y2="84"/>
<line x1="115.1" y1="52" x2="115.1" y2="87"/>
</g>
<g stroke="#cccccc" stroke-width="0.9" fill="none">
<line x1="29.2" y1="38" x2="29.2" y2="93.6"/>
</g>
<polygon points="29.2,93.6 91.6,73.5 139.3,99.8 76.9,119.9" fill="#0505b0"/>
<g clip-path="url(#clipbot)">
<g transform="matrix(0.62 -0.2 -0.48 -0.26 84.25 96.7)">
<circle r="52" fill="url(#rip_c)"/>
</g>
</g>
<polygon points="29.2,93.6 91.6,73.5 139.3,99.8 76.9,119.9" fill="url(#botshade)"/>
<g filter="url(#b1)">
<ellipse cx="83.5" cy="91" rx="22.79" ry="10.28" transform="rotate(2 83.5 91)" fill="url(#halo)" opacity="1"/>
<ellipse cx="74" cy="85.19" rx="3" ry="2.13" transform="rotate(-10 74 85.19)" fill="url(#petal2)" opacity="1"/>
<ellipse cx="93.6" cy="86.74" rx="3" ry="2.13" transform="rotate(15 93.6 86.74)" fill="url(#petal2)" opacity="1"/>
<ellipse cx="69.8" cy="86.35" rx="5.6" ry="2.91" transform="rotate(-20 69.8 86.35)" fill="url(#petal2)" opacity="1"/>
<ellipse cx="96.6" cy="88.29" rx="4.4" ry="2.52" transform="rotate(24 96.6 88.29)" fill="url(#petal2)" opacity="1"/>
<ellipse cx="71" cy="93.72" rx="8.4" ry="3.88" transform="rotate(-6 71 93.72)" fill="url(#petal2)" opacity="1"/>
<ellipse cx="95.4" cy="93.33" rx="7.6" ry="3.88" transform="rotate(10 95.4 93.33)" fill="url(#petal2)" opacity="1"/>
<ellipse cx="84" cy="95.08" rx="3.8" ry="3.1" transform="rotate(0 84 95.08)" fill="url(#petal2)" opacity="1"/>
</g>
<path d="M76.8 87.8 Q79.3 83.5 81.3 79.5 Q83.6 75 85 72.2 Q86.2 68.4 86.8 66.4 Q87.8 63.6 88.9 66.4 Q89.8 69 90.5 72.2 Q91.1 76 91.4 79.5 L91.9 88.7 Q89 92 84.6 92 Q79.5 91.8 76.8 87.8 Z" fill="url(#pk_c)" filter="url(#b0)"/>
<polygon points="29.5,37 90.9,16.6 139.3,42 77.6,62.4" fill="#0808a6"/>
<g clip-path="url(#cliptop)">
<g transform="matrix(0.62 -0.2 -0.48 -0.25 84.4 39.5)">
<g transform="translate(-1.2 0.6)">
<circle r="48" fill="url(#ring_c)"/>
<g fill="none" stroke-linecap="round" stroke-linejoin="round"><path d="M-9.73 8.92 L-10.96 7.66 L-12.01 6.24 L-12.88 4.66 L-13.55 2.97 L-13.99 1.19 L-14.19 -0.67 L-14.14 -2.55 L-13.85 -4.43 L-13.3 -6.28 L-12.5 -8.06 L-11.47 -9.73 L-10.2 -11.28 L-8.73 -12.65 L-7.08 -13.84 L-5.26 -14.8 L-3.31 -15.53" stroke="#009dff" stroke-width="5.6" stroke-opacity="0.15"/><path d="M-9.73 8.92 L-10.96 7.66 L-12.01 6.24 L-12.88 4.66 L-13.55 2.97 L-13.99 1.19 L-14.19 -0.67 L-14.14 -2.55 L-13.85 -4.43 L-13.3 -6.28 L-12.5 -8.06 L-11.47 -9.73 L-10.2 -11.28 L-8.73 -12.65 L-7.08 -13.84 L-5.26 -14.8 L-3.31 -15.53" stroke="#009dff" stroke-width="3.8" stroke-opacity="0.2"/><path d="M-9.73 8.92 L-10.96 7.66 L-12.01 6.24 L-12.88 4.66 L-13.55 2.97 L-13.99 1.19 L-14.19 -0.67 L-14.14 -2.55 L-13.85 -4.43 L-13.3 -6.28 L-12.5 -8.06 L-11.47 -9.73 L-10.2 -11.28 L-8.73 -12.65 L-7.08 -13.84 L-5.26 -14.8 L-3.31 -15.53" stroke="#009dff" stroke-width="2" stroke-opacity="0.24"/><path d="M-3.31 -15.53 L-1.26 -16 L0.86 -16.19 L3 -16.1 L5.14 -15.73 L7.23 -15.07 L9.23 -14.13 L11.11 -12.93 L12.84 -11.47 L14.37 -9.78 L15.68 -7.89 L16.73 -5.83 L17.52 -3.62 L18.01 -1.3 L18.19 1.08 L18.05 3.48 L17.6 5.87" stroke="#0094ff" stroke-width="5.6" stroke-opacity="0.26"/><path d="M-3.31 -15.53 L-1.26 -16 L0.86 -16.19 L3 -16.1 L5.14 -15.73 L7.23 -15.07 L9.23 -14.13 L11.11 -12.93 L12.84 -11.47 L14.37 -9.78 L15.68 -7.89 L16.73 -5.83 L17.52 -3.62 L18.01 -1.3 L18.19 1.08 L18.05 3.48 L17.6 5.87" stroke="#0094ff" stroke-width="3.8" stroke-opacity="0.35"/><path d="M-3.31 -15.53 L-1.26 -16 L0.86 -16.19 L3 -16.1 L5.14 -15.73 L7.23 -15.07 L9.23 -14.13 L11.11 -12.93 L12.84 -11.47 L14.37 -9.78 L15.68 -7.89 L16.73 -5.83 L17.52 -3.62 L18.01 -1.3 L18.19 1.08 L18.05 3.48 L17.6 5.87" stroke="#0094ff" stroke-width="2" stroke-opacity="0.42"/><path d="M17.6 5.87 L16.83 8.2 L15.75 10.43 L14.37 12.51 L12.72 14.41 L10.82 16.09 L8.69 17.52 L6.37 18.67 L3.9 19.51 L1.32 20.02 L-1.32 20.18 L-3.99 20 L-6.63 19.46 L-9.2 18.58 L-11.64 17.35 L-13.93 15.8 L-16 13.95" stroke="#0084ff" stroke-width="5.6" stroke-opacity="0.28"/><path d="M17.6 5.87 L16.83 8.2 L15.75 10.43 L14.37 12.51 L12.72 14.41 L10.82 16.09 L8.69 17.52 L6.37 18.67 L3.9 19.51 L1.32 20.02 L-1.32 20.18 L-3.99 20 L-6.63 19.46 L-9.2 18.58 L-11.64 17.35 L-13.93 15.8 L-16 13.95" stroke="#0084ff" stroke-width="3.8" stroke-opacity="0.37"/><path d="M17.6 5.87 L16.83 8.2 L15.75 10.43 L14.37 12.51 L12.72 14.41 L10.82 16.09 L8.69 17.52 L6.37 18.67 L3.9 19.51 L1.32 20.02 L-1.32 20.18 L-3.99 20 L-6.63 19.46 L-9.2 18.58 L-11.64 17.35 L-13.93 15.8 L-16 13.95" stroke="#0084ff" stroke-width="2" stroke-opacity="0.45"/><path d="M-16 13.95 L-17.83 11.83 L-19.38 9.46 L-20.61 6.89 L-21.5 4.16 L-22.03 1.32 L-22.18 -1.59 L-21.94 -4.52 L-21.32 -7.41 L-20.32 -10.21 L-18.94 -12.88 L-17.21 -15.36 L-15.16 -17.61 L-12.82 -19.59 L-10.21 -21.25 L-7.39 -22.56 L-4.4 -23.5" stroke="#0070ff" stroke-width="5.6" stroke-opacity="0.12"/><path d="M-16 13.95 L-17.83 11.83 L-19.38 9.46 L-20.61 6.89 L-21.5 4.16 L-22.03 1.32 L-22.18 -1.59 L-21.94 -4.52 L-21.32 -7.41 L-20.32 -10.21 L-18.94 -12.88 L-17.21 -15.36 L-15.16 -17.61 L-12.82 -19.59 L-10.21 -21.25 L-7.39 -22.56 L-4.4 -23.5" stroke="#0070ff" stroke-width="3.8" stroke-opacity="0.15"/><path d="M-16 13.95 L-17.83 11.83 L-19.38 9.46 L-20.61 6.89 L-21.5 4.16 L-22.03 1.32 L-22.18 -1.59 L-21.94 -4.52 L-21.32 -7.41 L-20.32 -10.21 L-18.94 -12.88 L-17.21 -15.36 L-15.16 -17.61 L-12.82 -19.59 L-10.21 -21.25 L-7.39 -22.56 L-4.4 -23.5" stroke="#0070ff" stroke-width="2" stroke-opacity="0.18"/><path d="M-4.4 -23.5 L-1.29 -24.04 L1.88 -24.17 L5.07 -23.88 L8.21 -23.17 L11.25 -22.04 L14.14 -20.51 L16.81 -18.61 L19.23 -16.35 L21.35 -13.78 L23.13 -10.94 L24.52 -7.86 L25.5 -4.61 L26.05 -1.24 L26.16 2.2 L25.81 5.64 L25 9.03" stroke="#005aff" stroke-width="5.6" stroke-opacity="0.2"/><path d="M-4.4 -23.5 L-1.29 -24.04 L1.88 -24.17 L5.07 -23.88 L8.21 -23.17 L11.25 -22.04 L14.14 -20.51 L16.81 -18.61 L19.23 -16.35 L21.35 -13.78 L23.13 -10.94 L24.52 -7.86 L25.5 -4.61 L26.05 -1.24 L26.16 2.2 L25.81 5.64 L25 9.03" stroke="#005aff" stroke-width="3.8" stroke-opacity="0.26"/><path d="M-4.4 -23.5 L-1.29 -24.04 L1.88 -24.17 L5.07 -23.88 L8.21 -23.17 L11.25 -22.04 L14.14 -20.51 L16.81 -18.61 L19.23 -16.35 L21.35 -13.78 L23.13 -10.94 L24.52 -7.86 L25.5 -4.61 L26.05 -1.24 L26.16 2.2 L25.81 5.64 L25 9.03" stroke="#005aff" stroke-width="2" stroke-opacity="0.31"/><path d="M25 9.03 L23.75 12.31 L22.07 15.41 L19.99 18.28 L17.53 20.87 L14.73 23.13 L11.64 25.01 L8.31 26.48 L4.8 27.51 L1.16 28.07 L-2.54 28.14 L-6.24 27.73 L-9.88 26.83 L-13.39 25.45 L-16.71 23.62 L-19.77 21.35 L-22.53 18.68" stroke="#0045ff" stroke-width="5.6" stroke-opacity="0.2"/><path d="M25 9.03 L23.75 12.31 L22.07 15.41 L19.99 18.28 L17.53 20.87 L14.73 23.13 L11.64 25.01 L8.31 26.48 L4.8 27.51 L1.16 28.07 L-2.54 28.14 L-6.24 27.73 L-9.88 26.83 L-13.39 25.45 L-16.71 23.62 L-19.77 21.35 L-22.53 18.68" stroke="#0045ff" stroke-width="3.8" stroke-opacity="0.26"/><path d="M25 9.03 L23.75 12.31 L22.07 15.41 L19.99 18.28 L17.53 20.87 L14.73 23.13 L11.64 25.01 L8.31 26.48 L4.8 27.51 L1.16 28.07 L-2.54 28.14 L-6.24 27.73 L-9.88 26.83 L-13.39 25.45 L-16.71 23.62 L-19.77 21.35 L-22.53 18.68" stroke="#0045ff" stroke-width="2" stroke-opacity="0.32"/><path d="M-22.53 18.68 L-24.92 15.66 L-26.91 12.32 L-28.45 8.74 L-29.52 4.97 L-30.08 1.06 L-30.13 -2.91 L-29.65 -6.87 L-28.65 -10.75 L-27.14 -14.49 L-25.15 -18.02 L-22.69 -21.27 L-19.81 -24.19 L-16.56 -26.72 L-12.98 -28.82 L-9.14 -30.43 L-5.1 -31.53" stroke="#0033ff" stroke-width="5.6" stroke-opacity="0.08"/><path d="M-22.53 18.68 L-24.92 15.66 L-26.91 12.32 L-28.45 8.74 L-29.52 4.97 L-30.08 1.06 L-30.13 -2.91 L-29.65 -6.87 L-28.65 -10.75 L-27.14 -14.49 L-25.15 -18.02 L-22.69 -21.27 L-19.81 -24.19 L-16.56 -26.72 L-12.98 -28.82 L-9.14 -30.43 L-5.1 -31.53" stroke="#0033ff" stroke-width="3.8" stroke-opacity="0.1"/><path d="M-22.53 18.68 L-24.92 15.66 L-26.91 12.32 L-28.45 8.74 L-29.52 4.97 L-30.08 1.06 L-30.13 -2.91 L-29.65 -6.87 L-28.65 -10.75 L-27.14 -14.49 L-25.15 -18.02 L-22.69 -21.27 L-19.81 -24.19 L-16.56 -26.72 L-12.98 -28.82 L-9.14 -30.43 L-5.1 -31.53" stroke="#0033ff" stroke-width="2" stroke-opacity="0.12"/><path d="M-5.1 -31.53 L-0.93 -32.09 L3.3 -32.11 L7.51 -31.56 L11.64 -30.46 L15.61 -28.82 L19.35 -26.66 L22.8 -24.01 L25.88 -20.93 L28.54 -17.44 L30.73 -13.62 L32.41 -9.52 L33.54 -5.22 L34.11 -0.78 L34.08 3.71 L33.46 8.19 L32.26 12.56" stroke="#0024ff" stroke-width="5.6" stroke-opacity="0.13"/><path d="M-5.1 -31.53 L-0.93 -32.09 L3.3 -32.11 L7.51 -31.56 L11.64 -30.46 L15.61 -28.82 L19.35 -26.66 L22.8 -24.01 L25.88 -20.93 L28.54 -17.44 L30.73 -13.62 L32.41 -9.52 L33.54 -5.22 L34.11 -0.78 L34.08 3.71 L33.46 8.19 L32.26 12.56" stroke="#0024ff" stroke-width="3.8" stroke-opacity="0.17"/><path d="M-5.1 -31.53 L-0.93 -32.09 L3.3 -32.11 L7.51 -31.56 L11.64 -30.46 L15.61 -28.82 L19.35 -26.66 L22.8 -24.01 L25.88 -20.93 L28.54 -17.44 L30.73 -13.62 L32.41 -9.52 L33.54 -5.22 L34.11 -0.78 L34.08 3.71 L33.46 8.19 L32.26 12.56" stroke="#0024ff" stroke-width="2" stroke-opacity="0.2"/><path d="M32.26 12.56 L30.48 16.76 L28.16 20.71 L25.32 24.34 L22.02 27.57 L18.3 30.36 L14.23 32.65 L9.88 34.4 L5.31 35.56 L0.61 36.12 L-4.15 36.05 L-8.88 35.36 L-13.5 34.05 L-17.93 32.13 L-22.08 29.64 L-25.89 26.61 L-29.29 23.09" stroke="#0019ff" stroke-width="5.6" stroke-opacity="0.12"/><path d="M32.26 12.56 L30.48 16.76 L28.16 20.71 L25.32 24.34 L22.02 27.57 L18.3 30.36 L14.23 32.65 L9.88 34.4 L5.31 35.56 L0.61 36.12 L-4.15 36.05 L-8.88 35.36 L-13.5 34.05 L-17.93 32.13 L-22.08 29.64 L-25.89 26.61 L-29.29 23.09" stroke="#0019ff" stroke-width="3.8" stroke-opacity="0.16"/><path d="M32.26 12.56 L30.48 16.76 L28.16 20.71 L25.32 24.34 L22.02 27.57 L18.3 30.36 L14.23 32.65 L9.88 34.4 L5.31 35.56 L0.61 36.12 L-4.15 36.05 L-8.88 35.36 L-13.5 34.05 L-17.93 32.13 L-22.08 29.64 L-25.89 26.61 L-29.29 23.09" stroke="#0019ff" stroke-width="2" stroke-opacity="0.19"/><path d="M-29.29 23.09 L-32.2 19.14 L-34.59 14.82 L-36.39 10.21 L-37.58 5.37 L-38.13 0.4 L-38.02 -4.62 L-37.25 -9.6 L-35.82 -14.46 L-33.77 -19.11" stroke="#0012ff" stroke-width="5.6" stroke-opacity="0.05"/><path d="M-29.29 23.09 L-32.2 19.14 L-34.59 14.82 L-36.39 10.21 L-37.58 5.37 L-38.13 0.4 L-38.02 -4.62 L-37.25 -9.6 L-35.82 -14.46 L-33.77 -19.11" stroke="#0012ff" stroke-width="3.8" stroke-opacity="0.06"/><path d="M-29.29 23.09 L-32.2 19.14 L-34.59 14.82 L-36.39 10.21 L-37.58 5.37 L-38.13 0.4 L-38.02 -4.62 L-37.25 -9.6 L-35.82 -14.46 L-33.77 -19.11" stroke="#0012ff" stroke-width="2" stroke-opacity="0.08"/></g>
<circle cx="-3" cy="-5" r="5.44" fill="url(#hot2_c)"/>
<circle cx="3" cy="-5.8" r="7.04" fill="url(#hot_c)"/>
</g></g></g>
<text x="83.9" y="13.6" font-size="9.15" font-weight="bold" text-anchor="middle">Scattering Field Intensity</text>
<text x="21.3" y="102.4" font-size="7.6" font-weight="bold" text-anchor="middle">50</text>
<text x="47.4" y="115.2" font-size="7.6" font-weight="bold" text-anchor="middle">0</text>
<text x="67.1" y="128.8" font-size="7.6" font-weight="bold" text-anchor="middle">−50</text>
<text x="86.6" y="129.3" font-size="7.6" font-weight="bold" text-anchor="middle">−50</text>
<text x="113.7" y="118.9" font-size="7.6" font-weight="bold" text-anchor="middle">0</text>
<text x="146.8" y="109.4" font-size="7.6" font-weight="bold" text-anchor="middle">50</text>
<text x="4" y="133.3" font-size="9" font-weight="bold"><tspan font-style="italic">y</tspan>-axis (m)</text>
<text x="115.2" y="134.3" font-size="9" font-weight="bold"><tspan font-style="italic">x</tspan>-axis (m)</text>
<text x="89.75" y="149.2" font-size="12.3" font-weight="bold" text-anchor="middle">(c)</text>
<rect x="151.8" y="16.7" width="6.4" height="103.4" fill="url(#jetcb)"/>
<text x="160" y="20.4" font-size="6.9" font-weight="bold" text-anchor="start">0.02</text>
<text x="160" y="45.7" font-size="6.9" font-weight="bold" text-anchor="start">0.015</text>
<text x="160" y="71.1" font-size="6.9" font-weight="bold" text-anchor="start">0.01</text>
<text x="160" y="96.5" font-size="6.9" font-weight="bold" text-anchor="start">0.005</text>
</g>
<g transform="translate(0 0)">
<rect x="32" y="162" width="109.8" height="91" fill="#000"/>
<g clip-path="url(#cliph)"><g filter="url(#hb)">
<rect x="27.23" y="158" width="3.43" height="99" fill="url(#hd0)"/>
<rect x="29.05" y="158" width="3.43" height="99" fill="url(#hd1)"/>
<rect x="30.89" y="158" width="3.43" height="99" fill="url(#hd2)"/>
<rect x="32.71" y="158" width="3.43" height="99" fill="url(#hd3)"/>
<rect x="34.54" y="158" width="3.43" height="99" fill="url(#hd4)"/>
<rect x="36.38" y="158" width="3.43" height="99" fill="url(#hd5)"/>
<rect x="38.2" y="158" width="3.43" height="99" fill="url(#hd6)"/>
<rect x="40.03" y="158" width="3.43" height="99" fill="url(#hd7)"/>
<rect x="41.86" y="158" width="3.43" height="99" fill="url(#hd8)"/>
<rect x="43.69" y="158" width="3.43" height="99" fill="url(#hd9)"/>
<rect x="45.52" y="158" width="3.43" height="99" fill="url(#hd10)"/>
<rect x="47.35" y="158" width="3.43" height="99" fill="url(#hd11)"/>
<rect x="49.18" y="158" width="3.43" height="99" fill="url(#hd12)"/>
<rect x="51.02" y="158" width="3.43" height="99" fill="url(#hd13)"/>
<rect x="52.84" y="158" width="3.43" height="99" fill="url(#hd14)"/>
<rect x="54.67" y="158" width="3.43" height="99" fill="url(#hd15)"/>
<rect x="56.5" y="158" width="3.43" height="99" fill="url(#hd16)"/>
<rect x="58.33" y="158" width="3.43" height="99" fill="url(#hd17)"/>
<rect x="60.16" y="158" width="3.43" height="99" fill="url(#hd18)"/>
<rect x="61.99" y="158" width="3.43" height="99" fill="url(#hd19)"/>
<rect x="63.83" y="158" width="3.43" height="99" fill="url(#hd20)"/>
<rect x="65.65" y="158" width="3.43" height="99" fill="url(#hd21)"/>
<rect x="67.48" y="158" width="3.43" height="99" fill="url(#hd22)"/>
<rect x="69.31" y="158" width="3.43" height="99" fill="url(#hd23)"/>
<rect x="71.14" y="158" width="3.43" height="99" fill="url(#hd24)"/>
<rect x="72.97" y="158" width="3.43" height="99" fill="url(#hd25)"/>
<rect x="74.8" y="158" width="3.43" height="99" fill="url(#hd26)"/>
<rect x="76.63" y="158" width="3.43" height="99" fill="url(#hd27)"/>
<rect x="78.46" y="158" width="3.43" height="99" fill="url(#hd28)"/>
<rect x="80.3" y="158" width="3.43" height="99" fill="url(#hd29)"/>
<rect x="82.12" y="158" width="3.43" height="99" fill="url(#hd30)"/>
<rect x="83.95" y="158" width="3.43" height="99" fill="url(#hd31)"/>
<rect x="85.78" y="158" width="3.43" height="99" fill="url(#hd32)"/>
<rect x="87.61" y="158" width="3.43" height="99" fill="url(#hd33)"/>
<rect x="89.44" y="158" width="3.43" height="99" fill="url(#hd34)"/>
<rect x="91.27" y="158" width="3.43" height="99" fill="url(#hd35)"/>
<rect x="93.1" y="158" width="3.43" height="99" fill="url(#hd36)"/>
<rect x="94.93" y="158" width="3.43" height="99" fill="url(#hd37)"/>
<rect x="96.76" y="158" width="3.43" height="99" fill="url(#hd38)"/>
<rect x="98.59" y="158" width="3.43" height="99" fill="url(#hd39)"/>
<rect x="100.42" y="158" width="3.43" height="99" fill="url(#hd40)"/>
<rect x="102.25" y="158" width="3.43" height="99" fill="url(#hd41)"/>
<rect x="104.08" y="158" width="3.43" height="99" fill="url(#hd42)"/>
<rect x="105.91" y="158" width="3.43" height="99" fill="url(#hd43)"/>
<rect x="107.74" y="158" width="3.43" height="99" fill="url(#hd44)"/>
<rect x="109.57" y="158" width="3.43" height="99" fill="url(#hd45)"/>
<rect x="111.4" y="158" width="3.43" height="99" fill="url(#hd46)"/>
<rect x="113.23" y="158" width="3.43" height="99" fill="url(#hd47)"/>
<rect x="115.06" y="158" width="3.43" height="99" fill="url(#hd48)"/>
<rect x="116.89" y="158" width="3.43" height="99" fill="url(#hd49)"/>
<rect x="118.72" y="158" width="3.43" height="99" fill="url(#hd50)"/>
<rect x="120.55" y="158" width="3.43" height="99" fill="url(#hd51)"/>
<rect x="122.38" y="158" width="3.43" height="99" fill="url(#hd52)"/>
<rect x="124.21" y="158" width="3.43" height="99" fill="url(#hd53)"/>
<rect x="126.04" y="158" width="3.43" height="99" fill="url(#hd54)"/>
<rect x="127.87" y="158" width="3.43" height="99" fill="url(#hd55)"/>
<rect x="129.7" y="158" width="3.43" height="99" fill="url(#hd56)"/>
<rect x="131.53" y="158" width="3.43" height="99" fill="url(#hd57)"/>
<rect x="133.37" y="158" width="3.43" height="99" fill="url(#hd58)"/>
<rect x="135.19" y="158" width="3.43" height="99" fill="url(#hd59)"/>
<rect x="137.03" y="158" width="3.43" height="99" fill="url(#hd60)"/>
<rect x="138.86" y="158" width="3.43" height="99" fill="url(#hd61)"/>
<rect x="140.69" y="158" width="3.43" height="99" fill="url(#hd62)"/>
<rect x="142.51" y="158" width="3.43" height="99" fill="url(#hd63)"/>
<rect x="144.34" y="158" width="3.43" height="99" fill="url(#hd64)"/>
</g></g>
<rect x="32.2" y="162.2" width="109.4" height="90.6" fill="none" stroke="#140c06" stroke-width="0.7" stroke-opacity="0.75"/>
<text x="30" y="164.65" font-size="7.7" font-weight="bold" text-anchor="end">5</text>
<text x="30" y="173.75" font-size="7.7" font-weight="bold" text-anchor="end">4</text>
<text x="30" y="182.85" font-size="7.7" font-weight="bold" text-anchor="end">3</text>
<text x="30" y="191.95" font-size="7.7" font-weight="bold" text-anchor="end">2</text>
<text x="30" y="201.05" font-size="7.7" font-weight="bold" text-anchor="end">1</text>
<text x="30" y="210.15" font-size="7.7" font-weight="bold" text-anchor="end">0</text>
<text x="30" y="219.25" font-size="7.7" font-weight="bold" text-anchor="end">−1</text>
<text x="30" y="228.35" font-size="7.7" font-weight="bold" text-anchor="end">−2</text>
<text x="30" y="237.45" font-size="7.7" font-weight="bold" text-anchor="end">−3</text>
<text x="30" y="246.55" font-size="7.7" font-weight="bold" text-anchor="end">−4</text>
<text x="30" y="255.65" font-size="7.7" font-weight="bold" text-anchor="end">−5</text>
<text x="32" y="263.1" font-size="7.9" font-weight="bold" text-anchor="middle">0</text>
<text x="50.3" y="263.1" font-size="7.9" font-weight="bold" text-anchor="middle">5</text>
<text x="68.6" y="263.1" font-size="7.9" font-weight="bold" text-anchor="middle">10</text>
<text x="86.9" y="263.1" font-size="7.9" font-weight="bold" text-anchor="middle">15</text>
<text x="105.2" y="263.1" font-size="7.9" font-weight="bold" text-anchor="middle">20</text>
<text x="123.5" y="263.1" font-size="7.9" font-weight="bold" text-anchor="middle">25</text>
<text x="141.8" y="263.1" font-size="7.9" font-weight="bold" text-anchor="middle">30</text>
<text x="87.25" y="159" font-size="8.9" font-weight="bold" text-anchor="middle">OAM Spectrum</text>
<text x="87.4" y="274.0" font-size="8.9" font-weight="bold" text-anchor="middle">Observation Radius <tspan font-style="italic">ρ</tspan> (m)</text>
<text transform="translate(18 207.5) rotate(-90)" font-size="9" font-weight="bold" text-anchor="middle">Topological Charge</text>
<text x="89.1" y="289" font-size="12.3" font-weight="bold" text-anchor="middle">(d)</text>
<rect x="149.6" y="161.4" width="6.5" height="91.7" fill="url(#copcb)"/>
<text x="158.3" y="164.9" font-size="7.2" font-weight="bold" text-anchor="start">1</text>
<text x="158.3" y="183.2" font-size="7.2" font-weight="bold" text-anchor="start">0.8</text>
<text x="158.3" y="201.5" font-size="7.2" font-weight="bold" text-anchor="start">0.6</text>
<text x="158.3" y="219.8" font-size="7.2" font-weight="bold" text-anchor="start">0.4</text>
<text x="158.3" y="238.1" font-size="7.2" font-weight="bold" text-anchor="start">0.2</text>
</g>
<g transform="translate(185.4 0)">
<rect x="32" y="162" width="109.8" height="91" fill="#000"/>
<g clip-path="url(#cliph)"><g filter="url(#hb)">
<rect x="27.23" y="158" width="3.43" height="99" fill="url(#he0)"/>
<rect x="29.05" y="158" width="3.43" height="99" fill="url(#he1)"/>
<rect x="30.89" y="158" width="3.43" height="99" fill="url(#he2)"/>
<rect x="32.71" y="158" width="3.43" height="99" fill="url(#he3)"/>
<rect x="34.54" y="158" width="3.43" height="99" fill="url(#he4)"/>
<rect x="36.38" y="158" width="3.43" height="99" fill="url(#he5)"/>
<rect x="38.2" y="158" width="3.43" height="99" fill="url(#he6)"/>
<rect x="40.03" y="158" width="3.43" height="99" fill="url(#he7)"/>
<rect x="41.86" y="158" width="3.43" height="99" fill="url(#he8)"/>
<rect x="43.69" y="158" width="3.43" height="99" fill="url(#he9)"/>
<rect x="45.52" y="158" width="3.43" height="99" fill="url(#he10)"/>
<rect x="47.35" y="158" width="3.43" height="99" fill="url(#he11)"/>
<rect x="49.18" y="158" width="3.43" height="99" fill="url(#he12)"/>
<rect x="51.02" y="158" width="3.43" height="99" fill="url(#he13)"/>
<rect x="52.84" y="158" width="3.43" height="99" fill="url(#he14)"/>
<rect x="54.67" y="158" width="3.43" height="99" fill="url(#he15)"/>
<rect x="56.5" y="158" width="3.43" height="99" fill="url(#he16)"/>
<rect x="58.33" y="158" width="3.43" height="99" fill="url(#he17)"/>
<rect x="60.16" y="158" width="3.43" height="99" fill="url(#he18)"/>
<rect x="61.99" y="158" width="3.43" height="99" fill="url(#he19)"/>
<rect x="63.83" y="158" width="3.43" height="99" fill="url(#he20)"/>
<rect x="65.65" y="158" width="3.43" height="99" fill="url(#he21)"/>
<rect x="67.48" y="158" width="3.43" height="99" fill="url(#he22)"/>
<rect x="69.31" y="158" width="3.43" height="99" fill="url(#he23)"/>
<rect x="71.14" y="158" width="3.43" height="99" fill="url(#he24)"/>
<rect x="72.97" y="158" width="3.43" height="99" fill="url(#he25)"/>
<rect x="74.8" y="158" width="3.43" height="99" fill="url(#he26)"/>
<rect x="76.63" y="158" width="3.43" height="99" fill="url(#he27)"/>
<rect x="78.46" y="158" width="3.43" height="99" fill="url(#he28)"/>
<rect x="80.3" y="158" width="3.43" height="99" fill="url(#he29)"/>
<rect x="82.12" y="158" width="3.43" height="99" fill="url(#he30)"/>
<rect x="83.95" y="158" width="3.43" height="99" fill="url(#he31)"/>
<rect x="85.78" y="158" width="3.43" height="99" fill="url(#he32)"/>
<rect x="87.61" y="158" width="3.43" height="99" fill="url(#he33)"/>
<rect x="89.44" y="158" width="3.43" height="99" fill="url(#he34)"/>
<rect x="91.27" y="158" width="3.43" height="99" fill="url(#he35)"/>
<rect x="93.1" y="158" width="3.43" height="99" fill="url(#he36)"/>
<rect x="94.93" y="158" width="3.43" height="99" fill="url(#he37)"/>
<rect x="96.76" y="158" width="3.43" height="99" fill="url(#he38)"/>
<rect x="98.59" y="158" width="3.43" height="99" fill="url(#he39)"/>
<rect x="100.42" y="158" width="3.43" height="99" fill="url(#he40)"/>
<rect x="102.25" y="158" width="3.43" height="99" fill="url(#he41)"/>
<rect x="104.08" y="158" width="3.43" height="99" fill="url(#he42)"/>
<rect x="105.91" y="158" width="3.43" height="99" fill="url(#he43)"/>
<rect x="107.74" y="158" width="3.43" height="99" fill="url(#he44)"/>
<rect x="109.57" y="158" width="3.43" height="99" fill="url(#he45)"/>
<rect x="111.4" y="158" width="3.43" height="99" fill="url(#he46)"/>
<rect x="113.23" y="158" width="3.43" height="99" fill="url(#he47)"/>
<rect x="115.06" y="158" width="3.43" height="99" fill="url(#he48)"/>
<rect x="116.89" y="158" width="3.43" height="99" fill="url(#he49)"/>
<rect x="118.72" y="158" width="3.43" height="99" fill="url(#he50)"/>
<rect x="120.55" y="158" width="3.43" height="99" fill="url(#he51)"/>
<rect x="122.38" y="158" width="3.43" height="99" fill="url(#he52)"/>
<rect x="124.21" y="158" width="3.43" height="99" fill="url(#he53)"/>
<rect x="126.04" y="158" width="3.43" height="99" fill="url(#he54)"/>
<rect x="127.87" y="158" width="3.43" height="99" fill="url(#he55)"/>
<rect x="129.7" y="158" width="3.43" height="99" fill="url(#he56)"/>
<rect x="131.53" y="158" width="3.43" height="99" fill="url(#he57)"/>
<rect x="133.37" y="158" width="3.43" height="99" fill="url(#he58)"/>
<rect x="135.19" y="158" width="3.43" height="99" fill="url(#he59)"/>
<rect x="137.03" y="158" width="3.43" height="99" fill="url(#he60)"/>
<rect x="138.86" y="158" width="3.43" height="99" fill="url(#he61)"/>
<rect x="140.69" y="158" width="3.43" height="99" fill="url(#he62)"/>
<rect x="142.51" y="158" width="3.43" height="99" fill="url(#he63)"/>
<rect x="144.34" y="158" width="3.43" height="99" fill="url(#he64)"/>
</g></g>
<rect x="32.2" y="162.2" width="109.4" height="90.6" fill="none" stroke="#140c06" stroke-width="0.7" stroke-opacity="0.75"/>
<text x="30" y="164.65" font-size="7.7" font-weight="bold" text-anchor="end">5</text>
<text x="30" y="173.75" font-size="7.7" font-weight="bold" text-anchor="end">4</text>
<text x="30" y="182.85" font-size="7.7" font-weight="bold" text-anchor="end">3</text>
<text x="30" y="191.95" font-size="7.7" font-weight="bold" text-anchor="end">2</text>
<text x="30" y="201.05" font-size="7.7" font-weight="bold" text-anchor="end">1</text>
<text x="30" y="210.15" font-size="7.7" font-weight="bold" text-anchor="end">0</text>
<text x="30" y="219.25" font-size="7.7" font-weight="bold" text-anchor="end">−1</text>
<text x="30" y="228.35" font-size="7.7" font-weight="bold" text-anchor="end">−2</text>
<text x="30" y="237.45" font-size="7.7" font-weight="bold" text-anchor="end">−3</text>
<text x="30" y="246.55" font-size="7.7" font-weight="bold" text-anchor="end">−4</text>
<text x="30" y="255.65" font-size="7.7" font-weight="bold" text-anchor="end">−5</text>
<text x="32" y="263.1" font-size="7.9" font-weight="bold" text-anchor="middle">0</text>
<text x="50.3" y="263.1" font-size="7.9" font-weight="bold" text-anchor="middle">5</text>
<text x="68.6" y="263.1" font-size="7.9" font-weight="bold" text-anchor="middle">10</text>
<text x="86.9" y="263.1" font-size="7.9" font-weight="bold" text-anchor="middle">15</text>
<text x="105.2" y="263.1" font-size="7.9" font-weight="bold" text-anchor="middle">20</text>
<text x="123.5" y="263.1" font-size="7.9" font-weight="bold" text-anchor="middle">25</text>
<text x="141.8" y="263.1" font-size="7.9" font-weight="bold" text-anchor="middle">30</text>
<text x="87.25" y="159" font-size="8.9" font-weight="bold" text-anchor="middle">OAM Spectrum</text>
<text x="87.4" y="274.0" font-size="8.9" font-weight="bold" text-anchor="middle">Observation Radius <tspan font-style="italic">ρ</tspan> (m)</text>
<text transform="translate(18 207.5) rotate(-90)" font-size="9" font-weight="bold" text-anchor="middle">Topological Charge</text>
<text x="90" y="289.2" font-size="12.3" font-weight="bold" text-anchor="middle">(e)</text>
<rect x="149.6" y="161.4" width="6.5" height="91.7" fill="url(#copcb)"/>
<text x="158.3" y="164.9" font-size="7.2" font-weight="bold" text-anchor="start">1</text>
<text x="158.3" y="183.2" font-size="7.2" font-weight="bold" text-anchor="start">0.8</text>
<text x="158.3" y="201.5" font-size="7.2" font-weight="bold" text-anchor="start">0.6</text>
<text x="158.3" y="219.8" font-size="7.2" font-weight="bold" text-anchor="start">0.4</text>
<text x="158.3" y="238.1" font-size="7.2" font-weight="bold" text-anchor="start">0.2</text>
</g>
<g transform="translate(370.8 0)">
<rect x="32" y="162" width="109.8" height="91" fill="#000"/>
<g clip-path="url(#cliph)"><g filter="url(#hb)">
<rect x="27.23" y="158" width="3.43" height="99" fill="url(#hf0)"/>
<rect x="29.05" y="158" width="3.43" height="99" fill="url(#hf1)"/>
<rect x="30.89" y="158" width="3.43" height="99" fill="url(#hf2)"/>
<rect x="32.71" y="158" width="3.43" height="99" fill="url(#hf3)"/>
<rect x="34.54" y="158" width="3.43" height="99" fill="url(#hf4)"/>
<rect x="36.38" y="158" width="3.43" height="99" fill="url(#hf5)"/>
<rect x="38.2" y="158" width="3.43" height="99" fill="url(#hf6)"/>
<rect x="40.03" y="158" width="3.43" height="99" fill="url(#hf7)"/>
<rect x="41.86" y="158" width="3.43" height="99" fill="url(#hf8)"/>
<rect x="43.69" y="158" width="3.43" height="99" fill="url(#hf9)"/>
<rect x="45.52" y="158" width="3.43" height="99" fill="url(#hf10)"/>
<rect x="47.35" y="158" width="3.43" height="99" fill="url(#hf11)"/>
<rect x="49.18" y="158" width="3.43" height="99" fill="url(#hf12)"/>
<rect x="51.02" y="158" width="3.43" height="99" fill="url(#hf13)"/>
<rect x="52.84" y="158" width="3.43" height="99" fill="url(#hf14)"/>
<rect x="54.67" y="158" width="3.43" height="99" fill="url(#hf15)"/>
<rect x="56.5" y="158" width="3.43" height="99" fill="url(#hf16)"/>
<rect x="58.33" y="158" width="3.43" height="99" fill="url(#hf17)"/>
<rect x="60.16" y="158" width="3.43" height="99" fill="url(#hf18)"/>
<rect x="61.99" y="158" width="3.43" height="99" fill="url(#hf19)"/>
<rect x="63.83" y="158" width="3.43" height="99" fill="url(#hf20)"/>
<rect x="65.65" y="158" width="3.43" height="99" fill="url(#hf21)"/>
<rect x="67.48" y="158" width="3.43" height="99" fill="url(#hf22)"/>
<rect x="69.31" y="158" width="3.43" height="99" fill="url(#hf23)"/>
<rect x="71.14" y="158" width="3.43" height="99" fill="url(#hf24)"/>
<rect x="72.97" y="158" width="3.43" height="99" fill="url(#hf25)"/>
<rect x="74.8" y="158" width="3.43" height="99" fill="url(#hf26)"/>
<rect x="76.63" y="158" width="3.43" height="99" fill="url(#hf27)"/>
<rect x="78.46" y="158" width="3.43" height="99" fill="url(#hf28)"/>
<rect x="80.3" y="158" width="3.43" height="99" fill="url(#hf29)"/>
<rect x="82.12" y="158" width="3.43" height="99" fill="url(#hf30)"/>
<rect x="83.95" y="158" width="3.43" height="99" fill="url(#hf31)"/>
<rect x="85.78" y="158" width="3.43" height="99" fill="url(#hf32)"/>
<rect x="87.61" y="158" width="3.43" height="99" fill="url(#hf33)"/>
<rect x="89.44" y="158" width="3.43" height="99" fill="url(#hf34)"/>
<rect x="91.27" y="158" width="3.43" height="99" fill="url(#hf35)"/>
<rect x="93.1" y="158" width="3.43" height="99" fill="url(#hf36)"/>
<rect x="94.93" y="158" width="3.43" height="99" fill="url(#hf37)"/>
<rect x="96.76" y="158" width="3.43" height="99" fill="url(#hf38)"/>
<rect x="98.59" y="158" width="3.43" height="99" fill="url(#hf39)"/>
<rect x="100.42" y="158" width="3.43" height="99" fill="url(#hf40)"/>
<rect x="102.25" y="158" width="3.43" height="99" fill="url(#hf41)"/>
<rect x="104.08" y="158" width="3.43" height="99" fill="url(#hf42)"/>
<rect x="105.91" y="158" width="3.43" height="99" fill="url(#hf43)"/>
<rect x="107.74" y="158" width="3.43" height="99" fill="url(#hf44)"/>
<rect x="109.57" y="158" width="3.43" height="99" fill="url(#hf45)"/>
<rect x="111.4" y="158" width="3.43" height="99" fill="url(#hf46)"/>
<rect x="113.23" y="158" width="3.43" height="99" fill="url(#hf47)"/>
<rect x="115.06" y="158" width="3.43" height="99" fill="url(#hf48)"/>
<rect x="116.89" y="158" width="3.43" height="99" fill="url(#hf49)"/>
<rect x="118.72" y="158" width="3.43" height="99" fill="url(#hf50)"/>
<rect x="120.55" y="158" width="3.43" height="99" fill="url(#hf51)"/>
<rect x="122.38" y="158" width="3.43" height="99" fill="url(#hf52)"/>
<rect x="124.21" y="158" width="3.43" height="99" fill="url(#hf53)"/>
<rect x="126.04" y="158" width="3.43" height="99" fill="url(#hf54)"/>
<rect x="127.87" y="158" width="3.43" height="99" fill="url(#hf55)"/>
<rect x="129.7" y="158" width="3.43" height="99" fill="url(#hf56)"/>
<rect x="131.53" y="158" width="3.43" height="99" fill="url(#hf57)"/>
<rect x="133.37" y="158" width="3.43" height="99" fill="url(#hf58)"/>
<rect x="135.19" y="158" width="3.43" height="99" fill="url(#hf59)"/>
<rect x="137.03" y="158" width="3.43" height="99" fill="url(#hf60)"/>
<rect x="138.86" y="158" width="3.43" height="99" fill="url(#hf61)"/>
<rect x="140.69" y="158" width="3.43" height="99" fill="url(#hf62)"/>
<rect x="142.51" y="158" width="3.43" height="99" fill="url(#hf63)"/>
<rect x="144.34" y="158" width="3.43" height="99" fill="url(#hf64)"/>
</g></g>
<rect x="32.2" y="162.2" width="109.4" height="90.6" fill="none" stroke="#140c06" stroke-width="0.7" stroke-opacity="0.75"/>
<text x="30" y="164.65" font-size="7.7" font-weight="bold" text-anchor="end">5</text>
<text x="30" y="173.75" font-size="7.7" font-weight="bold" text-anchor="end">4</text>
<text x="30" y="182.85" font-size="7.7" font-weight="bold" text-anchor="end">3</text>
<text x="30" y="191.95" font-size="7.7" font-weight="bold" text-anchor="end">2</text>
<text x="30" y="201.05" font-size="7.7" font-weight="bold" text-anchor="end">1</text>
<text x="30" y="210.15" font-size="7.7" font-weight="bold" text-anchor="end">0</text>
<text x="30" y="219.25" font-size="7.7" font-weight="bold" text-anchor="end">−1</text>
<text x="30" y="228.35" font-size="7.7" font-weight="bold" text-anchor="end">−2</text>
<text x="30" y="237.45" font-size="7.7" font-weight="bold" text-anchor="end">−3</text>
<text x="30" y="246.55" font-size="7.7" font-weight="bold" text-anchor="end">−4</text>
<text x="30" y="255.65" font-size="7.7" font-weight="bold" text-anchor="end">−5</text>
<text x="32" y="263.1" font-size="7.9" font-weight="bold" text-anchor="middle">0</text>
<text x="50.3" y="263.1" font-size="7.9" font-weight="bold" text-anchor="middle">5</text>
<text x="68.6" y="263.1" font-size="7.9" font-weight="bold" text-anchor="middle">10</text>
<text x="86.9" y="263.1" font-size="7.9" font-weight="bold" text-anchor="middle">15</text>
<text x="105.2" y="263.1" font-size="7.9" font-weight="bold" text-anchor="middle">20</text>
<text x="123.5" y="263.1" font-size="7.9" font-weight="bold" text-anchor="middle">25</text>
<text x="141.8" y="263.1" font-size="7.9" font-weight="bold" text-anchor="middle">30</text>
<text x="87.25" y="159" font-size="8.9" font-weight="bold" text-anchor="middle">OAM Spectrum</text>
<text x="87.4" y="274.0" font-size="8.9" font-weight="bold" text-anchor="middle">Observation Radius <tspan font-style="italic">ρ</tspan> (m)</text>
<text transform="translate(18 207.5) rotate(-90)" font-size="9" font-weight="bold" text-anchor="middle">Topological Charge</text>
<text x="89.5" y="289" font-size="12.3" font-weight="normal" text-anchor="middle">(f)</text>
<rect x="149.6" y="161.4" width="6.5" height="91.7" fill="url(#copcb)"/>
<text x="158.3" y="164.9" font-size="7.2" font-weight="bold" text-anchor="start">1</text>
<text x="158.3" y="183.2" font-size="7.2" font-weight="bold" text-anchor="start">0.8</text>
<text x="158.3" y="201.5" font-size="7.2" font-weight="bold" text-anchor="start">0.6</text>
<text x="158.3" y="219.8" font-size="7.2" font-weight="bold" text-anchor="start">0.4</text>
<text x="158.3" y="238.1" font-size="7.2" font-weight="bold" text-anchor="start">0.2</text>
</g>
</svg></body></html>
